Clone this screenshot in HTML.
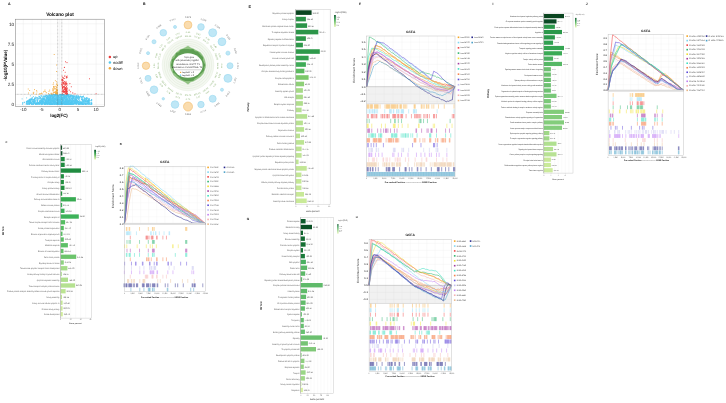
<!DOCTYPE html>
<html><head><meta charset="utf-8"><style>
html,body{margin:0;padding:0;background:#fff;width:726px;height:403px;overflow:hidden}
svg{display:block;font-family:"Liberation Sans", sans-serif;text-rendering:geometricPrecision}
</style></head><body>
<svg width="726" height="403" viewBox="0 0 726 403">
<rect width="726" height="403" fill="#fff"/>
<g opacity="0.999">
<text x="60" y="15.6" font-size="5" text-anchor="middle" fill="#000" font-weight="bold" textLength="27.7" lengthAdjust="spacingAndGlyphs">Volcano plot</text>
<rect x="15.6" y="19.2" width="88.7" height="87.2" fill="#fff"/>
<line x1="32.4" y1="19.2" x2="32.4" y2="106.4" stroke="#f3f3f3" stroke-width="0.3"/>
<line x1="50.6" y1="19.2" x2="50.6" y2="106.4" stroke="#f3f3f3" stroke-width="0.3"/>
<line x1="68.8" y1="19.2" x2="68.8" y2="106.4" stroke="#f3f3f3" stroke-width="0.3"/>
<line x1="87" y1="19.2" x2="87" y2="106.4" stroke="#f3f3f3" stroke-width="0.3"/>
<line x1="15.6" y1="94.5" x2="104.3" y2="94.5" stroke="#f3f3f3" stroke-width="0.3"/>
<line x1="15.6" y1="74.3" x2="104.3" y2="74.3" stroke="#f3f3f3" stroke-width="0.3"/>
<line x1="15.6" y1="54.1" x2="104.3" y2="54.1" stroke="#f3f3f3" stroke-width="0.3"/>
<line x1="15.6" y1="33.9" x2="104.3" y2="33.9" stroke="#f3f3f3" stroke-width="0.3"/>
<line x1="23.3" y1="19.2" x2="23.3" y2="106.4" stroke="#e8e8e8" stroke-width="0.4"/>
<line x1="41.5" y1="19.2" x2="41.5" y2="106.4" stroke="#e8e8e8" stroke-width="0.4"/>
<line x1="59.7" y1="19.2" x2="59.7" y2="106.4" stroke="#e8e8e8" stroke-width="0.4"/>
<line x1="77.9" y1="19.2" x2="77.9" y2="106.4" stroke="#e8e8e8" stroke-width="0.4"/>
<line x1="96.1" y1="19.2" x2="96.1" y2="106.4" stroke="#e8e8e8" stroke-width="0.4"/>
<line x1="15.6" y1="104.6" x2="104.3" y2="104.6" stroke="#e8e8e8" stroke-width="0.4"/>
<line x1="15.6" y1="84.4" x2="104.3" y2="84.4" stroke="#e8e8e8" stroke-width="0.4"/>
<line x1="15.6" y1="64.2" x2="104.3" y2="64.2" stroke="#e8e8e8" stroke-width="0.4"/>
<line x1="15.6" y1="44" x2="104.3" y2="44" stroke="#e8e8e8" stroke-width="0.4"/>
<line x1="15.6" y1="23.8" x2="104.3" y2="23.8" stroke="#e8e8e8" stroke-width="0.4"/>
<path d="M73.2 97.7h0M73.1 96.1h0M29.0 101.5h0M33.4 102.2h0M66.4 100.4h0M68.8 102.9h0M74.7 103.8h0M35.0 100.8h0M60.5 104.4h0M39.5 103.5h0M81.5 103.1h0M60.4 98.7h0M78.4 96.2h0M45.1 102.4h0M52.4 103.8h0M54.1 104.4h0M47.6 102.7h0M56.7 102.6h0M76.6 99.1h0M62.5 97.8h0M27.4 101.0h0M59.3 99.9h0M67.6 95.2h0M62.1 97.7h0M85.9 103.0h0M37.3 104.1h0M76.7 97.3h0M56.2 95.1h0M50.0 95.8h0M74.9 96.3h0M55.3 103.6h0M70.3 103.8h0M89.3 104.0h0M75.8 102.0h0M58.3 99.7h0M55.1 101.6h0M62.6 100.9h0M34.5 99.9h0M66.1 97.4h0M58.0 101.5h0M65.8 101.3h0M80.2 96.4h0M50.6 101.0h0M56.6 102.8h0M67.4 94.7h0M65.9 100.9h0M69.8 104.1h0M65.0 102.2h0M75.3 99.1h0M74.3 102.3h0M44.0 101.3h0M70.0 102.8h0M67.4 100.0h0M33.9 101.5h0M52.8 97.1h0M76.7 102.5h0M72.9 97.3h0M46.8 97.1h0M69.8 95.0h0M59.0 100.5h0M75.7 101.4h0M71.8 98.4h0M33.3 99.6h0M52.8 99.5h0M66.5 98.3h0M47.9 103.7h0M54.3 98.7h0M28.9 102.6h0M52.2 104.2h0M56.3 103.5h0M67.3 101.2h0M46.3 103.3h0M26.3 103.3h0M48.4 101.8h0M65.9 104.3h0M32.2 101.7h0M48.6 100.1h0M78.1 102.0h0M66.9 102.1h0M45.8 95.7h0M64.8 102.3h0M26.3 104.2h0M50.1 99.7h0M40.7 102.4h0M39.6 103.5h0M72.3 95.5h0M63.9 103.0h0M57.6 101.7h0M57.5 94.5h0M56.3 103.9h0M54.3 102.8h0M78.6 104.3h0M74.2 103.0h0M75.7 103.3h0M81.8 103.1h0M56.3 99.2h0M73.3 104.0h0M45.3 100.8h0M91.7 103.6h0M47.6 98.3h0M62.5 104.3h0M31.6 99.1h0M67.7 104.3h0M53.3 100.0h0M66.3 101.0h0M50.6 102.0h0M38.7 103.0h0M30.4 99.8h0M53.6 102.8h0M83.9 104.0h0M45.0 102.6h0M55.0 99.9h0M30.5 103.7h0M76.4 99.5h0M53.5 94.4h0M29.3 100.1h0M23.9 102.9h0M71.3 103.9h0M66.2 99.6h0M56.0 103.7h0M29.0 104.2h0M63.8 100.0h0M81.8 104.0h0M61.7 102.6h0M57.2 95.2h0M78.7 103.9h0M58.3 95.6h0M66.7 99.5h0M50.2 98.0h0M56.5 103.9h0M44.9 103.7h0M67.7 104.1h0M32.0 104.1h0M75.2 103.3h0M56.6 102.5h0M28.1 101.2h0M78.6 99.6h0M85.9 104.1h0M68.3 97.1h0M51.0 103.2h0M51.0 99.7h0M54.4 96.8h0M77.2 101.9h0M59.0 99.8h0M64.4 98.0h0M62.5 103.4h0M61.6 95.9h0M59.7 101.1h0M65.4 101.6h0M59.3 104.0h0M66.6 102.0h0M35.8 103.4h0M70.4 103.7h0M61.1 104.3h0M49.6 95.6h0M68.9 101.2h0M33.7 100.6h0M74.7 99.3h0M36.6 103.7h0M60.3 101.8h0M49.3 102.7h0M64.9 102.9h0M71.7 103.7h0M45.1 99.6h0M32.2 98.1h0M80.8 102.2h0M68.2 100.4h0M59.1 102.3h0M85.0 101.9h0M29.6 103.7h0M71.8 102.0h0M59.2 102.6h0M73.1 104.3h0M37.6 101.5h0M54.3 102.6h0M58.6 100.3h0M64.1 96.4h0M75.9 101.3h0M61.5 102.0h0M72.2 96.1h0M36.4 103.5h0M67.4 102.6h0M63.1 102.6h0M35.7 104.2h0M71.7 100.2h0M66.7 104.2h0M29.3 103.9h0M55.5 101.6h0M64.0 97.8h0M74.9 98.3h0M48.1 101.6h0M67.7 95.2h0M70.6 103.0h0M50.4 103.9h0M64.7 98.8h0M68.6 104.2h0M61.5 104.3h0M68.1 96.5h0M65.0 103.2h0M68.7 102.2h0M77.0 97.7h0M32.2 101.8h0M61.1 98.3h0M81.3 104.0h0M50.9 95.8h0M46.8 98.0h0M59.9 94.7h0M65.4 104.0h0M52.8 104.2h0M28.3 102.1h0M69.3 103.4h0M50.8 103.5h0M46.1 103.3h0M76.8 103.3h0M79.4 97.8h0M51.6 103.8h0M57.3 104.3h0M76.7 96.8h0M71.8 97.6h0M49.0 99.6h0M50.1 104.3h0M35.9 101.0h0M50.9 104.3h0M67.0 102.0h0M55.9 94.6h0M84.7 100.2h0M60.2 97.1h0M47.0 100.1h0M59.3 102.8h0M70.2 100.1h0M71.5 102.7h0M43.6 98.9h0M66.1 97.9h0M86.8 98.7h0M79.3 99.0h0M39.4 101.3h0M41.4 96.1h0M58.9 101.9h0M60.3 99.0h0M83.9 100.8h0M75.2 100.6h0M49.9 96.3h0M72.4 102.8h0M39.6 103.8h0M74.8 103.4h0M40.3 100.8h0M81.9 99.5h0M45.4 96.4h0M67.0 102.9h0M87.4 103.8h0M72.3 99.9h0M70.9 103.6h0M47.5 98.5h0M43.7 101.3h0M86.8 103.2h0M67.1 95.6h0M51.5 101.1h0M36.0 103.7h0M66.0 99.6h0M63.8 97.7h0M77.9 98.1h0M84.7 97.6h0M87.3 104.1h0M67.9 102.1h0M63.2 98.7h0M31.5 102.7h0M55.1 99.7h0M64.3 98.7h0M90.4 104.3h0M71.9 102.8h0M52.4 101.1h0M57.4 102.0h0M30.5 102.3h0M76.2 100.5h0M46.5 100.9h0M81.4 102.2h0M57.1 102.9h0M55.3 101.1h0M60.5 101.9h0M32.0 103.0h0M26.5 101.4h0M69.6 101.4h0M60.7 100.6h0M66.7 101.4h0M91.7 104.2h0M78.9 101.3h0M54.1 101.9h0M53.7 99.8h0M67.1 99.4h0M81.9 102.3h0M78.5 96.9h0M63.0 94.3h0M82.7 103.9h0M52.9 94.9h0M39.9 102.1h0M49.1 99.1h0M61.7 103.7h0M71.2 96.2h0M38.7 104.3h0M87.1 101.3h0M65.4 103.2h0M85.6 104.3h0M50.4 98.0h0M64.2 97.5h0M24.3 102.5h0M55.6 104.0h0M50.0 102.2h0M30.0 103.7h0M43.0 103.2h0M58.9 101.0h0M26.7 101.3h0M52.7 100.8h0M76.4 104.2h0M72.3 102.4h0M62.8 102.7h0M42.9 102.4h0M35.1 100.0h0M86.4 97.7h0M74.9 104.2h0M86.0 100.0h0M36.9 103.1h0M78.9 97.9h0M50.6 100.2h0M72.0 101.5h0M69.9 103.8h0M42.9 103.1h0M73.2 103.1h0M65.8 101.9h0M41.8 103.2h0M54.0 95.9h0M66.0 103.9h0M58.6 104.3h0M42.9 97.7h0M62.3 99.8h0M57.0 98.2h0M65.0 103.3h0M33.2 104.2h0M32.1 104.2h0M43.3 98.9h0M37.4 100.3h0M33.8 99.8h0M59.5 97.7h0M60.4 95.7h0M64.8 103.0h0M39.2 104.1h0M67.3 104.1h0M46.0 103.7h0M46.6 101.1h0M54.5 100.0h0M35.4 103.3h0M32.3 101.6h0M52.8 97.5h0M44.8 104.0h0M53.4 102.2h0M43.0 99.9h0M86.8 104.1h0M47.5 104.0h0M79.7 100.7h0M72.4 99.6h0M42.7 102.0h0M57.5 104.1h0M56.9 96.2h0M46.5 102.8h0M81.4 97.6h0M51.6 104.0h0M60.2 100.1h0M62.7 104.0h0M88.6 102.4h0M46.8 98.0h0M54.4 94.6h0M58.4 101.4h0M26.3 103.2h0M48.6 100.8h0M50.4 99.4h0M46.8 97.5h0M62.5 95.2h0M63.0 101.4h0M62.6 100.8h0M59.3 101.1h0M64.5 103.9h0M49.6 98.8h0M32.7 97.7h0M62.5 101.4h0M80.5 103.8h0M32.9 101.4h0M64.6 102.2h0M58.5 97.6h0M53.1 99.8h0M57.2 96.1h0M44.1 102.6h0M34.6 102.4h0M66.5 99.1h0M72.3 104.4h0M46.0 97.0h0M52.9 96.8h0M47.7 98.4h0M58.7 98.3h0M76.6 103.8h0M82.9 99.2h0M28.9 102.2h0M59.9 103.9h0M85.0 103.5h0M67.4 102.0h0M40.7 103.1h0M55.6 99.0h0M59.1 101.5h0M44.2 98.6h0M41.6 101.8h0M30.1 103.6h0M35.6 104.3h0M47.1 98.0h0M46.1 97.7h0M63.4 100.6h0M66.0 99.5h0M65.1 98.3h0M65.3 104.3h0M88.9 103.8h0M38.2 102.8h0M55.8 103.3h0M63.8 101.5h0M58.0 103.7h0M82.9 100.0h0M46.8 102.0h0M57.2 101.3h0M70.1 96.7h0M74.5 96.9h0M76.4 102.0h0M67.9 96.2h0M54.3 103.5h0M61.3 103.1h0M74.9 103.6h0M66.4 104.1h0M49.2 103.8h0M49.2 104.4h0M54.2 104.4h0M62.5 94.9h0M46.9 96.0h0M60.6 104.2h0M74.2 101.3h0M54.8 95.6h0M60.2 103.6h0M60.9 101.4h0M40.8 103.0h0M30.7 102.0h0M50.8 104.1h0M52.0 102.6h0M75.5 102.8h0M34.0 101.7h0M44.5 99.7h0M66.5 104.3h0M45.8 103.8h0M62.4 101.3h0M55.2 102.8h0M51.0 102.7h0M44.7 104.1h0M65.0 102.4h0M57.8 98.7h0M81.0 102.8h0M54.9 96.2h0M74.8 103.4h0M57.5 100.8h0M83.9 101.7h0M62.3 101.3h0M65.2 101.8h0M69.2 96.3h0M70.1 102.2h0M63.6 103.6h0M59.3 104.0h0M83.5 104.2h0M55.9 99.4h0M57.8 101.2h0M56.8 102.4h0M58.5 96.4h0M65.4 96.6h0M48.3 99.6h0M61.5 96.0h0M66.3 95.3h0M29.1 100.0h0M34.5 99.7h0M55.2 102.9h0M33.9 102.6h0M75.7 100.0h0M48.8 102.9h0M50.3 97.2h0M41.6 101.3h0M31.5 100.0h0M59.1 102.4h0M36.5 97.4h0M49.2 100.7h0M59.7 103.3h0M76.1 103.4h0M66.2 103.5h0M46.0 103.2h0M61.1 104.0h0M73.1 96.1h0M75.8 103.2h0M59.1 103.6h0M57.3 104.3h0M64.5 96.5h0M72.4 98.5h0M61.5 102.0h0M59.0 103.0h0M63.2 103.9h0M59.9 94.9h0M72.3 97.1h0M63.7 102.5h0M52.1 96.6h0M44.9 103.8h0M76.7 100.4h0M70.8 103.3h0M60.1 98.9h0M55.5 103.4h0M33.7 101.2h0M72.6 101.2h0M66.1 98.7h0M80.5 103.7h0M54.1 98.0h0M58.1 101.1h0M65.6 100.2h0M67.7 102.6h0M50.3 101.2h0M67.0 103.9h0M51.7 104.0h0M27.5 102.7h0M56.5 104.3h0M66.7 95.8h0M71.0 102.4h0M65.8 104.3h0M54.3 101.4h0M87.0 102.2h0M71.2 98.5h0M75.4 100.8h0M86.8 101.2h0M40.4 102.7h0M49.5 99.7h0M68.6 95.7h0M71.1 98.7h0M59.1 99.5h0M30.1 100.5h0M43.8 98.8h0M55.9 95.2h0M60.5 100.1h0M46.7 98.7h0M31.6 100.0h0M60.4 97.3h0M35.5 101.8h0M70.5 95.3h0M78.7 104.2h0M86.8 100.0h0M43.3 98.3h0M50.4 96.5h0M87.7 102.1h0M43.5 99.6h0M91.3 103.4h0M69.8 104.3h0M69.2 102.8h0M41.5 99.6h0M55.1 95.9h0M54.9 102.2h0M68.6 104.0h0M50.9 95.4h0M80.3 103.3h0M49.4 104.0h0M48.9 103.0h0M61.1 101.4h0M60.6 96.1h0M53.7 95.2h0M70.6 104.4h0M51.3 94.7h0M72.9 97.5h0M54.6 95.7h0M35.7 97.0h0M73.4 102.8h0M45.5 101.5h0M66.8 95.2h0M51.6 103.2h0M80.9 104.1h0M78.0 101.1h0M68.8 100.7h0M59.4 103.8h0M69.4 104.3h0M47.6 103.3h0M68.9 101.0h0M68.7 104.2h0M47.7 96.4h0M54.4 104.3h0M85.5 100.6h0M79.7 102.0h0M63.8 103.4h0M74.4 103.6h0M65.9 95.9h0M57.4 97.4h0M84.5 101.9h0M45.0 95.4h0M51.2 95.6h0M85.4 100.0h0M56.2 95.7h0M28.7 103.3h0M78.5 103.8h0M47.1 103.1h0M58.4 95.1h0M60.1 104.3h0M32.2 103.8h0M73.9 99.9h0M29.3 101.0h0M62.9 104.0h0M68.4 95.3h0M48.3 101.8h0M62.7 103.6h0M85.0 104.3h0M44.7 103.4h0M48.9 102.8h0M47.6 101.1h0M56.2 95.1h0M50.0 97.5h0M65.6 99.9h0M71.3 103.5h0M61.2 98.6h0M62.0 103.1h0M79.1 102.5h0M62.5 98.8h0M70.6 103.4h0M37.8 100.8h0M44.4 96.7h0M71.2 103.9h0M44.4 99.9h0M46.6 103.1h0M78.7 101.6h0M57.1 99.0h0M65.3 99.9h0M62.6 94.6h0M80.2 96.3h0M46.7 102.2h0M62.6 103.9h0M59.6 97.8h0M66.7 99.9h0M64.9 98.1h0M64.3 103.9h0M73.6 98.2h0M74.7 103.4h0M70.3 103.0h0M76.0 100.3h0M63.5 94.6h0M58.0 99.9h0M45.8 103.3h0M37.3 100.7h0M41.7 99.8h0M52.0 103.0h0M50.7 104.3h0M47.1 99.3h0M75.2 97.7h0M46.7 99.1h0M77.3 97.0h0M34.5 98.5h0M53.8 97.1h0M70.4 99.2h0M88.9 103.2h0M55.1 103.9h0M30.7 99.6h0M71.4 101.0h0M48.1 103.2h0M89.6 98.8h0M82.1 100.0h0M44.4 98.7h0M63.8 103.3h0M86.8 101.3h0M65.1 104.3h0M77.4 102.4h0M54.6 100.2h0M46.3 100.2h0M59.9 97.3h0M48.8 97.2h0M46.8 104.0h0M79.0 104.4h0M64.8 96.4h0M50.0 104.0h0M71.2 101.3h0M39.5 101.7h0M82.9 96.8h0M37.4 103.7h0M50.7 101.2h0M43.5 100.2h0M62.6 101.5h0M35.3 97.9h0M75.9 102.6h0M44.8 102.4h0M88.1 100.7h0M91.7 103.0h0M59.7 103.7h0M59.3 102.8h0M71.5 103.8h0M54.9 100.6h0M61.6 97.5h0M79.2 96.8h0M34.9 97.8h0M70.7 100.5h0M50.0 98.0h0M75.0 101.8h0M46.0 103.1h0M47.8 104.4h0M72.3 96.4h0M69.8 98.9h0M89.5 100.3h0M28.7 102.2h0M60.6 102.6h0M57.1 95.1h0M89.3 99.0h0M70.4 97.1h0M65.0 103.1h0M59.7 103.8h0M38.4 103.8h0M34.5 98.9h0M81.8 99.5h0M43.1 101.9h0M66.5 101.9h0M53.8 97.2h0M31.5 103.8h0M62.0 103.1h0M50.4 101.3h0M75.7 103.0h0M51.6 100.8h0M56.0 99.0h0M83.1 100.8h0M62.7 100.1h0M67.0 100.9h0M74.3 101.7h0M66.8 102.5h0M48.3 102.8h0M47.6 101.9h0M81.8 102.6h0M41.7 103.3h0M52.3 95.6h0M55.4 100.9h0M50.5 103.2h0M63.2 103.8h0M49.7 103.5h0M88.4 103.8h0M51.3 94.6h0M58.7 95.8h0M34.6 102.2h0M35.9 104.2h0M84.7 100.6h0M47.8 97.8h0M54.1 99.3h0M57.8 104.2h0M22.6 102.7h0M85.4 104.0h0M54.1 101.2h0M47.0 98.1h0M72.2 101.7h0M48.1 102.6h0M68.6 95.1h0M34.8 100.4h0M48.0 96.4h0M30.7 101.4h0M43.5 97.2h0M82.5 103.4h0M51.0 103.6h0M62.8 103.3h0M57.3 98.8h0M46.9 100.6h0M63.2 102.8h0M79.5 103.2h0M65.2 102.1h0M50.0 97.7h0M55.4 96.9h0M65.2 103.9h0M89.3 102.8h0M70.0 96.4h0M41.7 102.9h0M65.8 101.9h0M66.4 103.8h0M45.3 96.3h0M68.7 103.0h0M47.7 96.7h0M51.9 98.6h0M47.9 103.8h0M39.3 96.6h0M57.4 101.4h0M37.1 104.1h0M70.7 102.5h0M54.9 99.2h0M51.1 104.3h0M72.6 104.1h0M70.0 97.7h0M59.5 103.8h0M39.0 103.9h0M77.8 102.9h0M37.8 99.3h0M22.6 104.3h0M82.4 96.6h0M73.6 103.5h0M73.9 100.4h0M57.3 100.8h0M34.1 103.6h0M63.5 97.4h0M75.1 100.0h0M59.9 103.3h0M85.9 98.2h0M78.1 95.8h0M57.4 101.3h0M65.2 101.0h0M82.4 99.0h0M71.7 103.5h0M63.5 103.0h0M68.7 97.2h0M51.8 104.3h0M56.8 99.1h0M48.7 99.9h0M47.2 97.8h0M40.6 100.7h0M58.3 104.2h0M73.0 95.6h0M61.8 98.6h0M66.4 101.6h0M91.7 104.1h0M66.9 102.4h0M43.6 98.6h0M53.7 99.9h0M86.6 99.9h0M41.0 99.1h0M48.1 101.3h0M56.2 104.2h0M60.3 102.4h0M67.8 104.3h0M29.7 99.6h0M69.8 100.9h0M69.2 100.5h0M53.5 96.6h0M79.4 102.2h0M46.2 104.0h0M67.7 99.0h0M65.6 103.5h0M50.7 102.5h0M32.9 100.5h0M36.0 98.8h0M66.5 103.0h0M78.0 102.3h0M71.8 95.4h0M62.2 102.1h0M54.8 101.8h0M45.0 103.0h0M53.1 98.5h0M54.1 101.0h0M53.1 104.3h0M38.1 98.5h0M77.3 96.0h0M65.2 103.8h0M61.9 102.6h0M51.5 95.9h0M61.3 98.4h0M77.2 100.5h0M44.8 97.8h0M80.7 102.8h0M54.4 101.1h0M49.9 98.1h0M72.6 98.9h0M48.4 98.4h0M40.1 97.5h0M51.2 96.9h0M58.0 97.9h0M59.1 99.8h0M61.5 95.4h0M83.1 104.3h0M72.0 102.5h0M66.5 97.6h0M67.3 102.0h0M75.2 101.8h0M55.6 102.0h0M78.3 97.7h0M53.4 100.8h0M72.0 102.0h0M55.8 98.1h0M58.8 98.6h0M85.6 101.2h0M69.6 96.3h0M26.9 103.5h0M39.1 104.0h0M58.2 96.9h0M27.9 103.5h0M46.3 103.1h0M59.3 101.3h0M71.6 95.1h0M78.5 103.0h0M80.8 103.0h0M85.4 101.3h0M45.6 100.4h0M74.5 102.1h0M39.6 102.4h0M73.6 103.7h0M52.6 102.0h0M45.0 104.2h0M73.0 104.2h0M71.5 101.9h0M49.4 102.9h0M76.3 95.9h0M49.9 104.2h0M56.7 104.1h0M82.9 104.0h0M63.0 94.6h0M56.7 103.4h0M68.6 101.3h0M30.7 102.3h0M66.4 96.2h0M32.1 104.0h0M30.6 100.3h0M68.1 98.1h0M53.0 103.2h0M52.8 100.4h0M62.9 98.5h0M53.2 100.6h0M54.0 97.4h0M58.4 102.7h0M64.5 103.3h0M68.6 103.4h0M52.7 96.7h0M83.4 101.3h0M55.2 98.7h0M84.2 98.8h0M77.1 103.0h0M59.7 103.7h0M58.7 103.6h0M65.5 103.4h0M65.9 99.5h0M46.2 103.0h0M65.6 101.1h0M79.1 104.0h0M33.9 99.4h0M62.1 97.1h0M46.3 102.3h0M42.6 100.0h0M75.7 98.0h0M52.7 95.9h0M65.1 95.7h0M77.5 101.7h0M64.0 103.6h0M81.7 103.5h0M51.4 100.8h0M65.6 97.5h0M50.8 103.8h0M35.6 104.1h0M57.9 103.7h0M42.3 99.0h0M62.2 104.3h0M83.1 102.0h0M82.2 104.3h0M46.2 103.6h0M56.8 100.1h0M48.1 100.4h0M86.3 101.4h0M45.7 102.0h0M62.9 98.3h0M42.7 103.7h0M72.0 103.2h0M67.1 98.1h0M51.1 95.7h0M59.5 99.6h0M44.5 104.1h0M53.5 97.7h0M30.3 103.3h0M44.5 104.1h0M78.1 101.8h0M73.8 97.3h0M56.0 97.3h0M30.2 102.9h0M89.1 100.1h0M80.6 101.4h0M43.1 100.1h0M51.1 100.9h0M78.2 96.4h0M74.3 95.8h0M46.9 95.3h0M77.6 98.2h0M46.2 99.8h0M27.5 104.1h0M62.1 101.6h0M54.3 103.8h0M60.9 100.8h0M41.0 95.8h0M55.6 95.2h0M50.4 98.1h0M62.8 97.4h0M82.5 101.3h0M60.8 104.1h0M29.1 99.9h0M53.6 101.2h0M41.7 103.6h0M61.7 94.7h0M61.4 104.0h0M68.2 95.2h0M28.7 100.3h0M66.8 104.0h0M68.8 98.7h0M85.9 104.0h0M44.8 100.0h0M28.3 101.2h0M51.8 100.1h0M66.5 104.0h0M53.3 101.4h0M68.3 100.5h0M88.6 100.4h0M81.6 103.3h0M47.9 104.3h0M87.9 101.5h0M56.1 96.2h0M84.8 102.1h0M91.1 104.2h0M66.7 99.7h0M53.2 104.3h0M68.6 102.1h0M70.5 95.5h0M42.4 100.2h0M76.2 103.9h0M51.1 95.8h0M52.2 98.5h0M87.9 98.4h0M38.7 98.2h0M33.0 104.2h0M88.8 104.3h0M68.0 101.1h0M44.3 103.5h0M73.1 103.7h0M64.1 95.3h0M82.6 104.3h0M59.0 103.7h0M31.4 99.6h0M66.9 95.3h0M72.6 99.7h0M56.5 103.5h0M52.5 101.4h0M50.7 98.3h0M78.9 103.4h0M55.8 99.8h0M59.3 103.5h0M64.6 102.0h0M54.1 100.4h0M37.3 102.8h0M82.3 104.0h0M69.1 99.4h0M64.5 95.7h0M49.1 96.7h0M69.5 100.8h0M63.0 94.8h0M64.7 102.0h0M42.7 101.2h0M48.8 97.7h0M30.7 99.9h0M52.4 102.8h0M42.9 103.2h0M60.0 96.9h0M51.6 104.3h0M52.1 104.0h0M91.7 103.3h0M52.9 100.7h0M68.1 95.4h0M81.8 98.0h0M54.0 94.6h0M62.9 100.1h0M91.7 99.8h0M49.1 100.6h0M37.8 97.7h0M33.9 103.2h0M82.0 96.5h0M68.7 102.2h0M44.8 104.0h0M53.7 103.4h0M62.5 103.9h0M58.3 101.6h0M60.5 94.9h0M84.9 98.5h0M81.7 102.8h0M47.2 96.0h0M91.7 99.5h0M48.2 100.2h0M77.9 104.0h0M39.3 101.3h0M57.0 101.0h0M76.1 99.5h0M52.7 98.4h0M65.0 97.7h0M58.8 98.9h0M67.4 94.9h0M70.8 96.5h0M62.3 99.8h0M63.0 95.9h0M60.0 99.6h0M75.2 102.3h0M39.8 96.7h0M44.9 96.4h0M82.3 103.7h0M42.7 103.9h0M82.6 97.8h0M66.9 103.7h0M47.0 99.6h0M89.8 103.4h0M46.4 102.1h0M61.9 99.1h0M69.2 99.0h0M52.5 104.0h0M64.2 101.0h0M49.4 100.7h0M67.9 103.9h0M62.8 104.0h0M63.4 100.9h0M67.2 102.9h0M72.8 101.7h0M63.2 98.1h0M59.7 101.3h0M52.1 95.4h0M74.0 100.7h0M70.7 103.3h0M67.7 103.8h0M45.9 103.5h0M71.2 102.5h0M79.8 98.2h0M40.7 98.0h0M45.8 103.3h0M51.4 103.0h0M41.1 98.4h0M73.8 96.7h0M42.2 101.2h0M60.5 98.9h0M83.8 104.3h0M91.7 103.5h0M45.3 103.8h0M71.1 103.6h0M54.6 104.0h0M46.0 103.3h0M83.3 101.9h0M43.9 103.7h0M30.4 101.4h0M27.5 104.1h0M36.1 99.0h0M69.4 104.3h0M63.4 95.3h0M69.9 102.0h0M85.3 104.3h0M56.1 104.0h0M53.9 102.4h0M87.6 100.9h0M90.3 102.8h0M59.1 100.6h0M46.9 101.3h0M43.4 96.6h0M69.8 96.3h0M55.2 95.0h0M31.3 98.1h0M73.4 97.9h0M46.8 102.9h0M64.4 103.7h0M60.3 96.3h0M54.1 103.6h0M33.4 101.8h0M34.1 103.4h0M32.4 99.1h0M61.3 97.4h0M64.2 96.5h0M41.8 101.7h0M75.8 99.1h0M51.2 101.8h0M56.2 98.5h0M48.5 103.3h0M30.3 101.7h0M66.0 104.3h0M45.3 99.7h0M70.6 101.7h0M41.3 104.0h0M41.7 104.3h0M51.4 99.7h0M57.9 98.5h0M76.8 99.4h0M42.3 103.6h0M51.0 100.7h0M69.0 101.8h0M88.6 99.6h0M88.5 102.1h0M28.0 101.3h0M48.1 99.8h0M65.0 95.3h0M50.7 96.4h0M52.3 100.6h0M62.1 98.4h0M79.8 104.3h0M62.6 99.4h0M59.1 104.0h0M68.6 101.2h0M33.1 104.3h0M65.7 104.3h0M74.8 100.2h0M57.6 95.4h0M76.3 96.6h0M59.6 99.6h0M53.9 102.6h0M89.2 104.1h0M74.4 103.5h0M83.0 104.2h0M76.6 95.7h0M68.6 97.2h0M79.1 103.9h0M88.7 102.3h0M76.0 96.8h0M88.6 100.9h0M86.3 99.9h0M67.5 98.7h0M52.5 104.1h0M62.5 98.3h0M80.1 97.2h0M42.0 98.4h0M33.5 104.3h0M37.1 98.0h0M52.8 100.6h0M82.3 100.5h0M71.6 103.6h0M60.7 104.2h0M46.1 103.7h0M49.3 102.2h0M43.9 103.1h0M63.9 95.0h0M47.0 101.5h0M66.8 99.4h0M35.7 102.1h0M26.3 101.9h0M38.6 103.3h0M59.0 99.2h0M55.0 95.3h0M51.4 97.8h0M69.6 98.5h0M42.3 97.1h0M58.0 99.3h0M61.5 103.4h0M88.7 101.6h0M68.4 97.8h0M65.4 101.0h0M91.7 102.9h0M76.4 104.2h0M29.6 99.2h0M56.7 100.7h0M63.3 102.7h0M53.5 98.0h0M54.1 102.5h0M32.5 99.9h0M68.2 96.4h0M46.1 103.5h0M31.0 101.7h0M54.2 98.9h0M55.8 100.0h0M36.8 102.9h0M69.8 96.2h0M50.1 102.0h0M71.2 102.6h0M49.5 101.5h0M78.0 97.1h0M62.1 101.3h0M86.7 98.1h0M37.8 102.6h0M67.1 97.0h0M37.9 103.5h0M47.8 100.0h0M59.4 97.0h0M70.2 102.3h0M39.6 98.7h0M63.8 97.8h0M74.9 96.5h0M83.9 99.9h0M58.4 103.5h0M31.8 99.2h0M35.1 98.2h0M39.9 102.7h0M65.8 99.9h0M46.4 97.0h0M80.1 102.0h0M46.5 99.3h0M59.7 102.8h0M67.8 100.4h0M49.9 96.3h0M67.6 95.1h0M56.2 97.3h0M66.7 95.2h0M60.4 95.3h0M51.9 103.5h0M30.7 98.7h0M30.3 102.8h0M87.6 101.8h0M53.1 98.0h0M54.7 98.2h0M52.2 104.3h0M61.6 104.4h0M75.2 103.4h0M43.2 101.4h0M45.9 102.9h0M73.1 103.3h0M56.7 97.7h0M49.8 104.1h0M82.3 100.2h0M89.1 100.3h0M57.9 95.8h0M49.5 95.5h0M78.1 96.2h0M69.3 104.0h0M31.7 98.9h0M81.7 99.3h0M47.5 96.6h0M50.6 101.8h0M75.6 99.8h0M51.1 104.0h0M45.0 103.8h0M76.7 100.3h0M74.1 98.9h0M28.3 101.1h0M83.2 100.7h0M38.1 99.3h0M73.6 101.5h0M42.3 102.3h0M49.2 99.6h0M44.4 100.1h0M66.1 103.6h0M43.0 102.8h0M54.6 103.4h0M63.0 95.6h0M48.0 104.0h0M62.3 104.1h0M58.1 101.7h0M50.3 103.7h0M74.4 103.2h0M73.0 98.2h0M27.1 104.2h0M57.3 101.6h0M42.2 101.4h0M71.1 104.2h0M48.4 96.7h0M51.3 96.0h0M67.4 99.6h0M52.6 104.4h0M58.8 102.5h0M43.7 95.8h0M86.0 103.2h0M69.0 103.8h0M32.6 100.0h0M76.1 101.3h0M64.3 104.4h0M52.5 95.6h0M58.7 104.3h0M42.0 102.3h0M66.9 96.5h0M42.1 100.8h0M57.6 99.3h0M59.7 95.3h0M70.7 102.0h0M78.8 99.1h0M55.6 102.6h0M59.0 100.8h0M62.7 104.3h0M81.1 103.0h0M72.4 100.9h0M71.7 98.8h0M76.2 101.7h0M40.0 98.4h0M28.8 104.0h0M69.0 103.8h0M91.7 100.1h0M42.6 98.7h0M52.2 98.5h0M67.8 103.7h0M72.8 98.6h0M63.9 94.9h0M82.8 101.3h0M53.3 103.6h0M42.3 101.7h0M44.1 100.1h0M60.8 103.8h0M73.8 103.0h0M75.9 102.7h0M60.5 103.1h0M87.7 101.2h0M29.5 102.1h0M42.9 104.3h0M64.8 95.3h0M62.0 96.7h0M67.3 104.3h0M47.9 103.8h0M51.2 104.1h0M75.4 104.1h0M64.1 99.8h0M50.9 97.1h0M69.8 99.1h0M66.0 103.9h0M64.2 104.0h0M60.3 96.9h0M51.2 98.1h0M87.9 103.7h0M83.0 99.4h0M71.0 99.9h0M40.3 104.2h0M43.0 104.1h0M52.1 103.8h0M53.9 103.0h0M65.3 104.0h0M82.1 104.0h0M69.1 101.6h0M89.6 101.7h0M63.5 99.2h0M39.1 96.8h0M46.6 95.5h0M64.9 98.0h0M44.1 101.5h0M55.4 103.7h0M84.9 103.9h0M47.8 98.1h0M67.3 101.2h0M75.2 103.2h0M66.2 102.9h0M63.1 99.3h0M72.4 103.4h0M73.2 98.2h0M41.0 96.0h0M84.2 103.2h0M63.0 96.0h0M70.5 103.8h0M58.0 102.4h0M59.2 95.4h0M82.7 103.6h0M40.1 103.3h0M41.7 104.3h0M30.3 101.3h0M31.7 102.6h0M58.6 95.9h0M56.3 98.0h0M69.0 99.9h0M35.4 104.0h0M60.9 103.0h0M59.7 97.9h0M84.2 101.0h0M49.8 100.4h0M47.2 103.5h0M76.8 101.6h0M37.2 102.9h0M22.6 103.3h0M70.1 100.3h0M67.8 97.3h0M57.6 101.9h0M59.7 103.0h0M33.9 103.2h0M71.2 100.6h0M64.4 97.6h0M36.9 104.2h0M89.4 102.9h0M63.9 95.8h0M68.7 104.3h0M55.8 104.0h0M26.3 104.0h0M73.2 100.9h0M63.9 103.0h0M52.8 97.4h0M65.9 103.7h0M53.1 99.9h0M57.7 101.9h0M61.3 104.0h0M75.2 95.8h0M51.1 103.2h0M40.7 99.1h0M50.1 103.0h0M56.9 100.8h0M60.9 94.4h0M64.0 96.0h0M36.5 103.7h0M69.0 99.7h0M37.2 101.4h0M72.0 99.0h0M31.7 104.1h0M54.5 98.4h0M75.1 98.9h0M59.9 95.7h0M56.7 96.8h0M49.8 95.0h0M74.3 102.9h0M51.0 101.1h0M47.6 102.3h0M67.8 103.8h0M72.3 101.1h0M50.3 103.2h0M81.3 96.7h0M42.3 101.3h0M82.4 103.5h0M69.2 101.2h0M54.1 102.9h0M53.2 101.5h0M50.1 99.6h0M89.9 104.2h0M64.3 100.0h0M41.2 100.7h0M48.6 102.1h0M45.3 98.2h0M60.4 100.7h0M63.3 100.1h0M59.1 97.1h0M63.3 98.2h0M74.0 96.8h0M58.8 102.4h0M37.1 104.4h0M51.1 103.6h0M35.1 98.4h0M66.6 101.0h0M57.0 102.7h0M41.9 100.1h0M76.4 99.3h0M82.6 102.3h0M35.1 102.6h0M56.3 102.2h0M62.5 97.8h0M77.1 98.8h0M48.7 97.9h0M50.6 102.9h0M70.9 104.3h0M86.7 104.3h0M53.2 95.4h0M41.3 102.9h0M65.0 99.0h0M70.4 96.2h0M34.7 101.7h0M61.4 103.6h0M87.9 101.0h0M51.8 103.1h0M81.6 99.3h0M88.1 100.8h0M59.3 103.6h0M63.1 94.5h0M43.5 102.4h0M72.9 98.5h0M41.7 103.1h0M75.3 100.1h0M73.3 96.8h0M55.4 103.1h0M58.7 96.1h0M55.2 102.2h0M54.0 102.4h0M78.5 98.4h0M51.0 101.8h0M47.1 103.7h0M57.4 103.1h0M48.3 99.6h0M64.7 104.3h0M52.7 98.0h0M63.8 96.6h0M61.2 104.2h0M86.0 102.9h0M52.5 95.3h0M28.8 103.9h0M70.9 103.3h0M51.2 94.8h0M49.3 98.7h0M67.8 101.7h0M63.1 98.8h0M29.6 104.2h0M53.7 98.3h0M91.7 102.1h0M47.6 95.9h0M29.9 101.6h0M50.6 103.9h0M60.7 100.4h0M40.7 101.9h0M64.0 100.0h0M53.7 103.4h0M45.6 104.0h0M32.2 102.4h0M82.0 103.5h0M30.8 100.0h0M71.2 102.7h0M55.4 104.0h0M60.5 101.1h0M74.2 100.7h0M63.0 101.3h0M33.5 103.8h0M66.2 101.2h0M86.0 98.6h0M72.1 96.8h0M66.8 104.2h0M49.1 104.3h0M51.0 102.5h0M87.4 103.4h0M88.1 102.3h0M85.5 103.2h0M48.4 97.8h0M48.1 97.0h0M64.6 104.0h0M55.1 96.2h0M69.3 103.9h0M85.9 104.2h0M49.8 104.1h0M45.8 103.6h0M78.2 101.5h0M91.7 104.2h0M73.6 96.6h0M77.3 103.6h0M31.8 103.6h0M55.3 99.5h0M51.7 104.3h0M41.5 100.5h0M51.8 100.3h0M65.2 101.1h0M69.8 95.1h0M67.4 101.3h0M40.7 101.8h0M44.3 97.9h0M49.2 94.9h0M57.1 101.9h0M71.9 99.8h0M60.9 103.9h0M66.1 100.9h0M47.7 98.9h0M66.4 103.8h0M67.2 99.1h0M58.7 104.2h0M41.2 104.3h0M84.2 100.9h0M57.3 97.8h0M54.8 100.5h0M76.2 96.5h0M80.4 96.3h0M80.9 104.3h0M84.6 103.2h0M63.8 102.0h0M32.1 103.9h0M74.7 101.3h0M38.5 103.4h0M66.2 96.8h0M48.1 100.5h0M50.1 103.9h0M54.4 102.3h0M80.4 102.7h0M66.1 103.0h0M57.3 97.1h0M40.4 97.6h0M36.2 103.1h0M54.3 102.3h0M84.5 99.3h0M54.3 95.7h0M70.3 104.3h0M27.8 100.7h0M52.8 96.9h0M73.8 100.0h0M34.2 101.4h0M77.6 97.5h0M77.9 101.2h0M73.8 100.0h0M38.0 103.2h0M41.2 104.0h0M88.3 104.1h0M42.6 99.7h0M56.9 104.0h0M58.7 101.1h0M57.6 99.1h0M65.5 98.9h0M61.1 101.5h0M68.4 96.1h0M79.8 104.2h0M67.6 103.1h0M42.2 98.7h0M42.6 101.7h0M59.7 103.5h0M65.2 103.7h0M52.2 101.8h0M66.6 104.0h0M39.8 101.9h0M85.9 103.0h0M63.8 96.9h0M55.1 99.4h0M89.1 99.8h0M78.0 104.0h0M86.5 98.9h0M69.8 99.8h0M75.7 97.2h0M60.1 94.5h0M60.9 99.7h0M38.1 102.9h0M47.9 98.3h0M45.3 102.2h0M78.4 103.1h0M51.5 99.7h0M67.0 99.9h0M61.0 100.8h0M71.3 104.3h0M62.0 104.1h0M81.8 98.1h0M47.0 103.1h0M41.0 102.0h0M66.5 96.6h0M78.5 103.7h0M66.6 102.8h0M72.5 100.2h0M46.5 97.7h0M50.9 96.5h0M61.8 99.5h0M33.6 102.9h0M49.1 100.0h0M63.6 100.1h0M49.0 99.1h0M55.8 97.8h0M44.0 99.1h0M45.6 100.9h0M71.3 95.5h0M63.9 104.3h0M78.7 104.3h0M66.2 104.0h0M53.7 100.9h0M69.2 102.5h0M83.6 103.7h0M53.2 103.7h0M69.3 104.2h0M49.1 104.1h0M42.2 96.1h0M53.0 103.7h0M68.9 97.3h0M34.5 102.5h0M29.6 100.5h0M54.5 103.8h0M89.0 99.9h0M73.6 95.9h0M63.0 100.3h0M29.6 101.6h0M64.0 102.9h0M36.0 103.7h0M55.1 95.3h0M31.6 104.3h0M65.1 96.7h0M41.5 101.9h0M49.7 97.2h0M62.2 101.0h0M61.6 94.5h0M38.1 102.9h0M50.6 103.3h0M62.4 99.8h0M61.4 102.4h0M71.5 102.1h0M37.0 103.4h0M83.3 96.9h0M52.7 101.5h0M50.4 104.4h0M63.0 99.6h0M78.9 101.9h0M87.8 101.3h0M73.1 104.2h0M75.0 98.0h0M64.5 97.9h0M78.4 103.4h0M82.0 104.1h0M73.3 103.8h0M68.1 102.3h0M57.2 104.4h0M50.4 99.4h0M65.6 104.2h0M40.2 103.2h0M87.8 102.9h0M36.9 104.2h0M76.6 97.6h0M47.2 103.9h0M57.1 102.5h0M64.3 95.6h0M57.1 100.7h0M37.5 100.4h0M74.5 103.5h0M68.9 99.1h0M34.5 99.5h0M26.5 102.4h0M33.4 102.3h0M73.0 96.9h0M27.3 102.3h0M68.6 96.1h0M50.8 103.0h0M52.5 97.6h0M63.1 100.7h0M65.6 103.7h0M65.9 102.5h0M46.1 101.0h0M58.7 101.7h0M27.6 101.7h0M88.0 98.4h0M57.8 104.2h0M56.8 104.3h0M79.7 100.1h0M64.8 102.4h0M58.4 96.4h0M91.7 100.5h0M64.7 103.6h0M76.1 98.3h0M66.8 95.6h0M68.6 94.6h0M71.3 101.6h0M59.7 101.3h0M52.7 99.5h0M55.9 94.9h0M70.8 97.8h0M79.2 97.6h0M46.5 103.5h0M43.4 99.3h0M29.1 104.1h0M61.0 102.1h0M68.1 103.4h0M60.5 102.7h0M26.7 101.7h0M62.3 95.3h0M50.7 103.8h0M69.4 97.8h0M84.5 99.0h0M85.3 103.9h0M36.1 100.3h0M45.8 102.1h0M71.1 96.6h0M71.0 103.6h0M42.7 104.1h0M49.3 98.8h0M28.1 101.3h0M89.0 101.3h0M79.6 102.3h0M82.8 102.5h0M59.7 103.7h0M70.8 99.3h0M58.9 96.2h0M28.0 104.2h0M29.5 102.8h0M79.5 104.0h0M50.9 99.2h0M56.0 98.1h0M57.6 95.5h0M45.1 104.2h0M69.4 98.2h0M39.9 100.5h0M72.8 104.0h0M45.1 96.1h0M54.3 103.4h0M39.4 104.1h0M54.8 102.1h0M47.7 98.9h0M51.7 98.2h0M44.1 96.6h0M27.1 101.6h0M50.3 99.4h0M47.0 101.9h0M45.4 101.6h0M64.6 102.4h0M53.7 102.8h0M64.6 101.2h0M47.6 101.3h0M45.4 100.9h0M48.8 95.0h0M79.7 103.9h0M40.3 101.8h0M64.3 104.4h0M84.0 102.6h0M39.2 100.1h0M51.0 96.7h0M41.8 103.7h0M59.3 98.7h0M56.9 100.6h0M58.4 97.4h0M46.4 95.7h0M65.5 95.3h0M46.7 104.0h0M71.7 103.9h0M69.7 97.2h0M87.2 101.2h0M38.9 96.2h0M58.0 103.8h0M71.3 103.9h0M73.3 100.7h0M55.7 94.6h0M49.0 95.6h0M56.7 99.1h0M77.8 101.3h0M70.7 102.4h0M43.8 99.4h0M54.1 96.8h0M37.0 99.2h0M45.1 104.3h0M40.0 97.7h0M76.3 100.9h0M48.3 95.4h0M57.5 101.1h0M29.5 103.7h0M50.7 99.0h0M31.2 99.4h0M76.4 102.9h0M33.9 101.3h0M60.3 102.5h0M49.0 102.9h0M50.3 95.3h0M34.5 103.8h0M67.2 94.7h0M44.0 102.0h0M61.1 103.2h0M36.9 102.9h0M42.5 103.4h0M83.6 102.8h0M65.2 97.6h0M34.9 100.2h0M50.2 97.1h0M65.5 96.9h0M74.0 102.1h0M55.7 102.6h0M49.2 103.1h0M66.6 96.8h0" stroke="#52c8f2" stroke-width="1" stroke-linecap="round"/>
<path d="M56.6 95.9h0M60.3 99.2h0M61.2 97.6h0M34.6 101.0h0M66.5 97.9h0M56.4 99.6h0M81.4 101.9h0M26.7 97.9h0M77.6 100.4h0M90.7 100.7h0M37.6 98.0h0M61.1 102.8h0M24.8 102.1h0M44.8 102.8h0M75.0 98.1h0M60.8 101.0h0M30.3 95.8h0M52.6 100.7h0M52.9 98.8h0M85.6 98.9h0M38.5 102.4h0M83.5 96.8h0M71.3 101.3h0M85.0 99.2h0M71.1 102.7h0M56.9 96.9h0M79.1 96.9h0M51.0 101.1h0M83.3 96.0h0M88.2 99.0h0M87.0 102.9h0M85.7 101.5h0M33.3 99.7h0M67.4 101.0h0M33.3 96.5h0M61.6 99.6h0M76.2 98.0h0M87.2 100.0h0M29.9 102.5h0M68.3 100.5h0M22.1 98.9h0M63.9 96.0h0M40.4 100.3h0M87.2 97.8h0M29.7 100.1h0" stroke="#56c8ec" stroke-width="1" stroke-linecap="round"/>
<path d="M56.1 91.9h0M55.0 88.5h0M55.2 92.5h0M53.1 88.9h0M43.4 91.9h0M57.5 94.1h0M53.2 92.9h0M56.0 88.5h0M39.5 93.9h0M45.0 90.0h0M53.7 89.2h0M36.7 90.6h0M41.6 93.2h0M45.4 91.8h0M56.9 89.2h0M57.1 93.5h0M56.5 89.7h0M56.8 92.9h0M55.2 91.4h0M36.9 91.9h0M56.7 90.7h0M40.6 93.8h0M52.9 90.9h0M53.9 86.7h0M49.0 91.4h0M57.4 90.4h0M57.4 92.9h0M36.4 94.1h0M57.4 85.4h0M56.5 89.9h0M33.8 92.3h0M33.5 93.7h0M56.5 87.4h0M55.9 89.8h0M53.1 84.4h0M57.0 93.2h0M46.4 92.7h0M53.5 90.9h0M56.8 92.7h0M51.8 94.0h0M56.4 81.7h0M55.2 86.3h0M56.3 93.1h0M55.3 80.7h0M52.8 89.0h0M56.1 94.0h0M55.2 91.7h0M33.2 92.9h0M57.3 90.4h0M28.4 93.0h0M56.8 90.1h0M52.8 94.0h0M57.5 85.3h0M56.7 91.2h0M53.5 86.4h0M29.7 90.5h0M34.4 89.6h0M44.3 91.3h0M57.1 91.4h0M55.3 92.9h0M53.6 87.3h0M42.0 93.4h0M55.7 93.5h0M56.9 93.3h0M28.2 89.0h0M54.9 86.8h0M56.9 84.6h0M54.5 92.5h0M52.9 90.2h0M57.4 90.1h0M57.1 87.6h0M53.5 92.7h0M54.7 89.0h0M55.9 93.1h0M56.8 84.8h0M51.2 93.2h0M56.8 86.6h0M54.2 87.8h0M53.4 82.9h0M49.7 90.1h0M48.7 93.5h0M57.0 92.1h0M56.8 92.1h0M56.9 83.3h0M51.1 93.7h0M56.4 65.0h0M56.4 71.5h0" stroke="#f2a93b" stroke-width="1" stroke-linecap="round"/>
<path d="M54.2 54.5h0" stroke="#f2a93b" stroke-width="1.1" stroke-linecap="round"/>
<path d="M62.5 88.4h0M65.4 87.8h0M67.1 94.0h0M65.4 84.9h0M66.6 83.2h0M65.7 90.7h0M66.5 76.6h0M63.0 91.1h0M62.8 89.9h0M64.8 85.0h0M62.7 85.1h0M65.4 89.7h0M64.3 78.5h0M63.1 90.5h0M67.1 91.5h0M66.5 94.1h0M64.8 94.1h0M66.5 90.2h0M65.9 87.5h0M66.8 93.1h0M64.4 91.7h0M65.9 90.3h0M64.1 83.2h0M64.6 81.5h0M66.6 86.7h0M67.1 91.8h0M66.0 82.8h0M65.2 91.6h0M66.8 91.8h0M66.2 78.0h0M63.0 80.7h0M66.3 92.2h0M65.7 82.8h0M62.0 84.5h0M63.8 92.5h0M62.6 87.4h0M67.2 85.1h0M64.8 76.1h0M62.1 80.7h0M66.2 89.6h0M66.5 84.4h0M65.9 83.6h0M66.6 92.0h0M67.3 93.5h0M65.2 72.3h0M63.0 83.8h0M63.3 78.4h0M63.6 70.3h0M67.1 87.9h0M63.7 82.4h0M62.6 80.8h0M64.9 92.3h0M65.9 91.4h0M66.1 83.3h0M66.8 88.2h0M63.8 83.9h0M66.9 77.7h0M67.0 90.6h0M64.4 89.5h0M63.6 91.1h0M62.2 93.9h0M63.0 77.6h0M66.7 91.4h0M65.7 93.6h0M62.0 91.3h0M66.5 93.0h0M65.2 85.0h0M64.7 87.3h0M64.6 91.3h0M66.9 89.0h0M61.8 83.1h0M65.7 88.2h0M62.4 93.0h0M62.9 77.6h0M65.3 89.2h0M63.0 80.7h0M62.8 79.4h0M64.9 76.0h0M65.6 93.7h0M64.8 92.1h0M67.0 83.6h0M65.8 88.4h0M62.5 87.1h0M62.3 87.7h0M65.4 83.1h0M63.4 91.9h0M63.3 90.9h0M63.7 82.9h0M64.5 86.5h0M61.7 84.8h0M66.3 86.3h0M64.7 87.9h0M63.1 91.5h0M65.6 92.2h0M62.4 91.3h0M67.2 93.0h0M64.8 88.9h0M64.1 91.8h0M64.1 88.9h0M66.8 89.9h0M66.0 81.4h0M67.0 88.7h0M62.1 76.2h0M62.9 82.2h0M62.1 86.2h0M66.6 90.2h0M63.5 86.5h0M66.8 89.3h0M63.4 87.0h0M62.6 87.8h0M64.4 83.1h0M63.2 83.9h0M63.0 82.7h0M62.9 83.1h0M62.1 79.5h0M65.2 88.7h0M67.1 93.9h0M62.6 85.9h0M67.2 76.1h0M65.9 88.4h0M67.0 77.4h0M62.4 87.8h0M65.0 90.8h0M65.0 84.4h0M63.1 89.4h0M66.4 77.3h0M62.6 79.5h0M61.7 80.0h0M66.1 92.1h0M63.8 87.4h0" stroke="#ee3b3b" stroke-width="1" stroke-linecap="round"/>
<path d="M65.5 61.8h0M67.0 62.6h0M64.4 67.4h0M70.6 91.7h0M72.8 92.9h0M75.0 93.7h0M89.5 78.7h0M71.3 86.8h0M69.9 83.6h0M96.1 93.7h0M69.2 90.1h0" stroke="#ee3b3b" stroke-width="1.1" stroke-linecap="round"/>
<line x1="57.7" y1="19.2" x2="57.7" y2="106.4" stroke="#444" stroke-width="0.3" stroke-dasharray="0.8 0.6"/>
<line x1="61.8" y1="19.2" x2="61.8" y2="106.4" stroke="#444" stroke-width="0.3" stroke-dasharray="0.8 0.6"/>
<line x1="15.6" y1="94.3" x2="104.3" y2="94.3" stroke="#444" stroke-width="0.3" stroke-dasharray="0.8 0.6"/>
<rect x="15.6" y="19.2" width="88.7" height="87.2" fill="none" stroke="#777" stroke-width="0.5"/>
<text x="14.2" y="106.3" font-size="4.7" text-anchor="end" fill="#1a1a1a">0</text>
<text x="14.2" y="86.1" font-size="4.7" text-anchor="end" fill="#1a1a1a">2.5</text>
<text x="14.2" y="65.9" font-size="4.7" text-anchor="end" fill="#1a1a1a">5</text>
<text x="14.2" y="45.7" font-size="4.7" text-anchor="end" fill="#1a1a1a">7.5</text>
<text x="14.2" y="25.5" font-size="4.7" text-anchor="end" fill="#1a1a1a">10</text>
<text x="23.3" y="111.3" font-size="4.5" text-anchor="middle" fill="#1a1a1a">-10</text>
<text x="41.5" y="111.3" font-size="4.5" text-anchor="middle" fill="#1a1a1a">-5</text>
<text x="59.7" y="111.3" font-size="4.5" text-anchor="middle" fill="#1a1a1a">0</text>
<text x="77.9" y="111.3" font-size="4.5" text-anchor="middle" fill="#1a1a1a">5</text>
<text x="96.1" y="111.3" font-size="4.5" text-anchor="middle" fill="#1a1a1a">10</text>
<text x="59" y="117.2" font-size="4.6" text-anchor="middle" fill="#000" font-weight="bold" textLength="17.6" lengthAdjust="spacingAndGlyphs">log2(FC)</text>
<text x="6.6" y="65.2" font-size="4.7" text-anchor="middle" fill="#000" font-weight="bold" textLength="31" lengthAdjust="spacingAndGlyphs" transform="rotate(-90 6.6 65.2)">-log10(PValue)</text>
<circle cx="109.9" cy="57" r="1.25" fill="#ee3b3b"/>
<text x="113" y="58.35" font-size="4">up</text>
<circle cx="109.9" cy="62.6" r="1.25" fill="#56c8ec"/>
<text x="113" y="63.95" font-size="4">nodiff</text>
<circle cx="109.9" cy="68.3" r="1.25" fill="#f2a93b"/>
<text x="113" y="69.65" font-size="4">down</text>
<circle cx="188" cy="64.9" r="25.8" fill="#f4f8f1"/>
<circle cx="188" cy="64.9" r="25.8" fill="none" stroke="#e4ecdd" stroke-width="0.45"/>
<circle cx="188" cy="64.9" r="23.6" fill="none" stroke="#dfe9d7" stroke-width="0.45"/>
<circle cx="188" cy="64.9" r="21.4" fill="none" stroke="#dbe6d2" stroke-width="0.45"/>
<circle cx="188" cy="64.9" r="19.4" fill="none" stroke="#d9e5cf" stroke-width="0.45"/>
<path d="M188 46.01 L190.72 47.71 L193.26 48.7 L195.53 50.12 L197.9 51.28 L200.38 52.52 L202.12 54.64 L203.5 57 L204.64 59.49 L205.29 62.16 L205.74 64.9 L205.48 67.67 L204.38 70.22 L203.66 72.88 L202.05 75.11 L200.22 77.12 L197.96 78.61 L195.69 79.99 L193.33 81.29 L190.69 81.91 L188 84.37 L185.25 82.29 L182.77 81.01 L180.35 79.92 L177.95 78.74 L175.8 77.1 L173.86 75.17 L172.48 72.81 L171.19 70.36 L170.41 67.69 L170.23 64.9 L170.46 62.12 L171.63 59.58 L172.35 56.93 L174.36 54.99 L175.96 52.86 L178.08 51.25 L180.16 49.51 L182.74 48.71 L185.23 47.43 Z" fill="#90c381" stroke="#7fb470" stroke-width="0.3"/>
<path d="M188 49.08 L190.46 49.37 L193.17 49 L194.98 51.21 L197.71 51.54 L199.43 53.47 L201.13 55.36 L203.07 57.22 L202.95 60.04 L203.86 62.39 L205.38 64.9 L204.13 67.45 L204.38 70.22 L202.55 72.31 L200.55 74.01 L198.85 75.75 L197.11 77.43 L194.9 78.44 L193.15 80.74 L190.57 81.12 L188 80.91 L185.46 80.97 L183.01 80.25 L180.82 79 L179 77.28 L177.16 75.74 L175.62 73.9 L172.95 72.57 L173.21 69.7 L171.84 67.46 L170.88 64.9 L171.84 62.34 L171.67 59.59 L174.28 57.91 L175.34 55.7 L176.17 53.07 L178.86 52.32 L180.37 49.93 L182.82 48.97 L185.46 48.89 Z" fill="#56984c" opacity="0.88"/>
<ellipse cx="187.9" cy="65.5" rx="14.7" ry="12.2" fill="#fff"/>
<text x="189.2" y="57.6" font-size="2.25" text-anchor="middle" fill="#222" textLength="10" lengthAdjust="spacingAndGlyphs">Top 20 genes</text>
<text x="187.2" y="60.6" font-size="2.25" text-anchor="middle" fill="#222" textLength="23.5" lengthAdjust="spacingAndGlyphs">with (absolute) log2FC</text>
<text x="188" y="65" font-size="2.25" text-anchor="middle" fill="#222" textLength="23.5" lengthAdjust="spacingAndGlyphs">abundance of NTT T1</text>
<text x="187" y="67.6" font-size="2.25" text-anchor="middle" fill="#222" textLength="30.4" lengthAdjust="spacingAndGlyphs">abundance of CONTROL T2</text>
<line x1="175" y1="69.8" x2="201" y2="69.8" stroke="#555" stroke-width="0.25"/>
<rect x="180" y="71.8" width="1.2" height="1.2" fill="#f2a93b"/>
<text x="182.2" y="73.2" font-size="2" fill="#111" textLength="12" lengthAdjust="spacingAndGlyphs">log2FC > 0</text>
<rect x="180" y="74.6" width="1.2" height="1.2" fill="#56c8ec"/>
<text x="182.2" y="76" font-size="2" fill="#111" textLength="12" lengthAdjust="spacingAndGlyphs">log2FC &lt; 0</text>
<circle cx="188" cy="24.95" r="3.9" fill="#fadcae" stroke="#f3c276" stroke-width="0.7"/>
<text x="188" y="18.17" font-size="2.4" fill="#777" text-anchor="middle" transform="rotate(0 188 17.57)">0.578</text>
<text x="188" y="33.15" font-size="2.2" fill="#8db376" text-anchor="middle" transform="rotate(0 188 32.55)">0.40</text>
<text x="188" y="36.55" font-size="2.2" fill="#8db376" text-anchor="middle" transform="rotate(0 188 35.95)">100.00</text>
<circle cx="200.98" cy="26.95" r="3.3" fill="#bfe7f6" stroke="#a0dbf0" stroke-width="0.7"/>
<text x="203.33" y="20.53" font-size="2.4" fill="#777" text-anchor="middle" transform="rotate(18 203.33 19.93)">1.049</text>
<text x="198.26" y="34.77" font-size="2.2" fill="#8db376" text-anchor="middle" transform="rotate(18 198.26 34.17)">0.43</text>
<text x="197.21" y="38.01" font-size="2.2" fill="#8db376" text-anchor="middle" transform="rotate(18 197.21 37.41)">117.07</text>
<circle cx="212.69" cy="32.74" r="4" fill="#bfe7f6" stroke="#a0dbf0" stroke-width="0.7"/>
<text x="217.15" y="27.37" font-size="2.4" fill="#777" text-anchor="middle" transform="rotate(36 217.15 26.77)">0.764</text>
<text x="207.51" y="39.49" font-size="2.2" fill="#8db376" text-anchor="middle" transform="rotate(36 207.51 38.89)">0.46</text>
<text x="205.52" y="42.24" font-size="2.2" fill="#8db376" text-anchor="middle" transform="rotate(36 205.52 41.64)">134.14</text>
<circle cx="221.98" cy="41.77" r="3.9" fill="#bfe7f6" stroke="#a0dbf0" stroke-width="0.7"/>
<text x="228.13" y="38.03" font-size="2.4" fill="#777" text-anchor="middle" transform="rotate(54 228.13 37.43)">0.929</text>
<text x="214.86" y="46.84" font-size="2.2" fill="#8db376" text-anchor="middle" transform="rotate(54 214.86 46.24)">0.49</text>
<text x="212.11" y="48.83" font-size="2.2" fill="#8db376" text-anchor="middle" transform="rotate(54 212.11 48.23)">151.21</text>
<circle cx="227.94" cy="53.14" r="2" fill="#bfe7f6" stroke="#a0dbf0" stroke-width="0.7"/>
<text x="235.17" y="51.46" font-size="2.4" fill="#777" text-anchor="middle" transform="rotate(72 235.17 50.86)">0.602</text>
<text x="219.58" y="56.09" font-size="2.2" fill="#8db376" text-anchor="middle" transform="rotate(72 219.58 55.49)">0.52</text>
<text x="216.34" y="57.14" font-size="2.2" fill="#8db376" text-anchor="middle" transform="rotate(72 216.34 56.54)">168.28</text>
<circle cx="230" cy="65.75" r="3" fill="#bfe7f6" stroke="#a0dbf0" stroke-width="0.7"/>
<text x="237.6" y="66.35" font-size="2.4" fill="#777" text-anchor="middle" transform="rotate(90 237.6 65.75)">0.791</text>
<text x="221.2" y="66.35" font-size="2.2" fill="#8db376" text-anchor="middle" transform="rotate(90 221.2 65.75)">0.55</text>
<text x="217.8" y="66.35" font-size="2.2" fill="#8db376" text-anchor="middle" transform="rotate(90 217.8 65.75)">185.35</text>
<circle cx="227.94" cy="78.36" r="4" fill="#bfe7f6" stroke="#a0dbf0" stroke-width="0.7"/>
<text x="235.17" y="81.24" font-size="2.4" fill="#777" text-anchor="middle" transform="rotate(-72 235.17 80.64)">1.102</text>
<text x="219.58" y="76.61" font-size="2.2" fill="#8db376" text-anchor="middle" transform="rotate(-72 219.58 76.01)">0.58</text>
<text x="216.34" y="75.56" font-size="2.2" fill="#8db376" text-anchor="middle" transform="rotate(-72 216.34 74.96)">202.42</text>
<circle cx="221.98" cy="89.73" r="1.5" fill="#bfe7f6" stroke="#a0dbf0" stroke-width="0.7"/>
<text x="228.13" y="94.67" font-size="2.4" fill="#777" text-anchor="middle" transform="rotate(-54 228.13 94.07)">0.612</text>
<text x="214.86" y="85.86" font-size="2.2" fill="#8db376" text-anchor="middle" transform="rotate(-54 214.86 85.26)">0.61</text>
<text x="212.11" y="83.87" font-size="2.2" fill="#8db376" text-anchor="middle" transform="rotate(-54 212.11 83.27)">219.49</text>
<circle cx="212.69" cy="98.76" r="3.5" fill="#bfe7f6" stroke="#a0dbf0" stroke-width="0.7"/>
<text x="217.15" y="105.33" font-size="2.4" fill="#777" text-anchor="middle" transform="rotate(-36 217.15 104.73)">0.845</text>
<text x="207.51" y="93.21" font-size="2.2" fill="#8db376" text-anchor="middle" transform="rotate(-36 207.51 92.61)">0.64</text>
<text x="205.52" y="90.46" font-size="2.2" fill="#8db376" text-anchor="middle" transform="rotate(-36 205.52 89.86)">236.56</text>
<circle cx="200.98" cy="104.55" r="3.2" fill="#bfe7f6" stroke="#a0dbf0" stroke-width="0.7"/>
<text x="203.33" y="112.17" font-size="2.4" fill="#777" text-anchor="middle" transform="rotate(-18 203.33 111.57)">0.734</text>
<text x="198.26" y="97.93" font-size="2.2" fill="#8db376" text-anchor="middle" transform="rotate(-18 198.26 97.33)">0.67</text>
<text x="197.21" y="94.69" font-size="2.2" fill="#8db376" text-anchor="middle" transform="rotate(-18 197.21 94.09)">253.63</text>
<circle cx="188" cy="106.55" r="4.5" fill="#fadcae" stroke="#f3c276" stroke-width="0.7"/>
<text x="188" y="114.53" font-size="2.4" fill="#777" text-anchor="middle" transform="rotate(0 188 113.93)">0.566</text>
<text x="188" y="99.55" font-size="2.2" fill="#8db376" text-anchor="middle" transform="rotate(0 188 98.95)">0.70</text>
<text x="188" y="96.15" font-size="2.2" fill="#8db376" text-anchor="middle" transform="rotate(0 188 95.55)">270.70</text>
<circle cx="175.02" cy="104.55" r="3.8" fill="#bfe7f6" stroke="#a0dbf0" stroke-width="0.7"/>
<text x="172.67" y="112.17" font-size="2.4" fill="#777" text-anchor="middle" transform="rotate(18 172.67 111.57)">1.037</text>
<text x="177.74" y="97.93" font-size="2.2" fill="#8db376" text-anchor="middle" transform="rotate(18 177.74 97.33)">0.73</text>
<text x="178.79" y="94.69" font-size="2.2" fill="#8db376" text-anchor="middle" transform="rotate(18 178.79 94.09)">287.77</text>
<circle cx="163.31" cy="98.76" r="1.2" fill="#bfe7f6" stroke="#a0dbf0" stroke-width="0.7"/>
<text x="158.85" y="105.33" font-size="2.4" fill="#777" text-anchor="middle" transform="rotate(36 158.85 104.73)">0.649</text>
<text x="168.49" y="93.21" font-size="2.2" fill="#8db376" text-anchor="middle" transform="rotate(36 168.49 92.61)">0.76</text>
<text x="170.48" y="90.46" font-size="2.2" fill="#8db376" text-anchor="middle" transform="rotate(36 170.48 89.86)">304.84</text>
<circle cx="154.02" cy="89.73" r="3.8" fill="#bfe7f6" stroke="#a0dbf0" stroke-width="0.7"/>
<text x="147.87" y="94.67" font-size="2.4" fill="#777" text-anchor="middle" transform="rotate(54 147.87 94.07)">0.882</text>
<text x="161.14" y="85.86" font-size="2.2" fill="#8db376" text-anchor="middle" transform="rotate(54 161.14 85.26)">0.79</text>
<text x="163.89" y="83.87" font-size="2.2" fill="#8db376" text-anchor="middle" transform="rotate(54 163.89 83.27)">321.91</text>
<circle cx="148.06" cy="78.36" r="3" fill="#bfe7f6" stroke="#a0dbf0" stroke-width="0.7"/>
<text x="140.83" y="81.24" font-size="2.4" fill="#777" text-anchor="middle" transform="rotate(72 140.83 80.64)">0.712</text>
<text x="156.42" y="76.61" font-size="2.2" fill="#8db376" text-anchor="middle" transform="rotate(72 156.42 76.01)">0.82</text>
<text x="159.66" y="75.56" font-size="2.2" fill="#8db376" text-anchor="middle" transform="rotate(72 159.66 74.96)">338.98</text>
<circle cx="146" cy="65.75" r="3.7" fill="#fadcae" stroke="#f3c276" stroke-width="0.7"/>
<text x="138.4" y="66.35" font-size="2.4" fill="#777" text-anchor="middle" transform="rotate(270 138.4 65.75)">0.593</text>
<text x="154.8" y="66.35" font-size="2.2" fill="#8db376" text-anchor="middle" transform="rotate(270 154.8 65.75)">0.85</text>
<text x="158.2" y="66.35" font-size="2.2" fill="#8db376" text-anchor="middle" transform="rotate(270 158.2 65.75)">355.05</text>
<circle cx="148.06" cy="53.14" r="1.5" fill="#bfe7f6" stroke="#a0dbf0" stroke-width="0.7"/>
<text x="140.83" y="51.46" font-size="2.4" fill="#777" text-anchor="middle" transform="rotate(288 140.83 50.86)">0.655</text>
<text x="156.42" y="56.09" font-size="2.2" fill="#8db376" text-anchor="middle" transform="rotate(288 156.42 55.49)">0.88</text>
<text x="159.66" y="57.14" font-size="2.2" fill="#8db376" text-anchor="middle" transform="rotate(288 159.66 56.54)">372.12</text>
<circle cx="154.02" cy="41.77" r="2" fill="#bfe7f6" stroke="#a0dbf0" stroke-width="0.7"/>
<text x="147.87" y="38.03" font-size="2.4" fill="#777" text-anchor="middle" transform="rotate(306 147.87 37.43)">0.701</text>
<text x="161.14" y="46.84" font-size="2.2" fill="#8db376" text-anchor="middle" transform="rotate(306 161.14 46.24)">0.91</text>
<text x="163.89" y="48.83" font-size="2.2" fill="#8db376" text-anchor="middle" transform="rotate(306 163.89 48.23)">389.19</text>
<circle cx="163.31" cy="32.74" r="3.3" fill="#bfe7f6" stroke="#a0dbf0" stroke-width="0.7"/>
<text x="158.85" y="27.37" font-size="2.4" fill="#777" text-anchor="middle" transform="rotate(324 158.85 26.77)">0.998</text>
<text x="168.49" y="39.49" font-size="2.2" fill="#8db376" text-anchor="middle" transform="rotate(324 168.49 38.89)">0.94</text>
<text x="170.48" y="42.24" font-size="2.2" fill="#8db376" text-anchor="middle" transform="rotate(324 170.48 41.64)">406.26</text>
<circle cx="175.02" cy="26.95" r="1.5" fill="#bfe7f6" stroke="#a0dbf0" stroke-width="0.7"/>
<text x="172.67" y="20.53" font-size="2.4" fill="#777" text-anchor="middle" transform="rotate(342 172.67 19.93)">0.683</text>
<text x="177.74" y="34.77" font-size="2.2" fill="#8db376" text-anchor="middle" transform="rotate(342 177.74 34.17)">0.97</text>
<text x="178.79" y="38.01" font-size="2.2" fill="#8db376" text-anchor="middle" transform="rotate(342 178.79 37.41)">423.33</text>
<line x1="65.6" y1="144.4" x2="65.6" y2="318.1" stroke="#efefef" stroke-width="0.3"/>
<line x1="70.7" y1="144.4" x2="70.7" y2="318.1" stroke="#efefef" stroke-width="0.3"/>
<line x1="75.7" y1="144.4" x2="75.7" y2="318.1" stroke="#efefef" stroke-width="0.3"/>
<line x1="80.7" y1="144.4" x2="80.7" y2="318.1" stroke="#efefef" stroke-width="0.3"/>
<line x1="85.7" y1="144.4" x2="85.7" y2="318.1" stroke="#efefef" stroke-width="0.3"/>
<rect x="60.6" y="145.45" width="1.5" height="4.3" fill="#0b4a24"/>
<text x="59.4" y="148.77" font-size="2.15" text-anchor="end" fill="#555" textLength="32.9" lengthAdjust="spacingAndGlyphs">Factor immune assembly stimulus apoptotic</text>
<text x="63" y="148.52" font-size="2" fill="#444">493.69</text>
<rect x="60.6" y="151.19" width="1.8" height="4.3" fill="#0d5129"/>
<text x="59.4" y="154.52" font-size="2.15" text-anchor="end" fill="#555" textLength="20.4" lengthAdjust="spacingAndGlyphs">Membrane system cellular</text>
<text x="63.3" y="154.26" font-size="2" fill="#444">684.72</text>
<rect x="60.6" y="156.94" width="4.1" height="4.3" fill="#1f8a40"/>
<text x="59.4" y="160.26" font-size="2.15" text-anchor="end" fill="#555" textLength="17" lengthAdjust="spacingAndGlyphs">Cell metabolic immune</text>
<text x="65.6" y="160.01" font-size="2" fill="#444">723.17</text>
<rect x="60.6" y="162.68" width="4.1" height="4.3" fill="#208b40"/>
<text x="59.4" y="166.01" font-size="2.15" text-anchor="end" fill="#555" textLength="30.4" lengthAdjust="spacingAndGlyphs">Process membrane cancer activity factor</text>
<text x="65.6" y="165.75" font-size="2" fill="#444">568.14</text>
<rect x="60.6" y="168.43" width="20.4" height="4.3" fill="#208c40"/>
<text x="59.4" y="171.75" font-size="2.15" text-anchor="end" fill="#555" textLength="18" lengthAdjust="spacingAndGlyphs">Pathway stimulus factor</text>
<text x="81.9" y="171.5" font-size="2" fill="#444">962.51</text>
<rect x="60.6" y="174.17" width="3.3" height="4.3" fill="#208d40"/>
<text x="59.4" y="177.5" font-size="2.15" text-anchor="end" fill="#555" textLength="28.4" lengthAdjust="spacingAndGlyphs">To activity factor of complex binding of</text>
<text x="64.8" y="177.24" font-size="2" fill="#444">56.24</text>
<rect x="60.6" y="179.92" width="3.3" height="4.3" fill="#218e3f"/>
<text x="59.4" y="183.24" font-size="2.15" text-anchor="end" fill="#555" textLength="11.8" lengthAdjust="spacingAndGlyphs">Complex activity</text>
<text x="64.8" y="182.99" font-size="2" fill="#444">738.67</text>
<rect x="60.6" y="185.66" width="3.9" height="4.3" fill="#228f3f"/>
<text x="59.4" y="188.99" font-size="2.15" text-anchor="end" fill="#555" textLength="17.4" lengthAdjust="spacingAndGlyphs">Activity positive activity</text>
<text x="65.4" y="188.73" font-size="2" fill="#444">928.12</text>
<rect x="60.6" y="191.41" width="1.6" height="4.3" fill="#22903f"/>
<text x="59.4" y="194.73" font-size="2.15" text-anchor="end" fill="#555" textLength="22.9" lengthAdjust="spacingAndGlyphs">Growth stimulus differentiation</text>
<text x="63.1" y="194.48" font-size="2" fill="#444">547.45</text>
<rect x="60.6" y="197.16" width="15.3" height="4.3" fill="#38aa52"/>
<text x="59.4" y="200.48" font-size="2.15" text-anchor="end" fill="#555" textLength="25.4" lengthAdjust="spacingAndGlyphs">Pathway immune cellular tissue to</text>
<text x="76.8" y="200.22" font-size="2" fill="#444">30.45</text>
<rect x="60.6" y="202.9" width="1.6" height="4.3" fill="#3aad55"/>
<text x="59.4" y="206.22" font-size="2.15" text-anchor="end" fill="#555" textLength="18.4" lengthAdjust="spacingAndGlyphs">Cellular immune positive</text>
<text x="63.1" y="205.97" font-size="2" fill="#444">695.51</text>
<rect x="60.6" y="208.64" width="3.9" height="4.3" fill="#3baf57"/>
<text x="59.4" y="211.97" font-size="2.15" text-anchor="end" fill="#555" textLength="21.4" lengthAdjust="spacingAndGlyphs">Complex membrane immune</text>
<text x="65.4" y="211.71" font-size="2" fill="#444">583.69</text>
<rect x="60.6" y="214.39" width="18.2" height="4.3" fill="#3db25a"/>
<text x="59.4" y="217.71" font-size="2.15" text-anchor="end" fill="#555" textLength="15.4" lengthAdjust="spacingAndGlyphs">Receptor receptor of</text>
<text x="79.7" y="217.46" font-size="2" fill="#444">34.98</text>
<rect x="60.6" y="220.13" width="4.5" height="4.3" fill="#55bd62"/>
<text x="59.4" y="223.46" font-size="2.15" text-anchor="end" fill="#555" textLength="30.4" lengthAdjust="spacingAndGlyphs">Tissue complex transport cell to stimulus</text>
<text x="66" y="223.2" font-size="2" fill="#444">167.31</text>
<rect x="60.6" y="225.88" width="3.2" height="4.3" fill="#57be63"/>
<text x="59.4" y="229.2" font-size="2.15" text-anchor="end" fill="#555" textLength="21.4" lengthAdjust="spacingAndGlyphs">Kinase process organization</text>
<text x="64.7" y="228.95" font-size="2" fill="#444">317.70</text>
<rect x="60.6" y="231.62" width="1.9" height="4.3" fill="#58be64"/>
<text x="59.4" y="234.95" font-size="2.15" text-anchor="end" fill="#555" textLength="28.4" lengthAdjust="spacingAndGlyphs">Stimulus organization negative growth</text>
<text x="63.4" y="234.69" font-size="2" fill="#444">977.93</text>
<rect x="60.6" y="237.37" width="3.2" height="4.3" fill="#5abf65"/>
<text x="59.4" y="240.69" font-size="2.15" text-anchor="end" fill="#555" textLength="14.4" lengthAdjust="spacingAndGlyphs">Transport response</text>
<text x="64.7" y="240.44" font-size="2" fill="#444">390.46</text>
<rect x="60.6" y="243.11" width="7.3" height="4.3" fill="#5cc066"/>
<text x="59.4" y="246.44" font-size="2.15" text-anchor="end" fill="#555" textLength="14.4" lengthAdjust="spacingAndGlyphs">Metabolic response</text>
<text x="68.8" y="246.18" font-size="2" fill="#444">797.58</text>
<rect x="60.6" y="248.86" width="2.9" height="4.3" fill="#64c269"/>
<text x="59.4" y="252.18" font-size="2.15" text-anchor="end" fill="#555" textLength="21.4" lengthAdjust="spacingAndGlyphs">Stimulus of kinase regulation</text>
<text x="64.4" y="251.93" font-size="2" fill="#444">841.14</text>
<rect x="60.6" y="254.6" width="15.6" height="4.3" fill="#6cc46c"/>
<text x="59.4" y="257.93" font-size="2.15" text-anchor="end" fill="#555" textLength="15.5" lengthAdjust="spacingAndGlyphs">Factor factor process</text>
<text x="77.1" y="257.68" font-size="2" fill="#444">271.94</text>
<rect x="60.6" y="260.35" width="3.2" height="4.3" fill="#8ed280"/>
<text x="59.4" y="263.67" font-size="2.15" text-anchor="end" fill="#555" textLength="20.4" lengthAdjust="spacingAndGlyphs">Signaling stimulus of tissue</text>
<text x="64.7" y="263.42" font-size="2" fill="#444">951.04</text>
<rect x="60.6" y="266.1" width="6.8" height="4.3" fill="#a5dc88"/>
<text x="59.4" y="269.42" font-size="2.15" text-anchor="end" fill="#555" textLength="39.4" lengthAdjust="spacingAndGlyphs">Tissue kinase apoptotic transport factor development</text>
<text x="68.3" y="269.17" font-size="2" fill="#444">445.20</text>
<rect x="60.6" y="271.84" width="1.2" height="4.3" fill="#aade8b"/>
<text x="59.4" y="275.16" font-size="2.15" text-anchor="end" fill="#555" textLength="32.2" lengthAdjust="spacingAndGlyphs">Kinase pathway binding to growth stimulus</text>
<text x="62.7" y="274.91" font-size="2" fill="#444">784.15</text>
<rect x="60.6" y="277.59" width="7.4" height="4.3" fill="#b0df8d"/>
<text x="59.4" y="280.91" font-size="2.15" text-anchor="end" fill="#555" textLength="22.7" lengthAdjust="spacingAndGlyphs">Apoptotic regulation assembly</text>
<text x="68.9" y="280.66" font-size="2" fill="#444">748.90</text>
<rect x="60.6" y="283.33" width="14.5" height="4.3" fill="#b5e190"/>
<text x="59.4" y="286.65" font-size="2.15" text-anchor="end" fill="#555" textLength="30.6" lengthAdjust="spacingAndGlyphs">Tissue transport receptor protein stimulus</text>
<text x="76" y="286.4" font-size="2" fill="#444">810.01</text>
<rect x="60.6" y="289.08" width="5" height="4.3" fill="#bbe492"/>
<text x="59.4" y="292.4" font-size="2.15" text-anchor="end" fill="#555" textLength="52.4" lengthAdjust="spacingAndGlyphs">Positive process receptor assembly cellular immune growth response</text>
<text x="66.5" y="292.15" font-size="2" fill="#444">282.24</text>
<rect x="60.6" y="294.82" width="1.4" height="4.3" fill="#c1e695"/>
<text x="59.4" y="298.14" font-size="2.15" text-anchor="end" fill="#555" textLength="13.2" lengthAdjust="spacingAndGlyphs">Activity assembly</text>
<text x="62.9" y="297.89" font-size="2" fill="#444">768.14</text>
<rect x="60.6" y="300.57" width="2" height="4.3" fill="#c6e997"/>
<text x="59.4" y="303.89" font-size="2.15" text-anchor="end" fill="#555" textLength="27.4" lengthAdjust="spacingAndGlyphs">Activity immune cellular apoptotic to</text>
<text x="63.5" y="303.64" font-size="2" fill="#444">590.48</text>
<rect x="60.6" y="306.31" width="2" height="4.3" fill="#cceb9a"/>
<text x="59.4" y="309.63" font-size="2.15" text-anchor="end" fill="#555" textLength="17.7" lengthAdjust="spacingAndGlyphs">Process activity activity</text>
<text x="63.5" y="309.38" font-size="2" fill="#444">600.03</text>
<rect x="60.6" y="312.06" width="2.2" height="4.3" fill="#d2ee9c"/>
<text x="59.4" y="315.38" font-size="2.15" text-anchor="end" fill="#555" textLength="15.4" lengthAdjust="spacingAndGlyphs">Kinase development</text>
<text x="63.7" y="315.12" font-size="2" fill="#444">210.76</text>
<rect x="60.6" y="144.4" width="30.8" height="173.7" fill="none" stroke="#c4c4c4" stroke-width="0.45"/>
<line x1="60.6" y1="144.4" x2="60.6" y2="318.1" stroke="#999" stroke-width="0.4"/>
<line x1="60.5" y1="318.1" x2="60.5" y2="318.7" stroke="#999" stroke-width="0.25"/>
<text x="60.5" y="320.4" font-size="1.7" text-anchor="middle" fill="#555">0</text>
<line x1="70.7" y1="318.1" x2="70.7" y2="318.7" stroke="#999" stroke-width="0.25"/>
<text x="70.7" y="320.4" font-size="1.7" text-anchor="middle" fill="#555">20</text>
<line x1="80.7" y1="318.1" x2="80.7" y2="318.7" stroke="#999" stroke-width="0.25"/>
<text x="80.7" y="320.4" font-size="1.7" text-anchor="middle" fill="#555">40</text>
<line x1="90.6" y1="318.1" x2="90.6" y2="318.7" stroke="#999" stroke-width="0.25"/>
<text x="90.6" y="320.4" font-size="1.7" text-anchor="middle" fill="#555">60</text>
<text x="75.4" y="324.2" font-size="2.11" text-anchor="middle" fill="#222" textLength="12.8" lengthAdjust="spacingAndGlyphs">Gene percent</text>
<text x="4" y="230.8" font-size="2.8" text-anchor="middle" fill="#111" font-weight="bold" textLength="8.6" lengthAdjust="spacingAndGlyphs" transform="rotate(-90 4 230.8)">GO Term</text>
<text x="94.8" y="147.3" font-size="1.91" fill="#444" textLength="10.5" lengthAdjust="spacingAndGlyphs">-log10(FDR)</text>
<defs><linearGradient id="gC" x1="0" y1="0" x2="0" y2="1"><stop offset="0.00" stop-color="#0b4d26"/><stop offset="0.25" stop-color="#238b45"/><stop offset="0.50" stop-color="#5cb85f"/><stop offset="0.75" stop-color="#a6d98a"/><stop offset="1.00" stop-color="#e8f6b8"/></linearGradient></defs>
<rect x="94.2" y="149.8" width="1.8" height="9.8" fill="url(#gC)"/>
<text x="96.6" y="152.49" font-size="1.63" fill="#555">1.26</text>
<text x="96.6" y="154.42" font-size="1.63" fill="#555">1.0</text>
<text x="96.6" y="156.35" font-size="1.63" fill="#555">0.75</text>
<text x="96.6" y="158.29" font-size="1.63" fill="#555">0.5</text>
<line x1="301.3" y1="9.6" x2="301.3" y2="204.2" stroke="#efefef" stroke-width="0.3"/>
<line x1="307.1" y1="9.6" x2="307.1" y2="204.2" stroke="#efefef" stroke-width="0.3"/>
<line x1="312.7" y1="9.6" x2="312.7" y2="204.2" stroke="#efefef" stroke-width="0.3"/>
<line x1="318.2" y1="9.6" x2="318.2" y2="204.2" stroke="#efefef" stroke-width="0.3"/>
<line x1="323.8" y1="9.6" x2="323.8" y2="204.2" stroke="#efefef" stroke-width="0.3"/>
<line x1="329.3" y1="9.6" x2="329.3" y2="204.2" stroke="#efefef" stroke-width="0.3"/>
<rect x="295.7" y="10.3" width="15.9" height="4.6" fill="#0a4520"/>
<text x="293.9" y="13.77" font-size="2.15" text-anchor="end" fill="#555" textLength="21.5" lengthAdjust="spacingAndGlyphs">Regulation process apoptotic</text>
<text x="312.5" y="13.52" font-size="2" fill="#444">396.20</text>
<rect x="295.7" y="16.79" width="10.2" height="4.6" fill="#2a9247"/>
<text x="293.9" y="20.26" font-size="2.15" text-anchor="end" fill="#555" textLength="11.8" lengthAdjust="spacingAndGlyphs">Activity complex</text>
<text x="306.8" y="20.01" font-size="2" fill="#444">384.46</text>
<rect x="295.7" y="23.28" width="11.4" height="4.6" fill="#2b9448"/>
<text x="293.9" y="26.75" font-size="2.15" text-anchor="end" fill="#555" textLength="31.6" lengthAdjust="spacingAndGlyphs">Membrane protein negative tissue cancer</text>
<text x="308" y="26.5" font-size="2" fill="#444">662.45</text>
<rect x="295.7" y="29.77" width="22.6" height="4.6" fill="#2c9549"/>
<text x="293.9" y="33.24" font-size="2.15" text-anchor="end" fill="#555" textLength="22.2" lengthAdjust="spacingAndGlyphs">To negative regulation kinase</text>
<text x="319.2" y="32.99" font-size="2" fill="#444">395.35</text>
<rect x="295.7" y="36.26" width="10.2" height="4.6" fill="#2d9749"/>
<text x="293.9" y="39.73" font-size="2.15" text-anchor="end" fill="#555" textLength="26.1" lengthAdjust="spacingAndGlyphs">Signaling negative to differentiation</text>
<text x="306.8" y="39.48" font-size="2" fill="#444">106.07</text>
<rect x="295.7" y="42.75" width="7.2" height="4.6" fill="#2e984a"/>
<text x="293.9" y="46.22" font-size="2.15" text-anchor="end" fill="#555" textLength="30.9" lengthAdjust="spacingAndGlyphs">Regulation transport of protein of negative</text>
<text x="303.8" y="45.97" font-size="2" fill="#444">621.60</text>
<rect x="295.7" y="49.24" width="24.1" height="4.6" fill="#2f9a4b"/>
<text x="293.9" y="52.71" font-size="2.15" text-anchor="end" fill="#555" textLength="24.1" lengthAdjust="spacingAndGlyphs">Kinase system immune stimulus</text>
<text x="320.7" y="52.46" font-size="2" fill="#444">92.22</text>
<rect x="295.7" y="55.73" width="12.9" height="4.6" fill="#35a04f"/>
<text x="293.9" y="59.2" font-size="2.15" text-anchor="end" fill="#555" textLength="21.9" lengthAdjust="spacingAndGlyphs">Immune immune growth cell</text>
<text x="309.5" y="58.95" font-size="2" fill="#444">548.42</text>
<rect x="295.7" y="62.22" width="10.2" height="4.6" fill="#3fab57"/>
<text x="293.9" y="65.69" font-size="2.15" text-anchor="end" fill="#555" textLength="34.9" lengthAdjust="spacingAndGlyphs">Development positive protein assembly cancer</text>
<text x="306.8" y="65.44" font-size="2" fill="#444">334.76</text>
<rect x="295.7" y="68.71" width="8.7" height="4.6" fill="#5cba60"/>
<text x="293.9" y="72.18" font-size="2.15" text-anchor="end" fill="#555" textLength="32.3" lengthAdjust="spacingAndGlyphs">Complex kinase activity binding positive to</text>
<text x="305.3" y="71.93" font-size="2" fill="#444">830.30</text>
<rect x="295.7" y="75.2" width="12.9" height="4.6" fill="#7cc86a"/>
<text x="293.9" y="78.67" font-size="2.15" text-anchor="end" fill="#555" textLength="18.9" lengthAdjust="spacingAndGlyphs">Complex cell apoptotic to</text>
<text x="309.5" y="78.42" font-size="2" fill="#444">521.79</text>
<rect x="295.7" y="81.69" width="8.4" height="4.6" fill="#8fd078"/>
<text x="293.9" y="85.16" font-size="2.15" text-anchor="end" fill="#555" textLength="15.9" lengthAdjust="spacingAndGlyphs">Differentiation cellular</text>
<text x="305" y="84.91" font-size="2" fill="#444">42.63</text>
<rect x="295.7" y="88.18" width="7.2" height="4.6" fill="#a6da86"/>
<text x="293.9" y="91.65" font-size="2.15" text-anchor="end" fill="#555" textLength="18.9" lengthAdjust="spacingAndGlyphs">Assembly system growth</text>
<text x="303.8" y="91.4" font-size="2" fill="#444">107.09</text>
<rect x="295.7" y="94.67" width="7.2" height="4.6" fill="#abdc89"/>
<text x="293.9" y="98.14" font-size="2.15" text-anchor="end" fill="#555" textLength="9.6" lengthAdjust="spacingAndGlyphs">Cell receptor</text>
<text x="303.8" y="97.89" font-size="2" fill="#444">685.46</text>
<rect x="295.7" y="101.16" width="7.2" height="4.6" fill="#b0de8d"/>
<text x="293.9" y="104.63" font-size="2.15" text-anchor="end" fill="#555" textLength="20" lengthAdjust="spacingAndGlyphs">Receptor system response</text>
<text x="303.8" y="104.38" font-size="2" fill="#444">689.15</text>
<rect x="295.7" y="107.65" width="5.9" height="4.6" fill="#b5e090"/>
<text x="293.9" y="111.12" font-size="2.15" text-anchor="end" fill="#555" textLength="6.6" lengthAdjust="spacingAndGlyphs">Pathway</text>
<text x="302.5" y="110.87" font-size="2" fill="#444">637.19</text>
<rect x="295.7" y="114.14" width="11.4" height="4.6" fill="#b6e191"/>
<text x="293.9" y="117.61" font-size="2.15" text-anchor="end" fill="#555" textLength="39" lengthAdjust="spacingAndGlyphs">Apoptotic to differentiation factor kinase membrane</text>
<text x="308" y="117.36" font-size="2" fill="#444">955.46</text>
<rect x="295.7" y="120.63" width="7.2" height="4.6" fill="#b8e191"/>
<text x="293.9" y="124.1" font-size="2.15" text-anchor="end" fill="#555" textLength="36.8" lengthAdjust="spacingAndGlyphs">Complex tissue tissue immune regulation protein</text>
<text x="303.8" y="123.85" font-size="2" fill="#444">107.51</text>
<rect x="295.7" y="127.12" width="8.4" height="4.6" fill="#b9e292"/>
<text x="293.9" y="130.59" font-size="2.15" text-anchor="end" fill="#555" textLength="15.9" lengthAdjust="spacingAndGlyphs">Organization stimulus</text>
<text x="305" y="130.34" font-size="2" fill="#444">302.45</text>
<rect x="295.7" y="133.61" width="4.3" height="4.6" fill="#bbe392"/>
<text x="293.9" y="137.08" font-size="2.15" text-anchor="end" fill="#555" textLength="27.9" lengthAdjust="spacingAndGlyphs">Pathway cellular immune immune of</text>
<text x="300.9" y="136.83" font-size="2" fill="#444">130.43</text>
<rect x="295.7" y="140.1" width="8.4" height="4.6" fill="#bce493"/>
<text x="293.9" y="143.57" font-size="2.15" text-anchor="end" fill="#555" textLength="17" lengthAdjust="spacingAndGlyphs">Factor binding positive</text>
<text x="305" y="143.32" font-size="2" fill="#444">970.99</text>
<rect x="295.7" y="146.59" width="5.9" height="4.6" fill="#bee493"/>
<text x="293.9" y="150.06" font-size="2.15" text-anchor="end" fill="#555" textLength="24.9" lengthAdjust="spacingAndGlyphs">Positive metabolic differentiation</text>
<text x="302.5" y="149.81" font-size="2" fill="#444">657.15</text>
<rect x="295.7" y="153.08" width="5.9" height="4.6" fill="#bfe594"/>
<text x="293.9" y="156.55" font-size="2.15" text-anchor="end" fill="#555" textLength="41.3" lengthAdjust="spacingAndGlyphs">Apoptotic protein signaling of tissue signaling signaling</text>
<text x="302.5" y="156.3" font-size="2" fill="#444">545.93</text>
<rect x="295.7" y="159.57" width="2.9" height="4.6" fill="#c0e695"/>
<text x="293.9" y="163.04" font-size="2.15" text-anchor="end" fill="#555" textLength="18.9" lengthAdjust="spacingAndGlyphs">Regulation protein protein</text>
<text x="299.5" y="162.79" font-size="2" fill="#444">568.64</text>
<rect x="295.7" y="166.06" width="11" height="4.6" fill="#c2e695"/>
<text x="293.9" y="169.53" font-size="2.15" text-anchor="end" fill="#555" textLength="39.5" lengthAdjust="spacingAndGlyphs">Negative process membrane tissue apoptotic protein</text>
<text x="307.6" y="169.28" font-size="2" fill="#444">715.42</text>
<rect x="295.7" y="172.55" width="5.7" height="4.6" fill="#c3e796"/>
<text x="293.9" y="176.02" font-size="2.15" text-anchor="end" fill="#555" textLength="21.3" lengthAdjust="spacingAndGlyphs">Apoptotic tissue cell system</text>
<text x="302.3" y="175.77" font-size="2" fill="#444">121.81</text>
<rect x="295.7" y="179.04" width="5.7" height="4.6" fill="#c5e896"/>
<text x="293.9" y="182.51" font-size="2.15" text-anchor="end" fill="#555" textLength="32.7" lengthAdjust="spacingAndGlyphs">Cellular process pathway negative pathway</text>
<text x="302.3" y="182.26" font-size="2" fill="#444">830.24</text>
<rect x="295.7" y="185.53" width="5.7" height="4.6" fill="#c6e997"/>
<text x="293.9" y="189" font-size="2.15" text-anchor="end" fill="#555" textLength="16.8" lengthAdjust="spacingAndGlyphs">Process factor protein</text>
<text x="302.3" y="188.75" font-size="2" fill="#444">339.14</text>
<rect x="295.7" y="192.02" width="8.3" height="4.6" fill="#c8e997"/>
<text x="293.9" y="195.49" font-size="2.15" text-anchor="end" fill="#555" textLength="22.1" lengthAdjust="spacingAndGlyphs">Metabolic metabolic transport</text>
<text x="304.9" y="195.24" font-size="2" fill="#444">291.39</text>
<rect x="295.7" y="198.51" width="11" height="4.6" fill="#c9ea98"/>
<text x="293.9" y="201.98" font-size="2.15" text-anchor="end" fill="#555" textLength="20.9" lengthAdjust="spacingAndGlyphs">Assembly tissue membrane</text>
<text x="307.6" y="201.73" font-size="2" fill="#444">942.56</text>
<rect x="295.7" y="9.6" width="34.8" height="194.6" fill="none" stroke="#c4c4c4" stroke-width="0.45"/>
<line x1="295.7" y1="9.6" x2="295.7" y2="204.2" stroke="#999" stroke-width="0.4"/>
<line x1="296" y1="204.2" x2="296" y2="204.8" stroke="#999" stroke-width="0.25"/>
<text x="296" y="206.8" font-size="1.7" text-anchor="middle" fill="#555">0</text>
<line x1="307.1" y1="204.2" x2="307.1" y2="204.8" stroke="#999" stroke-width="0.25"/>
<text x="307.1" y="206.8" font-size="1.7" text-anchor="middle" fill="#555">10</text>
<line x1="318.2" y1="204.2" x2="318.2" y2="204.8" stroke="#999" stroke-width="0.25"/>
<text x="318.2" y="206.8" font-size="1.7" text-anchor="middle" fill="#555">20</text>
<line x1="329.3" y1="204.2" x2="329.3" y2="204.8" stroke="#999" stroke-width="0.25"/>
<text x="329.3" y="206.8" font-size="1.7" text-anchor="middle" fill="#555">30</text>
<text x="312.7" y="212" font-size="2.24" text-anchor="middle" fill="#222" textLength="13.6" lengthAdjust="spacingAndGlyphs">Gene percent</text>
<text x="249.5" y="106.9" font-size="2.8" text-anchor="middle" fill="#111" font-weight="bold" textLength="9" lengthAdjust="spacingAndGlyphs" transform="rotate(-90 249.5 106.9)">Pathway</text>
<text x="334.7" y="12.8" font-size="2.16" fill="#444" textLength="11.9" lengthAdjust="spacingAndGlyphs">-log10(FDR)</text>
<defs><linearGradient id="gE" x1="0" y1="0" x2="0" y2="1"><stop offset="0.00" stop-color="#0b4d26"/><stop offset="0.25" stop-color="#238b45"/><stop offset="0.50" stop-color="#5cb85f"/><stop offset="0.75" stop-color="#a6d98a"/><stop offset="1.00" stop-color="#e8f6b8"/></linearGradient></defs>
<rect x="334.1" y="15" width="1.7" height="12" fill="url(#gE)"/>
<text x="336.4" y="17.78" font-size="1.9" fill="#555">1.26</text>
<text x="336.4" y="20.45" font-size="1.9" fill="#555">1.0</text>
<text x="336.4" y="23.12" font-size="1.9" fill="#555">0.75</text>
<text x="336.4" y="25.78" font-size="1.9" fill="#555">0.5</text>
<line x1="304.2" y1="217.4" x2="304.2" y2="393.5" stroke="#efefef" stroke-width="0.3"/>
<line x1="307.5" y1="217.4" x2="307.5" y2="393.5" stroke="#efefef" stroke-width="0.3"/>
<line x1="310.9" y1="217.4" x2="310.9" y2="393.5" stroke="#efefef" stroke-width="0.3"/>
<line x1="314.2" y1="217.4" x2="314.2" y2="393.5" stroke="#efefef" stroke-width="0.3"/>
<line x1="317.6" y1="217.4" x2="317.6" y2="393.5" stroke="#efefef" stroke-width="0.3"/>
<line x1="320.9" y1="217.4" x2="320.9" y2="393.5" stroke="#efefef" stroke-width="0.3"/>
<line x1="324.2" y1="217.4" x2="324.2" y2="393.5" stroke="#efefef" stroke-width="0.3"/>
<line x1="327.6" y1="217.4" x2="327.6" y2="393.5" stroke="#efefef" stroke-width="0.3"/>
<line x1="330.9" y1="217.4" x2="330.9" y2="393.5" stroke="#efefef" stroke-width="0.3"/>
<rect x="300.5" y="219" width="5.1" height="4.4" fill="#0b5a2a"/>
<text x="299.5" y="222.37" font-size="2.15" text-anchor="end" fill="#555" textLength="12.6" lengthAdjust="spacingAndGlyphs">Process negative</text>
<text x="306.5" y="222.12" font-size="2" fill="#444">676.93</text>
<rect x="300.5" y="224.82" width="11.5" height="4.4" fill="#0a5025"/>
<text x="299.5" y="228.19" font-size="2.15" text-anchor="end" fill="#555" textLength="13.7" lengthAdjust="spacingAndGlyphs">Metabolic binding</text>
<text x="312.9" y="227.94" font-size="2" fill="#444">92.68</text>
<rect x="300.5" y="230.64" width="2.5" height="4.4" fill="#12642f"/>
<text x="299.5" y="234.01" font-size="2.15" text-anchor="end" fill="#555" textLength="16.3" lengthAdjust="spacingAndGlyphs">Activity kinase binding</text>
<text x="303.9" y="233.76" font-size="2" fill="#444">95.55</text>
<rect x="300.5" y="236.46" width="4.4" height="4.4" fill="#146a32"/>
<text x="299.5" y="239.83" font-size="2.15" text-anchor="end" fill="#555" textLength="14.5" lengthAdjust="spacingAndGlyphs">Stimulus assembly</text>
<text x="305.8" y="239.58" font-size="2" fill="#444">22.92</text>
<rect x="300.5" y="242.28" width="5.1" height="4.4" fill="#166f34"/>
<text x="299.5" y="245.65" font-size="2.15" text-anchor="end" fill="#555" textLength="19.3" lengthAdjust="spacingAndGlyphs">Process cancer apoptotic</text>
<text x="306.5" y="245.4" font-size="2" fill="#444">674.32</text>
<rect x="300.5" y="248.1" width="2.5" height="4.4" fill="#187437"/>
<text x="299.5" y="251.47" font-size="2.15" text-anchor="end" fill="#555" textLength="12.6" lengthAdjust="spacingAndGlyphs">Complex system</text>
<text x="303.9" y="251.22" font-size="2" fill="#444">227.90</text>
<rect x="300.5" y="253.92" width="4.4" height="4.4" fill="#1a7a3a"/>
<text x="299.5" y="257.29" font-size="2.15" text-anchor="end" fill="#555" textLength="17.8" lengthAdjust="spacingAndGlyphs">Kinase binding transport</text>
<text x="305.8" y="257.04" font-size="2" fill="#444">760.63</text>
<rect x="300.5" y="259.74" width="5.4" height="4.4" fill="#4ab060"/>
<text x="299.5" y="263.11" font-size="2.15" text-anchor="end" fill="#555" textLength="10.4" lengthAdjust="spacingAndGlyphs">Cell apoptotic</text>
<text x="306.8" y="262.86" font-size="2" fill="#444">865.43</text>
<rect x="300.5" y="265.56" width="6.6" height="4.4" fill="#5cb868"/>
<text x="299.5" y="268.93" font-size="2.15" text-anchor="end" fill="#555" textLength="9.6" lengthAdjust="spacingAndGlyphs">Protein factor</text>
<text x="308" y="268.68" font-size="2" fill="#444">328.34</text>
<rect x="300.5" y="271.38" width="4.7" height="4.4" fill="#5db969"/>
<text x="299.5" y="274.75" font-size="2.15" text-anchor="end" fill="#555" textLength="20.1" lengthAdjust="spacingAndGlyphs">Pathway tissue kinase cell</text>
<text x="306.1" y="274.5" font-size="2" fill="#444">25.40</text>
<rect x="300.5" y="277.2" width="1.7" height="4.4" fill="#5eb969"/>
<text x="299.5" y="280.57" font-size="2.15" text-anchor="end" fill="#555" textLength="34.9" lengthAdjust="spacingAndGlyphs">Signaling protein kinase development positive</text>
<text x="303.1" y="280.32" font-size="2" fill="#444">335.38</text>
<rect x="300.5" y="283.02" width="22.2" height="4.4" fill="#5fba6a"/>
<text x="299.5" y="286.39" font-size="2.15" text-anchor="end" fill="#555" textLength="26.5" lengthAdjust="spacingAndGlyphs">Complex process stimulus stimulus</text>
<text x="323.6" y="286.14" font-size="2" fill="#444">218.98</text>
<rect x="300.5" y="288.84" width="6.6" height="4.4" fill="#60bb6b"/>
<text x="299.5" y="292.21" font-size="2.15" text-anchor="end" fill="#555" textLength="11.9" lengthAdjust="spacingAndGlyphs">Assembly tissue</text>
<text x="308" y="291.96" font-size="2" fill="#444">871.24</text>
<rect x="300.5" y="294.66" width="5.6" height="4.4" fill="#61bc6c"/>
<text x="299.5" y="298.03" font-size="2.15" text-anchor="end" fill="#555" textLength="21.5" lengthAdjust="spacingAndGlyphs">To regulation binding cellular</text>
<text x="307" y="297.78" font-size="2" fill="#444">102.63</text>
<rect x="300.5" y="300.48" width="5.1" height="4.4" fill="#63bc6c"/>
<text x="299.5" y="303.85" font-size="2.15" text-anchor="end" fill="#555" textLength="22.3" lengthAdjust="spacingAndGlyphs">Of of process cellular process</text>
<text x="306.5" y="303.6" font-size="2" fill="#444">685.06</text>
<rect x="300.5" y="306.3" width="4.4" height="4.4" fill="#64bd6d"/>
<text x="299.5" y="309.67" font-size="2.15" text-anchor="end" fill="#555" textLength="25.6" lengthAdjust="spacingAndGlyphs">Differentiation transport regulation</text>
<text x="305.8" y="309.42" font-size="2" fill="#444">122.47</text>
<rect x="300.5" y="312.12" width="1.4" height="4.4" fill="#65be6e"/>
<text x="299.5" y="315.49" font-size="2.15" text-anchor="end" fill="#555" textLength="12.2" lengthAdjust="spacingAndGlyphs">System negative</text>
<text x="302.8" y="315.24" font-size="2" fill="#444">703.36</text>
<rect x="300.5" y="317.94" width="3.3" height="4.4" fill="#66bf6f"/>
<text x="299.5" y="321.31" font-size="2.15" text-anchor="end" fill="#555" textLength="8.2" lengthAdjust="spacingAndGlyphs">To signaling</text>
<text x="304.7" y="321.06" font-size="2" fill="#444">579.82</text>
<rect x="300.5" y="323.76" width="3.3" height="4.4" fill="#67bf6f"/>
<text x="299.5" y="327.13" font-size="2.15" text-anchor="end" fill="#555" textLength="17.5" lengthAdjust="spacingAndGlyphs">Assembly cancer factor</text>
<text x="304.7" y="326.88" font-size="2" fill="#444">89.56</text>
<rect x="300.5" y="329.58" width="4.4" height="4.4" fill="#68c070"/>
<text x="299.5" y="332.95" font-size="2.15" text-anchor="end" fill="#555" textLength="26.5" lengthAdjust="spacingAndGlyphs">Binding pathway assembly positive</text>
<text x="305.8" y="332.7" font-size="2" fill="#444">340.20</text>
<rect x="300.5" y="335.4" width="21.5" height="4.4" fill="#6cc070"/>
<text x="299.5" y="338.77" font-size="2.15" text-anchor="end" fill="#555" textLength="6.7" lengthAdjust="spacingAndGlyphs">Signaling</text>
<text x="322.9" y="338.52" font-size="2" fill="#444">76.29</text>
<rect x="300.5" y="341.22" width="7.4" height="4.4" fill="#76c474"/>
<text x="299.5" y="344.59" font-size="2.15" text-anchor="end" fill="#555" textLength="27.5" lengthAdjust="spacingAndGlyphs">Assembly of growth growth immune</text>
<text x="308.8" y="344.34" font-size="2" fill="#444">953.54</text>
<rect x="300.5" y="347.04" width="15.5" height="4.4" fill="#80c878"/>
<text x="299.5" y="350.41" font-size="2.15" text-anchor="end" fill="#555" textLength="18.1" lengthAdjust="spacingAndGlyphs">To apoptotic process cell</text>
<text x="316.9" y="350.16" font-size="2" fill="#444">588.92</text>
<rect x="300.5" y="352.86" width="1.1" height="4.4" fill="#87cc7c"/>
<text x="299.5" y="356.23" font-size="2.15" text-anchor="end" fill="#555" textLength="23.4" lengthAdjust="spacingAndGlyphs">Development apoptotic positive</text>
<text x="302.5" y="355.98" font-size="2" fill="#444">461.96</text>
<rect x="300.5" y="358.68" width="3.9" height="4.4" fill="#8ecf80"/>
<text x="299.5" y="362.05" font-size="2.15" text-anchor="end" fill="#555" textLength="21.6" lengthAdjust="spacingAndGlyphs">Positive cell cell of apoptotic</text>
<text x="305.3" y="361.8" font-size="2" fill="#444">557.92</text>
<rect x="300.5" y="364.5" width="3.3" height="4.4" fill="#95d384"/>
<text x="299.5" y="367.87" font-size="2.15" text-anchor="end" fill="#555" textLength="14.8" lengthAdjust="spacingAndGlyphs">Response regulation</text>
<text x="304.7" y="367.62" font-size="2" fill="#444">81.90</text>
<rect x="300.5" y="370.32" width="5.1" height="4.4" fill="#9ad686"/>
<text x="299.5" y="373.69" font-size="2.15" text-anchor="end" fill="#555" textLength="6.5" lengthAdjust="spacingAndGlyphs">Transport</text>
<text x="306.5" y="373.44" font-size="2" fill="#444">760.14</text>
<rect x="300.5" y="376.14" width="4.4" height="4.4" fill="#a0d888"/>
<text x="299.5" y="379.51" font-size="2.15" text-anchor="end" fill="#555" textLength="13.3" lengthAdjust="spacingAndGlyphs">Factor cell activity</text>
<text x="305.8" y="379.26" font-size="2" fill="#444">303.93</text>
<rect x="300.5" y="381.96" width="0.9" height="4.4" fill="#c4e894"/>
<text x="299.5" y="385.33" font-size="2.15" text-anchor="end" fill="#555" textLength="19.3" lengthAdjust="spacingAndGlyphs">Activity cancer regulation</text>
<text x="302.3" y="385.08" font-size="2" fill="#444">638.91</text>
<rect x="300.5" y="387.78" width="2.4" height="4.4" fill="#d6f09e"/>
<text x="299.5" y="391.15" font-size="2.15" text-anchor="end" fill="#555" textLength="8" lengthAdjust="spacingAndGlyphs">Regulation</text>
<text x="303.8" y="390.9" font-size="2" fill="#444">129.97</text>
<rect x="300.5" y="217.4" width="33" height="176.1" fill="none" stroke="#c4c4c4" stroke-width="0.45"/>
<line x1="300.5" y1="217.4" x2="300.5" y2="393.5" stroke="#999" stroke-width="0.4"/>
<line x1="300.9" y1="393.5" x2="300.9" y2="394.1" stroke="#999" stroke-width="0.25"/>
<text x="300.9" y="395.8" font-size="1.7" text-anchor="middle" fill="#555">0</text>
<line x1="307.5" y1="393.5" x2="307.5" y2="394.1" stroke="#999" stroke-width="0.25"/>
<text x="307.5" y="395.8" font-size="1.7" text-anchor="middle" fill="#555">25</text>
<line x1="314.2" y1="393.5" x2="314.2" y2="394.1" stroke="#999" stroke-width="0.25"/>
<text x="314.2" y="395.8" font-size="1.7" text-anchor="middle" fill="#555">50</text>
<line x1="320.9" y1="393.5" x2="320.9" y2="394.1" stroke="#999" stroke-width="0.25"/>
<text x="320.9" y="395.8" font-size="1.7" text-anchor="middle" fill="#555">75</text>
<line x1="327.6" y1="393.5" x2="327.6" y2="394.1" stroke="#999" stroke-width="0.25"/>
<text x="327.6" y="395.8" font-size="1.7" text-anchor="middle" fill="#555">100</text>
<text x="317" y="399.8" font-size="2.33" text-anchor="middle" fill="#222" textLength="14.1" lengthAdjust="spacingAndGlyphs">Gene percent</text>
<text x="262" y="305.8" font-size="2.8" text-anchor="middle" fill="#111" font-weight="bold" textLength="8.6" lengthAdjust="spacingAndGlyphs" transform="rotate(-90 262 305.8)">DO Term</text>
<text x="337.6" y="220.8" font-size="1.82" fill="#444" textLength="10" lengthAdjust="spacingAndGlyphs">-log10(FDR)</text>
<defs><linearGradient id="gG" x1="0" y1="0" x2="0" y2="1"><stop offset="0.00" stop-color="#0b4d26"/><stop offset="0.25" stop-color="#238b45"/><stop offset="0.50" stop-color="#5cb85f"/><stop offset="0.75" stop-color="#a6d98a"/><stop offset="1.00" stop-color="#e8f6b8"/></linearGradient></defs>
<rect x="337.3" y="224.1" width="1.2" height="9.7" fill="url(#gG)"/>
<text x="339.1" y="226.78" font-size="1.62" fill="#555">1.26</text>
<text x="339.1" y="228.68" font-size="1.62" fill="#555">1.0</text>
<text x="339.1" y="230.58" font-size="1.62" fill="#555">0.75</text>
<text x="339.1" y="232.48" font-size="1.62" fill="#555">0.5</text>
<line x1="547.6" y1="13.1" x2="547.6" y2="173.1" stroke="#efefef" stroke-width="0.3"/>
<line x1="551.1" y1="13.1" x2="551.1" y2="173.1" stroke="#efefef" stroke-width="0.3"/>
<line x1="554.7" y1="13.1" x2="554.7" y2="173.1" stroke="#efefef" stroke-width="0.3"/>
<line x1="558.2" y1="13.1" x2="558.2" y2="173.1" stroke="#efefef" stroke-width="0.3"/>
<line x1="561.8" y1="13.1" x2="561.8" y2="173.1" stroke="#efefef" stroke-width="0.3"/>
<line x1="565.3" y1="13.1" x2="565.3" y2="173.1" stroke="#efefef" stroke-width="0.3"/>
<line x1="568.9" y1="13.1" x2="568.9" y2="173.1" stroke="#efefef" stroke-width="0.3"/>
<rect x="543.7" y="14" width="20.3" height="4.2" fill="#0a4520"/>
<text x="542.9" y="17.15" font-size="1.8" text-anchor="end" fill="#2a2a2a" textLength="33" lengthAdjust="spacingAndGlyphs">Membrane development regulation pathway protein</text>
<text x="564.9" y="16.88" font-size="1.6" fill="#444">629.43</text>
<rect x="543.7" y="19.32" width="12.8" height="4.2" fill="#0a4a25"/>
<text x="542.9" y="22.46" font-size="1.8" text-anchor="end" fill="#2a2a2a" textLength="37.2" lengthAdjust="spacingAndGlyphs">Of response membrane positive assembly growth apoptotic</text>
<text x="557.4" y="22.19" font-size="1.6" fill="#444">937.77</text>
<rect x="543.7" y="24.63" width="11.2" height="4.2" fill="#2a984a"/>
<text x="542.9" y="27.78" font-size="1.8" text-anchor="end" fill="#2a2a2a" textLength="48.3" lengthAdjust="spacingAndGlyphs">Factor protein response differentiation tissue development assembly stimulus</text>
<text x="555.8" y="27.51" font-size="1.6" fill="#444">336.62</text>
<rect x="543.7" y="29.95" width="18.3" height="4.2" fill="#2a984a"/>
<text x="542.9" y="33.1" font-size="1.8" text-anchor="end" fill="#2a2a2a" textLength="7.8" lengthAdjust="spacingAndGlyphs">Apoptotic of</text>
<text x="562.9" y="32.83" font-size="1.6" fill="#444">865.90</text>
<rect x="543.7" y="35.27" width="11.2" height="4.2" fill="#2a984a"/>
<text x="542.9" y="38.42" font-size="1.8" text-anchor="end" fill="#2a2a2a" textLength="52.8" lengthAdjust="spacingAndGlyphs">Positive immune receptor kinase cell development activity kinase cancer assembly</text>
<text x="555.8" y="38.14" font-size="1.6" fill="#444">270.49</text>
<rect x="543.7" y="40.59" width="9.4" height="4.2" fill="#30a050"/>
<text x="542.9" y="43.73" font-size="1.8" text-anchor="end" fill="#2a2a2a" textLength="45.6" lengthAdjust="spacingAndGlyphs">Stimulus binding membrane tissue cellular signaling process signaling of</text>
<text x="554" y="43.46" font-size="1.6" fill="#444">718.39</text>
<rect x="543.7" y="45.9" width="20.3" height="4.2" fill="#35a552"/>
<text x="542.9" y="49.05" font-size="1.8" text-anchor="end" fill="#2a2a2a" textLength="23.7" lengthAdjust="spacingAndGlyphs">Transport signaling positive assembly</text>
<text x="564.9" y="48.78" font-size="1.6" fill="#444">219.68</text>
<rect x="543.7" y="51.22" width="18.3" height="4.2" fill="#3aaa55"/>
<text x="542.9" y="54.37" font-size="1.8" text-anchor="end" fill="#2a2a2a" textLength="37.6" lengthAdjust="spacingAndGlyphs">Negative regulation activity cellular cell membrane transport</text>
<text x="562.9" y="54.1" font-size="1.6" fill="#444">245.42</text>
<rect x="543.7" y="56.54" width="9.4" height="4.2" fill="#4ab060"/>
<text x="542.9" y="59.68" font-size="1.8" text-anchor="end" fill="#2a2a2a" textLength="20" lengthAdjust="spacingAndGlyphs">Complex activity cellular protein</text>
<text x="554" y="59.41" font-size="1.6" fill="#444">525.81</text>
<rect x="543.7" y="61.85" width="18.3" height="4.2" fill="#55b865"/>
<text x="542.9" y="65" font-size="1.8" text-anchor="end" fill="#2a2a2a" textLength="14.8" lengthAdjust="spacingAndGlyphs">Factor stimulus immune</text>
<text x="562.9" y="64.73" font-size="1.6" fill="#444">388.48</text>
<rect x="543.7" y="67.17" width="7.2" height="4.2" fill="#6cc070"/>
<text x="542.9" y="70.32" font-size="1.8" text-anchor="end" fill="#2a2a2a" textLength="37.9" lengthAdjust="spacingAndGlyphs">Signaling immune immune factor factor of tissue of signaling</text>
<text x="551.8" y="70.05" font-size="1.6" fill="#444">45.12</text>
<rect x="543.7" y="72.49" width="7.2" height="4.2" fill="#6cc070"/>
<text x="542.9" y="75.64" font-size="1.8" text-anchor="end" fill="#2a2a2a" textLength="18.5" lengthAdjust="spacingAndGlyphs">Development immune cancer</text>
<text x="551.8" y="75.36" font-size="1.6" fill="#444">410.94</text>
<rect x="543.7" y="77.8" width="7.2" height="4.2" fill="#6cc070"/>
<text x="542.9" y="80.95" font-size="1.8" text-anchor="end" fill="#2a2a2a" textLength="28.5" lengthAdjust="spacingAndGlyphs">System pathway cellular membrane receptor</text>
<text x="551.8" y="80.68" font-size="1.6" fill="#444">476.31</text>
<rect x="543.7" y="83.12" width="7.2" height="4.2" fill="#6cc070"/>
<text x="542.9" y="86.27" font-size="1.8" text-anchor="end" fill="#2a2a2a" textLength="41.6" lengthAdjust="spacingAndGlyphs">Membrane development activity cancer activity growth membrane</text>
<text x="551.8" y="86" font-size="1.6" fill="#444">417.52</text>
<rect x="543.7" y="88.44" width="7.2" height="4.2" fill="#6cc070"/>
<text x="542.9" y="91.59" font-size="1.8" text-anchor="end" fill="#2a2a2a" textLength="41.6" lengthAdjust="spacingAndGlyphs">Organization of system transport cell binding system organization</text>
<text x="551.8" y="91.31" font-size="1.6" fill="#444">46.53</text>
<rect x="543.7" y="93.75" width="12.8" height="4.2" fill="#78c878"/>
<text x="542.9" y="96.9" font-size="1.8" text-anchor="end" fill="#2a2a2a" textLength="47.9" lengthAdjust="spacingAndGlyphs">System organization assembly positive immune stimulus regulation receptor</text>
<text x="557.4" y="96.63" font-size="1.6" fill="#444">784.73</text>
<rect x="543.7" y="99.07" width="7.2" height="4.2" fill="#7bc979"/>
<text x="542.9" y="102.22" font-size="1.8" text-anchor="end" fill="#2a2a2a" textLength="41.6" lengthAdjust="spacingAndGlyphs">Metabolic protein development binding pathway cellular negative</text>
<text x="551.8" y="101.95" font-size="1.6" fill="#444">920.87</text>
<rect x="543.7" y="104.39" width="7.2" height="4.2" fill="#7fcb79"/>
<text x="542.9" y="107.54" font-size="1.8" text-anchor="end" fill="#2a2a2a" textLength="41.9" lengthAdjust="spacingAndGlyphs">Positive metabolic binding to complex membrane activity negative</text>
<text x="551.8" y="107.27" font-size="1.6" fill="#444">337.23</text>
<rect x="543.7" y="109.71" width="20.3" height="4.2" fill="#82cc7a"/>
<text x="542.9" y="112.85" font-size="1.8" text-anchor="end" fill="#2a2a2a" textLength="16.6" lengthAdjust="spacingAndGlyphs">Response assembly factor</text>
<text x="564.9" y="112.58" font-size="1.6" fill="#444">586.61</text>
<rect x="543.7" y="115.02" width="18.3" height="4.2" fill="#83cc7b"/>
<text x="542.9" y="118.17" font-size="1.8" text-anchor="end" fill="#2a2a2a" textLength="37.6" lengthAdjust="spacingAndGlyphs">Stimulus kinase activity apoptotic signaling cell organization</text>
<text x="562.9" y="117.9" font-size="1.6" fill="#444">716.57</text>
<rect x="543.7" y="120.34" width="20.3" height="4.2" fill="#83cd7b"/>
<text x="542.9" y="123.49" font-size="1.8" text-anchor="end" fill="#2a2a2a" textLength="33" lengthAdjust="spacingAndGlyphs">Growth membrane tissue positive complex pathway</text>
<text x="564.9" y="123.22" font-size="1.6" fill="#444">64.66</text>
<rect x="543.7" y="125.66" width="18.3" height="4.2" fill="#84cd7c"/>
<text x="542.9" y="128.81" font-size="1.8" text-anchor="end" fill="#2a2a2a" textLength="32.7" lengthAdjust="spacingAndGlyphs">Kinase process complex response metabolic kinase</text>
<text x="562.9" y="128.53" font-size="1.6" fill="#444">806.91</text>
<rect x="543.7" y="130.97" width="5.7" height="4.2" fill="#a0d888"/>
<text x="542.9" y="134.12" font-size="1.8" text-anchor="end" fill="#2a2a2a" textLength="33" lengthAdjust="spacingAndGlyphs">System protein apoptotic signaling pathway pathway</text>
<text x="550.3" y="133.85" font-size="1.6" fill="#444">845.79</text>
<rect x="543.7" y="136.29" width="5.7" height="4.2" fill="#a0d888"/>
<text x="542.9" y="139.44" font-size="1.8" text-anchor="end" fill="#2a2a2a" textLength="33" lengthAdjust="spacingAndGlyphs">To complex organization negative signaling pathway</text>
<text x="550.3" y="139.17" font-size="1.6" fill="#444">853.48</text>
<rect x="543.7" y="141.61" width="12.8" height="4.2" fill="#b0e090"/>
<text x="542.9" y="144.76" font-size="1.8" text-anchor="end" fill="#2a2a2a" textLength="44.6" lengthAdjust="spacingAndGlyphs">Cancer organization apoptotic transport stimulus differentiation positive</text>
<text x="557.4" y="144.48" font-size="1.6" fill="#444">40.62</text>
<rect x="543.7" y="146.93" width="9.4" height="4.2" fill="#b4e192"/>
<text x="542.9" y="150.07" font-size="1.8" text-anchor="end" fill="#2a2a2a" textLength="24.5" lengthAdjust="spacingAndGlyphs">Signaling development tissue response</text>
<text x="554" y="149.8" font-size="1.6" fill="#444">892.26</text>
<rect x="543.7" y="152.24" width="12.8" height="4.2" fill="#b8e294"/>
<text x="542.9" y="155.39" font-size="1.8" text-anchor="end" fill="#2a2a2a" textLength="33.4" lengthAdjust="spacingAndGlyphs">Cancer pathway complex receptor signaling signaling</text>
<text x="557.4" y="155.12" font-size="1.6" fill="#444">430.54</text>
<rect x="543.7" y="157.56" width="7.2" height="4.2" fill="#c8e898"/>
<text x="542.9" y="160.71" font-size="1.8" text-anchor="end" fill="#2a2a2a" textLength="19.3" lengthAdjust="spacingAndGlyphs">Receptor factor factor tissue to</text>
<text x="551.8" y="160.43" font-size="1.6" fill="#444">80.61</text>
<rect x="543.7" y="162.88" width="7.2" height="4.2" fill="#caea9a"/>
<text x="542.9" y="166.02" font-size="1.8" text-anchor="end" fill="#2a2a2a" textLength="38.6" lengthAdjust="spacingAndGlyphs">Of differentiation apoptotic response pathway tissue negative</text>
<text x="551.8" y="165.75" font-size="1.6" fill="#444">589.39</text>
<rect x="543.7" y="168.19" width="9" height="4.2" fill="#cceb9c"/>
<text x="542.9" y="171.34" font-size="1.8" text-anchor="end" fill="#2a2a2a" textLength="14.1" lengthAdjust="spacingAndGlyphs">Tissue tissue apoptotic</text>
<text x="553.6" y="171.07" font-size="1.6" fill="#444">352.59</text>
<rect x="543.7" y="13.1" width="29.3" height="160" fill="none" stroke="#c4c4c4" stroke-width="0.45"/>
<line x1="543.7" y1="13.1" x2="543.7" y2="173.1" stroke="#999" stroke-width="0.4"/>
<line x1="544.1" y1="173.1" x2="544.1" y2="173.7" stroke="#999" stroke-width="0.25"/>
<text x="544.1" y="175.6" font-size="1.7" text-anchor="middle" fill="#555">0</text>
<line x1="551.1" y1="173.1" x2="551.1" y2="173.7" stroke="#999" stroke-width="0.25"/>
<text x="551.1" y="175.6" font-size="1.7" text-anchor="middle" fill="#555">2</text>
<line x1="558.2" y1="173.1" x2="558.2" y2="173.7" stroke="#999" stroke-width="0.25"/>
<text x="558.2" y="175.6" font-size="1.7" text-anchor="middle" fill="#555">4</text>
<line x1="565.3" y1="173.1" x2="565.3" y2="173.7" stroke="#999" stroke-width="0.25"/>
<text x="565.3" y="175.6" font-size="1.7" text-anchor="middle" fill="#555">6</text>
<text x="558" y="179.6" font-size="1.91" text-anchor="middle" fill="#222" textLength="11.6" lengthAdjust="spacingAndGlyphs">Gene percent</text>
<text x="488.5" y="93.5" font-size="2.8" text-anchor="middle" fill="#111" font-weight="bold" textLength="9" lengthAdjust="spacingAndGlyphs" transform="rotate(-90 488.5 93.5)">Pathway</text>
<text x="575.4" y="15.3" font-size="1.64" fill="#444" textLength="9" lengthAdjust="spacingAndGlyphs">-log10(FDR)</text>
<defs><linearGradient id="gI" x1="0" y1="0" x2="0" y2="1"><stop offset="0.00" stop-color="#0b4d26"/><stop offset="0.25" stop-color="#238b45"/><stop offset="0.50" stop-color="#5cb85f"/><stop offset="0.75" stop-color="#a6d98a"/><stop offset="1.00" stop-color="#e8f6b8"/></linearGradient></defs>
<rect x="575.1" y="17.9" width="1.4" height="9.7" fill="url(#gI)"/>
<text x="577.1" y="20.58" font-size="1.62" fill="#555">1.26</text>
<text x="577.1" y="22.48" font-size="1.62" fill="#555">1.0</text>
<text x="577.1" y="24.38" font-size="1.62" fill="#555">0.75</text>
<text x="577.1" y="26.28" font-size="1.62" fill="#555">0.5</text>
<text x="164.8" y="162.8" font-size="3.3" text-anchor="middle" fill="#222" font-weight="bold" textLength="9.4" lengthAdjust="spacingAndGlyphs">GSEA</text>
<rect x="124.4" y="166.3" width="81" height="125.1" fill="#fff"/>
<line x1="132.5" y1="166.3" x2="132.5" y2="222.9" stroke="#ededed" stroke-width="0.3"/>
<line x1="140.6" y1="166.3" x2="140.6" y2="222.9" stroke="#ededed" stroke-width="0.3"/>
<line x1="148.7" y1="166.3" x2="148.7" y2="222.9" stroke="#ededed" stroke-width="0.3"/>
<line x1="156.8" y1="166.3" x2="156.8" y2="222.9" stroke="#ededed" stroke-width="0.3"/>
<line x1="164.9" y1="166.3" x2="164.9" y2="222.9" stroke="#ededed" stroke-width="0.3"/>
<line x1="173" y1="166.3" x2="173" y2="222.9" stroke="#ededed" stroke-width="0.3"/>
<line x1="181.1" y1="166.3" x2="181.1" y2="222.9" stroke="#ededed" stroke-width="0.3"/>
<line x1="189.2" y1="166.3" x2="189.2" y2="222.9" stroke="#ededed" stroke-width="0.3"/>
<line x1="197.3" y1="166.3" x2="197.3" y2="222.9" stroke="#ededed" stroke-width="0.3"/>
<line x1="124.4" y1="216.8" x2="205.4" y2="216.8" stroke="#ededed" stroke-width="0.3"/>
<line x1="124.4" y1="209.8" x2="205.4" y2="209.8" stroke="#ededed" stroke-width="0.3"/>
<line x1="124.4" y1="202.8" x2="205.4" y2="202.8" stroke="#ededed" stroke-width="0.3"/>
<line x1="124.4" y1="195.8" x2="205.4" y2="195.8" stroke="#ededed" stroke-width="0.3"/>
<line x1="124.4" y1="188.8" x2="205.4" y2="188.8" stroke="#ededed" stroke-width="0.3"/>
<line x1="124.4" y1="181.8" x2="205.4" y2="181.8" stroke="#ededed" stroke-width="0.3"/>
<line x1="124.4" y1="174.8" x2="205.4" y2="174.8" stroke="#ededed" stroke-width="0.3"/>
<line x1="124.4" y1="167.8" x2="205.4" y2="167.8" stroke="#ededed" stroke-width="0.3"/>
<path d="M124.4 223.8 L126.02 196.21 L127.23 186.33 L128.45 176.29 L129.67 176.75 L130.88 177.9 L132.13 178.56 L133.38 179.1 L134.64 179.29 L135.89 180.44 L137.14 180.58 L138.39 181.28 L139.64 182.36 L140.89 182.66 L142.15 183.37 L143.4 184.04 L144.65 184.18 L145.46 177.94 L146.7 179.11 L147.93 179.44 L149.17 181 L150.41 182.27 L151.64 183.27 L152.88 184.35 L154.11 184.95 L155.35 186.69 L156.59 187.79 L157.82 188.58 L159.06 189.72 L160.3 190.48 L161.53 191.68 L162.77 193.2 L164 194.43 L165.24 195 L166.48 195.98 L167.71 197.89 L168.95 198.4 L170.17 199.13 L171.38 200.15 L172.6 201.36 L173.81 201.71 L175.03 202.61 L176.24 203.9 L177.46 204.36 L178.67 205.56 L179.89 206.55 L181.1 207.14 L182.31 207.98 L183.53 208.77 L184.75 209.4 L185.96 210.08 L187.18 210.81 L188.39 211.64 L189.61 212.47 L190.82 213.48 L192.03 214.72 L193.25 215.67 L194.57 216.17 L195.88 217.11 L197.2 217.88 L198.52 219.24 L199.83 220.03 L201.15 220.3 L202.46 221.44 L203.78 222.4 L205.4 223.8" stroke="#f5a623" stroke-width="0.55" fill="none" stroke-linejoin="round"/>
<path d="M124.4 223.8 L125.62 209.64 L126.83 196.14 L128.45 181.18 L130.07 166.06 L131.69 166.27 L133.31 165.99 L134.52 167.63 L135.73 168.38 L136.93 169.07 L138.14 170.34 L139.35 171.02 L140.56 172.19 L141.77 173.53 L142.98 174.52 L144.18 174.75 L145.39 176.45 L146.6 177.36 L147.81 178.21 L149.02 178.87 L150.22 179.72 L151.43 181.01 L152.64 181.97 L153.85 182.7 L155.06 184.1 L156.26 184.99 L157.47 185.76 L158.68 186.72 L159.89 188.19 L161.1 189.1 L162.31 190.05 L163.51 190.53 L164.72 191.53 L165.93 192.27 L167.14 193.42 L168.35 194.82 L169.55 195.36 L170.76 196.15 L171.97 197.66 L173.18 198.92 L174.39 199.58 L175.59 200.63 L176.8 201.7 L178.01 202.78 L179.22 203.68 L180.43 204.04 L181.64 205.69 L182.84 206.19 L184.05 207.51 L185.26 208.49 L186.47 208.94 L187.68 210.35 L188.88 211.42 L190.09 212.16 L191.3 212.93 L192.51 214.05 L193.72 214.74 L194.92 216.1 L196.13 216.97 L197.34 217.78 L198.55 218.97 L199.76 219.73 L200.97 220.91 L202.17 222.16 L203.38 223.14 L204.59 223.8 L205.4 223.8" stroke="#7fd6f2" stroke-width="0.55" fill="none" stroke-linejoin="round"/>
<path d="M124.4 223.8 L125.62 206.06 L126.83 188.59 L128.25 178.63 L129.67 169.04 L131.15 170.07 L132.63 171.35 L134.12 171.7 L135.34 173.28 L136.55 173.99 L137.77 175.19 L138.98 175.95 L140.19 176.97 L141.41 177.84 L142.62 178.56 L143.84 179.67 L145.06 180.88 L146.27 181.39 L147.49 182.39 L148.7 183.28 L149.92 184.9 L151.13 185.38 L152.34 186.11 L153.56 187.6 L154.78 188.61 L155.99 189.06 L157.21 190.4 L158.42 191.33 L159.63 191.95 L160.85 193.27 L162.06 194.39 L163.28 195.34 L164.5 196.19 L165.71 196.86 L166.93 198.1 L168.14 198.72 L169.36 200.28 L170.57 201.09 L171.78 201.73 L173 202.82 L174.26 203.58 L175.52 203.99 L176.78 205.32 L178.04 206.18 L179.3 207.08 L180.56 207.48 L181.82 208.41 L183.08 209.04 L184.34 210.22 L185.6 211 L186.86 211.46 L188.12 211.92 L189.38 213.08 L190.64 213.34 L191.9 214.4 L193.16 215.33 L194.42 215.79 L195.68 216.8 L196.9 217.9 L198.11 218.46 L199.32 219.13 L200.54 220.27 L201.75 221.33 L202.97 222.39 L204.19 222.86 L205.4 223.8" stroke="#f04545" stroke-width="0.55" fill="none" stroke-linejoin="round"/>
<path d="M124.4 223.8 L126.02 203.06 L127.64 188.21 L129.26 173.36 L130.47 173.38 L131.69 173.95 L132.91 174.43 L134.12 174.5 L135.32 175.88 L136.52 176.73 L137.72 177.4 L138.92 178.42 L140.13 179.62 L141.33 180.38 L142.53 180.95 L143.73 182.35 L144.93 182.88 L146.13 184.35 L147.33 184.51 L148.53 185.65 L149.73 186.87 L150.93 187.24 L152.14 188.31 L153.34 189.84 L154.54 190.6 L155.74 191.32 L156.94 191.81 L158.14 193.45 L159.34 194.44 L160.54 195.14 L161.74 196.28 L162.94 196.89 L164.15 197.7 L165.35 198.7 L166.55 199.87 L167.75 200.88 L168.95 201.15 L170.21 202.36 L171.46 203.24 L172.72 204.15 L173.97 204.88 L175.23 205.61 L176.48 206.59 L177.74 207.58 L178.99 208.82 L180.25 209.87 L181.5 210.84 L182.76 211.11 L184.02 212.69 L185.27 213.17 L186.53 213.8 L187.78 215.2 L189.04 216.05 L190.29 216.94 L191.55 217.41 L192.8 218.54 L194.06 219.6 L195.32 219.78 L196.58 220.92 L197.84 220.81 L199.1 221.51 L200.36 222.02 L201.62 222.13 L202.88 222.67 L204.14 222.99 L205.4 223.8" stroke="#2db56c" stroke-width="0.55" fill="none" stroke-linejoin="round"/>
<path d="M124.4 223.8 L126.02 181.6 L127.23 174.46 L128.45 167.86 L129.8 168.22 L131.15 168.49 L132.5 169.24 L133.72 170.44 L134.93 170.99 L136.15 171.69 L137.36 172.62 L138.58 174.18 L139.79 174.9 L141 175.96 L142.22 176.8 L143.44 177.21 L144.65 178.6 L145.87 179.62 L147.08 180.59 L148.3 181.38 L149.51 182.12 L150.73 183.33 L151.94 184.4 L153.16 185.3 L154.37 186.2 L155.59 186.59 L156.8 188.14 L158.02 188.59 L159.23 190.06 L160.44 190.43 L161.66 191.8 L162.88 192.3 L164.09 193.52 L165.31 194.75 L166.52 195.67 L167.74 196.01 L168.95 197.16 L170.17 198.05 L171.38 199 L172.6 199.56 L173.81 200.57 L175.03 201.77 L176.24 202.16 L177.46 203.24 L178.67 203.63 L179.89 204.72 L181.1 205.37 L182.31 206.76 L183.53 207.11 L184.75 208.03 L185.96 208.67 L187.18 209.48 L188.39 210.6 L189.61 211.4 L190.82 212.1 L192.03 213.36 L193.25 214 L194.47 214.94 L195.68 215.72 L196.9 216.86 L198.11 217.88 L199.32 218.6 L200.54 219.48 L201.75 221.06 L202.97 222.2 L204.19 222.72 L205.4 223.8" stroke="#f0dc30" stroke-width="0.55" fill="none" stroke-linejoin="round"/>
<path d="M124.4 223.8 L125.62 208.35 L126.83 191.91 L128.45 183.57 L130.07 174.77 L131.37 175.23 L132.66 175.89 L133.96 177.2 L135.25 177.64 L136.55 178.57 L137.77 179.2 L138.98 180.33 L140.19 180.57 L141.41 181.87 L142.62 182.71 L143.84 183.15 L145.06 184.07 L146.27 185.34 L147.49 186.07 L148.7 186.8 L149.91 188.06 L151.13 188.97 L152.34 189.22 L153.56 190.67 L154.78 191.08 L155.99 191.91 L157.2 192.9 L158.42 193.97 L159.63 194.4 L160.85 195.33 L162.06 196.79 L163.28 196.96 L164.5 198.04 L165.71 199.2 L166.93 200.16 L168.14 201.08 L169.36 201.35 L170.57 202.18 L171.78 203.46 L173 204.47 L174.27 205.35 L175.53 205.85 L176.8 206.73 L178.06 207.73 L179.33 208.31 L180.59 208.66 L181.86 210.08 L183.12 210.58 L184.39 211.28 L185.66 212.36 L186.92 213.25 L188.19 214.01 L189.45 214.74 L190.72 214.83 L191.98 215.71 L193.25 216.8 L194.47 217.33 L195.68 217.86 L196.9 219.05 L198.11 219.81 L199.32 219.99 L200.54 220.91 L201.75 221.34 L202.97 222.52 L204.19 223.17 L205.4 223.8" stroke="#a23aa0" stroke-width="0.55" fill="none" stroke-linejoin="round"/>
<path d="M124.4 223.8 L126.02 188.62 L127.23 180.08 L128.45 172.28 L129.67 172.9 L130.88 173.81 L132.09 174.05 L133.31 174.44 L134.51 175.55 L135.72 176.71 L136.92 177.06 L138.12 177.9 L139.32 179.16 L140.53 179.29 L141.73 180.31 L142.93 181.26 L144.13 182.19 L145.34 183.15 L146.54 183.69 L147.74 184.59 L148.95 185.5 L150.15 185.96 L151.35 186.75 L152.55 187.32 L153.76 188.11 L154.96 189.34 L156.16 189.93 L157.36 191.03 L158.57 191.78 L159.77 192.48 L160.97 192.94 L162.18 194.53 L163.38 194.98 L164.58 195.89 L165.78 196.31 L166.99 196.99 L168.19 198.2 L169.39 199.33 L170.59 199.71 L171.8 200.52 L173 201.25 L174.24 202.07 L175.48 203.24 L176.72 204.08 L177.96 204.8 L179.19 206.33 L180.43 207.05 L181.67 207.58 L182.91 208.25 L184.15 209.18 L185.39 210.64 L186.63 210.97 L187.87 212.46 L189.1 213.22 L190.34 214.37 L191.58 214.9 L192.82 215.99 L194.06 216.8 L195.32 217.42 L196.58 217.97 L197.84 219.45 L199.1 219.78 L200.36 220.6 L201.62 221.66 L202.88 222.63 L204.14 222.65 L205.4 223.8" stroke="#3de0c0" stroke-width="0.55" fill="none" stroke-linejoin="round"/>
<path d="M124.4 223.8 L125.62 209.64 L126.83 195.69 L128.45 187.03 L130.07 177.26 L131.31 178.2 L132.55 178.66 L133.8 179.09 L135.04 179.7 L136.28 179.79 L137.52 180.71 L138.76 181.04 L140.01 181.48 L141.25 181.86 L142.49 183.01 L143.73 183.38 L144.97 183.38 L146.22 184.18 L147.46 184.89 L148.7 184.98 L149.92 187.37 L151.13 189.01 L152.36 189.93 L153.6 190.19 L154.83 191.11 L156.07 192.03 L157.3 192.68 L158.54 193.61 L159.77 193.99 L161 194.72 L162.24 195.8 L163.47 196.16 L164.71 197.62 L165.94 197.94 L167.18 199.06 L168.41 199.85 L169.64 200.25 L170.88 201.41 L172.11 202.19 L173.35 202.91 L174.58 203.47 L175.82 203.86 L177.05 205.08 L178.29 205.92 L179.53 206.08 L180.78 206.73 L182.02 207.28 L183.26 208.78 L184.5 209.38 L185.74 209.86 L186.99 210.09 L188.23 211.17 L189.47 211.58 L190.71 212.83 L191.95 213.32 L193.2 213.84 L194.44 214.93 L195.68 215.4 L196.9 216.43 L198.11 217.23 L199.32 218.28 L200.54 219.43 L201.75 220.37 L202.97 221.28 L204.19 222.66 L205.4 223.8" stroke="#f7804a" stroke-width="0.55" fill="none" stroke-linejoin="round"/>
<path d="M124.4 223.8 L125.62 211.76 L126.83 199.53 L128.25 194.25 L129.67 188.1 L131.08 182.97 L132.5 177.51 L133.72 177.99 L134.93 178.84 L136.15 179.79 L137.36 180.33 L138.59 181.67 L139.82 182.44 L141.05 183.28 L142.28 183.82 L143.5 184.85 L144.73 185.82 L145.96 186.91 L147.19 187.86 L148.42 188.75 L149.65 189.95 L150.88 190.61 L152.11 191.06 L153.34 192.06 L154.57 193.45 L155.79 194.16 L157.02 194.87 L158.25 196.24 L159.48 197.03 L160.71 197.75 L161.94 199.01 L163.17 199.32 L164.4 200.98 L165.63 201.18 L166.86 202.27 L168.08 203.42 L169.31 204.43 L170.54 204.86 L171.77 205.91 L173 207.24 L174.27 207.98 L175.53 209 L176.8 209.39 L178.06 210.39 L179.33 211.31 L180.59 211.82 L181.86 213.03 L183.12 213.95 L184.39 214.23 L185.66 214.99 L186.92 215.89 L188.19 216.93 L189.45 217.62 L190.72 218.33 L191.98 219.86 L193.25 220.3 L194.47 220.82 L195.68 221.12 L196.9 221.15 L198.11 221.84 L199.32 221.83 L200.54 222.6 L201.75 222.38 L202.97 223.15 L204.19 223.37 L205.4 223.8" stroke="#5a48d8" stroke-width="0.55" fill="none" stroke-linejoin="round"/>
<path d="M124.4 223.8 L125.62 213.19 L126.83 202.53 L128.18 195.75 L129.53 189.04 L130.88 181.85 L132.09 182.1 L133.31 182.86 L134.53 182.57 L135.74 183.36 L136.94 183.66 L138.14 184.93 L139.35 185.26 L140.55 186.27 L141.75 187.35 L142.95 187.91 L144.15 189.31 L145.36 190.05 L146.56 190.45 L147.76 191.49 L148.96 192.22 L150.16 192.78 L151.37 193.79 L152.57 194.49 L153.77 195.19 L154.97 195.92 L156.17 197.35 L157.37 197.56 L158.58 198.44 L159.78 199.69 L160.98 200.62 L162.18 201.34 L163.38 202.24 L164.59 202.65 L165.79 203.11 L166.99 204.35 L168.19 205.34 L169.39 206.24 L170.6 206.38 L171.8 207.55 L173 208.62 L174.24 208.63 L175.48 209.62 L176.72 209.72 L177.96 210.7 L179.19 211.49 L180.43 212.12 L181.67 212.84 L182.91 212.75 L184.15 213.73 L185.39 213.97 L186.63 214.45 L187.87 215.4 L189.1 215.89 L190.34 216.28 L191.58 216.93 L192.82 217.74 L194.06 218.2 L195.32 219.08 L196.58 219.62 L197.84 220.47 L199.1 220.58 L200.36 221.19 L201.62 221.7 L202.88 222.61 L204.14 222.98 L205.4 223.8" stroke="#c0bcf0" stroke-width="0.55" fill="none" stroke-linejoin="round"/>
<path d="M124.4 223.8 L126.02 211.5 L127.64 199 L128.99 192.72 L130.34 186.09 L131.69 179.62 L132.91 180.47 L134.12 181.11 L135.34 181.01 L136.55 181.64 L137.75 182.59 L138.95 183.05 L140.15 184.46 L141.35 184.79 L142.56 185.78 L143.76 186.91 L144.96 187.69 L146.16 188.57 L147.36 189.23 L148.56 189.53 L149.76 190.58 L150.96 191.74 L152.16 192.16 L153.36 192.55 L154.57 193.51 L155.77 194.71 L156.97 195.36 L158.17 196.25 L159.37 197.16 L160.57 197.6 L161.77 198.93 L162.97 199.35 L164.17 199.76 L165.37 200.7 L166.58 201.58 L167.78 202.23 L168.98 202.93 L170.18 204.3 L171.38 204.53 L172.59 205.09 L173.81 205.95 L175.03 206.78 L176.24 206.97 L177.45 207.53 L178.67 207.63 L179.88 208.79 L181.1 208.92 L182.31 209.41 L183.53 210.07 L184.75 210.86 L185.96 210.86 L187.18 211.93 L188.39 211.95 L189.61 212.45 L190.82 213.27 L192.03 214.03 L193.25 214.19 L194.47 214.71 L195.68 214.7 L196.9 216.1 L198.11 217.1 L199.32 218.05 L200.54 218.99 L201.75 220.77 L202.97 221.32 L204.19 222.99 L205.4 223.8" stroke="#c07ef2" stroke-width="0.55" fill="none" stroke-linejoin="round"/>
<path d="M124.4 223.8 L125.62 213.12 L126.83 203.21 L128.45 193.12 L130.07 182.84 L131.42 183.35 L132.77 184.51 L134.12 184.69 L135.34 185.04 L136.55 186.45 L137.77 187 L138.98 187.95 L140.19 188.71 L141.41 189.33 L142.62 190.42 L143.84 191.19 L145.06 191.29 L146.27 192.25 L147.49 193.18 L148.7 194.36 L149.92 195.15 L151.13 195.52 L152.34 196.32 L153.56 197.61 L154.78 197.6 L155.99 198.88 L157.21 199.76 L158.42 200.24 L159.63 200.79 L160.85 202.05 L162.06 202.7 L163.28 203.88 L164.5 204.32 L165.71 204.74 L166.93 205.49 L168.14 206.78 L169.36 207.13 L170.57 207.81 L171.78 209.18 L173 209.5 L174.22 210.4 L175.43 210.25 L176.65 210.72 L177.86 211.08 L179.08 211.98 L180.29 212.16 L181.5 212.57 L182.72 213.09 L183.94 213.96 L185.15 213.86 L186.37 214.17 L187.58 214.72 L188.8 214.92 L190.01 215.29 L191.23 215.98 L192.44 216.64 L193.66 216.93 L194.87 217.63 L196.09 218.01 L197.3 218.2 L198.65 218.73 L200 220.12 L201.35 221.03 L202.7 221.61 L204.05 222.62 L205.4 223.8" stroke="#f5b0b0" stroke-width="0.55" fill="none" stroke-linejoin="round"/>
<path d="M124.4 223.8 L125.62 221.38 L126.83 218.27 L128.05 209.77 L129.26 201.62 L130.47 194.88 L131.69 188.7 L133.04 188.51 L134.39 189.11 L135.74 189.06 L136.94 189.69 L138.14 190.23 L139.35 191.17 L140.55 191.68 L141.75 192.54 L142.95 193.5 L144.15 193.58 L145.36 194.55 L146.56 194.97 L147.76 196.01 L148.96 196.45 L150.16 197.38 L151.37 198.2 L152.57 198.55 L153.77 199.76 L154.97 199.96 L156.17 201.01 L157.37 201.43 L158.58 202.87 L159.78 203.22 L160.98 204.13 L162.18 204.43 L163.38 205.07 L164.59 205.84 L165.79 206.96 L166.99 207.95 L168.19 207.91 L169.39 209.28 L170.6 209.48 L171.8 210.4 L173 211.01 L174.26 211.49 L175.52 212.35 L176.78 212.7 L178.04 213.16 L179.3 213.36 L180.56 213.85 L181.82 214.05 L183.08 214.9 L184.34 215.53 L185.6 216.19 L186.86 216.38 L188.12 216.72 L189.38 217.11 L190.64 218.13 L191.9 218.45 L193.16 218.55 L194.42 218.89 L195.68 219.6 L196.9 219.75 L198.11 220.95 L199.32 220.98 L200.54 221.74 L201.75 222.15 L202.97 222.6 L204.19 223.35 L205.4 223.8" stroke="#eab888" stroke-width="0.55" fill="none" stroke-linejoin="round"/>
<path d="M124.4 223.8 L126.02 211.11 L127.64 188.41 L128.86 188.5 L130.07 187.36 L131.49 186.28 L132.91 185.68 L134.32 185.51 L135.74 184.36 L136.94 185.2 L138.14 186.57 L139.35 187.4 L140.55 188.57 L141.75 188.92 L142.95 190.56 L144.15 191.07 L145.36 191.78 L146.56 192.74 L147.76 193.79 L148.96 195.09 L150.16 195.61 L151.37 196.63 L152.57 197.94 L153.77 198.93 L154.97 199.92 L156.17 200.87 L157.37 201.61 L158.58 202.69 L159.78 203.18 L160.98 204.94 L162.18 205.38 L163.38 206.47 L164.59 206.94 L165.79 207.89 L166.99 209.08 L168.19 210.01 L169.39 211.26 L170.6 211.94 L171.8 213.27 L173 213.74 L174.27 214.54 L175.55 215.43 L176.82 216.04 L178.09 216.49 L179.36 217.13 L180.64 217.46 L181.91 218.23 L183.18 219.19 L184.46 219.55 L185.73 220.04 L187 220.19 L188.27 220.84 L189.55 221.7 L190.82 222.01 L192.03 222.83 L193.25 222.93 L194.47 223.11 L195.68 223.16 L196.9 223.28 L198.11 223.21 L199.32 223.05 L200.54 223.64 L201.75 223.81 L202.97 223.8 L204.19 223.82 L205.4 223.8" stroke="#26268a" stroke-width="0.55" fill="none" stroke-linejoin="round"/>
<path d="M124.4 223.8 L126.02 202.42 L127.23 192.29 L128.45 181.4 L129.8 181.96 L131.15 181.76 L132.5 181.69 L133.73 182.36 L134.95 183 L136.18 184.35 L137.41 185.02 L138.64 185.84 L139.86 186.02 L141.09 187 L142.32 187.74 L143.55 188.87 L144.77 188.97 L146 189.57 L147.23 191.12 L148.45 191.04 L149.68 192.21 L150.91 193.26 L152.14 194.07 L153.36 194.25 L154.59 194.91 L155.82 195.98 L157.05 196.34 L158.27 197.81 L159.5 197.82 L160.73 199.16 L161.95 199.88 L163.18 200.5 L164.41 201.25 L165.64 201.51 L166.86 202.58 L168.09 203.39 L169.32 203.81 L170.55 204.87 L171.77 205.72 L173 206.43 L174.24 206.93 L175.48 207.36 L176.72 208.04 L177.96 209.5 L179.19 209.91 L180.43 210.33 L181.67 211.2 L182.91 211.7 L184.15 212.23 L185.39 213.68 L186.63 213.83 L187.87 214.92 L189.1 215.27 L190.34 216.36 L191.58 217.1 L192.82 217.21 L194.06 218.2 L195.32 218.69 L196.58 219.33 L197.84 220.13 L199.1 220.89 L200.36 221.68 L201.62 221.56 L202.88 222.31 L204.14 222.97 L205.4 223.8" stroke="#4aa0c8" stroke-width="0.55" fill="none" stroke-linejoin="round"/>
<line x1="124.4" y1="223.8" x2="205.4" y2="223.8" stroke="#9a9a9a" stroke-width="0.4"/>
<rect x="124.4" y="222.9" width="81" height="1.9" fill="#dcdcdc"/>
<path d="M139.54 227.00v3.8M148.30 227.00v3.8" stroke="#f5b04a" stroke-width="0.55" opacity="0.85"/>
<path d="M126.37 227.00v3.8M126.99 227.00v3.8M129.09 227.00v3.8M129.71 227.00v3.8M152.43 227.00v3.8M153.05 227.00v3.8M154.29 227.00v3.8M185.61 227.00v3.8M186.23 227.00v3.8M186.85 227.00v3.8" stroke="#f5b04a" stroke-width="0.45"/>
<path d="M136.45 231.34v3.8M153.40 231.34v3.8M159.32 231.34v3.8M164.06 231.34v3.8" stroke="#8fdcf5" stroke-width="0.55" opacity="0.85"/>
<path d="M126.37 231.34v3.8M126.99 231.34v3.8M127.61 231.34v3.8M128.23 231.34v3.8M128.85 231.34v3.8M129.47 231.34v3.8M130.71 231.34v3.8M150.66 231.34v3.8M151.28 231.34v3.8M155.40 231.34v3.8M156.02 231.34v3.8M169.02 231.34v3.8M169.64 231.34v3.8" stroke="#8fdcf5" stroke-width="0.45"/>
<path d="M130.29 235.68v3.8M162.88 235.68v3.8M166.43 235.68v3.8" stroke="#f05050" stroke-width="0.55" opacity="0.85"/>
<path d="M145.94 235.68v3.8M146.56 235.68v3.8M147.18 235.68v3.8M147.80 235.68v3.8M149.04 235.68v3.8M151.25 235.68v3.8M151.87 235.68v3.8M152.49 235.68v3.8M153.11 235.68v3.8M156.58 235.68v3.8M157.20 235.68v3.8" stroke="#f05050" stroke-width="0.45"/>
<path d="M139.54 240.02v3.8M148.30 240.02v3.8" stroke="#2fb572" stroke-width="0.55" opacity="0.85"/>
<path d="M126.99 240.02v3.8M129.09 240.02v3.8M130.33 240.02v3.8M152.43 240.02v3.8M153.05 240.02v3.8M153.67 240.02v3.8M154.29 240.02v3.8M185.61 240.02v3.8M186.23 240.02v3.8M186.85 240.02v3.8" stroke="#2fb572" stroke-width="0.45"/>
<path d="M124.61 244.36v3.8M126.74 244.36v3.8M137.17 244.36v3.8M146.29 244.36v3.8M150.20 244.36v3.8M156.36 244.36v3.8M178.28 244.36v3.8" stroke="#f2e436" stroke-width="0.55" opacity="0.85"/>
<path d="M152.43 244.36v3.8M172.58 244.36v3.8M173.20 244.36v3.8" stroke="#f2e436" stroke-width="0.45"/>
<path d="M139.54 248.70v3.8M148.30 248.70v3.8" stroke="#a83aa8" stroke-width="0.55" opacity="0.85"/>
<path d="M126.99 248.70v3.8M130.33 248.70v3.8M152.43 248.70v3.8M153.05 248.70v3.8M153.67 248.70v3.8M154.29 248.70v3.8M185.61 248.70v3.8M186.23 248.70v3.8M186.85 248.70v3.8" stroke="#a83aa8" stroke-width="0.45"/>
<path d="M134.44 253.04v3.8M139.54 253.04v3.8M148.30 253.04v3.8M175.32 253.04v3.8" stroke="#3de0c0" stroke-width="0.55" opacity="0.85"/>
<path d="M126.37 253.04v3.8M126.99 253.04v3.8M129.09 253.04v3.8M129.71 253.04v3.8M130.33 253.04v3.8M152.43 253.04v3.8M153.05 253.04v3.8M154.29 253.04v3.8M185.61 253.04v3.8M186.23 253.04v3.8M186.85 253.04v3.8" stroke="#3de0c0" stroke-width="0.45"/>
<path d="M130.29 257.38v3.8M162.88 257.38v3.8M166.43 257.38v3.8" stroke="#f7804a" stroke-width="0.55" opacity="0.85"/>
<path d="M146.56 257.38v3.8M147.18 257.38v3.8M148.42 257.38v3.8M149.04 257.38v3.8M151.25 257.38v3.8M156.58 257.38v3.8M157.20 257.38v3.8" stroke="#f7804a" stroke-width="0.45"/>
<path d="M124.61 261.72v3.8M131.48 261.72v3.8M171.17 261.72v3.8M180.65 261.72v3.8M186.57 261.72v3.8" stroke="#6048d8" stroke-width="0.55" opacity="0.85"/>
<path d="M135.49 261.72v3.8M136.11 261.72v3.8M142.39 261.72v3.8M143.01 261.72v3.8M149.47 261.72v3.8M150.09 261.72v3.8M154.24 261.72v3.8M156.58 261.72v3.8M157.20 261.72v3.8M167.84 261.72v3.8M168.46 261.72v3.8" stroke="#6048d8" stroke-width="0.45"/>
<path d="M124.37 266.06v3.8M131.48 266.06v3.8M139.77 266.06v3.8M143.92 266.06v3.8M174.13 266.06v3.8" stroke="#c8c4f0" stroke-width="0.55" opacity="0.85"/>
<path d="M149.50 266.06v3.8M150.12 266.06v3.8M151.36 266.06v3.8M151.98 266.06v3.8M153.84 266.06v3.8M154.46 266.06v3.8M155.08 266.06v3.8M155.70 266.06v3.8M169.08 266.06v3.8M192.13 266.06v3.8M192.75 266.06v3.8M193.37 266.06v3.8" stroke="#c8c4f0" stroke-width="0.45"/>
<path d="M124.37 270.40v3.8M131.48 270.40v3.8M139.77 270.40v3.8M143.92 270.40v3.8M172.95 270.40v3.8M191.91 270.40v3.8M193.68 270.40v3.8" stroke="#c080f5" stroke-width="0.55" opacity="0.85"/>
<path d="M150.12 270.40v3.8M150.74 270.40v3.8M151.36 270.40v3.8M152.60 270.40v3.8M153.22 270.40v3.8M153.84 270.40v3.8M156.94 270.40v3.8M157.56 270.40v3.8M167.84 270.40v3.8" stroke="#c080f5" stroke-width="0.45"/>
<path d="M130.29 274.74v3.8M162.88 274.74v3.8M166.43 274.74v3.8" stroke="#f5b8b8" stroke-width="0.55" opacity="0.85"/>
<path d="M145.32 274.74v3.8M145.94 274.74v3.8M146.56 274.74v3.8M147.18 274.74v3.8M147.80 274.74v3.8M151.87 274.74v3.8M152.49 274.74v3.8M153.11 274.74v3.8M156.58 274.74v3.8M157.20 274.74v3.8" stroke="#f5b8b8" stroke-width="0.45"/>
<path d="M139.77 279.08v3.8M170.58 279.08v3.8M182.43 279.08v3.8M187.76 279.08v3.8M194.27 279.08v3.8" stroke="#eac39a" stroke-width="0.55" opacity="0.85"/>
<path d="M127.55 279.08v3.8M128.17 279.08v3.8M128.79 279.08v3.8M131.27 279.08v3.8M131.89 279.08v3.8M133.75 279.08v3.8M134.37 279.08v3.8M142.95 279.08v3.8M143.57 279.08v3.8M144.19 279.08v3.8M144.81 279.08v3.8M157.77 279.08v3.8M160.25 279.08v3.8" stroke="#eac39a" stroke-width="0.45"/>
<path d="M165.25 283.42v3.8M175.32 283.42v3.8M177.69 283.42v3.8" stroke="#2a2a8a" stroke-width="0.55" opacity="0.85"/>
<path d="M124.00 283.42v3.8M124.62 283.42v3.8M125.86 283.42v3.8M126.48 283.42v3.8M127.10 283.42v3.8M128.74 283.42v3.8M129.36 283.42v3.8M129.98 283.42v3.8M130.60 283.42v3.8M131.22 283.42v3.8M131.84 283.42v3.8M133.70 283.42v3.8M134.32 283.42v3.8M136.44 283.42v3.8M137.06 283.42v3.8M137.68 283.42v3.8M142.36 283.42v3.8M142.98 283.42v3.8M143.60 283.42v3.8M144.22 283.42v3.8M146.51 283.42v3.8M147.13 283.42v3.8M147.75 283.42v3.8M148.37 283.42v3.8M148.99 283.42v3.8M150.66 283.42v3.8M152.52 283.42v3.8M153.14 283.42v3.8M153.76 283.42v3.8M154.38 283.42v3.8M155.00 283.42v3.8M157.17 283.42v3.8M157.79 283.42v3.8M167.84 283.42v3.8M183.27 283.42v3.8M192.13 283.42v3.8M192.75 283.42v3.8M193.99 283.42v3.8M194.61 283.42v3.8M195.23 283.42v3.8M202.79 283.42v3.8" stroke="#2a2a8a" stroke-width="0.45"/>
<path d="M130.89 287.76v3.8M139.77 287.76v3.8M143.92 287.76v3.8M190.72 287.76v3.8M193.68 287.76v3.8" stroke="#4aa0c8" stroke-width="0.55" opacity="0.85"/>
<path d="M148.29 287.76v3.8M148.91 287.76v3.8M149.53 287.76v3.8M150.15 287.76v3.8M152.43 287.76v3.8M153.05 287.76v3.8M154.29 287.76v3.8M167.24 287.76v3.8M167.86 287.76v3.8" stroke="#4aa0c8" stroke-width="0.45"/>
<rect x="124.4" y="166.3" width="81" height="125.1" fill="none" stroke="#b5b5b5" stroke-width="0.4"/>
<text x="123.3" y="224.65" font-size="2.5" text-anchor="end">0.0</text>
<text x="123.3" y="217.65" font-size="2.5" text-anchor="end">0.1</text>
<text x="123.3" y="210.65" font-size="2.5" text-anchor="end">0.2</text>
<text x="123.3" y="203.65" font-size="2.5" text-anchor="end">0.3</text>
<text x="123.3" y="196.65" font-size="2.5" text-anchor="end">0.4</text>
<text x="123.3" y="189.65" font-size="2.5" text-anchor="end">0.5</text>
<text x="123.3" y="182.65" font-size="2.5" text-anchor="end">0.6</text>
<text x="123.3" y="175.65" font-size="2.5" text-anchor="end">0.7</text>
<text x="123.3" y="168.65" font-size="2.5" text-anchor="end">0.8</text>
<text x="124.4" y="293.9" font-size="1.7" text-anchor="middle" fill="#444">0</text>
<text x="132.5" y="293.9" font-size="1.7" text-anchor="middle" fill="#444">2,500</text>
<text x="140.6" y="293.9" font-size="1.7" text-anchor="middle" fill="#444">5,000</text>
<text x="148.7" y="293.9" font-size="1.7" text-anchor="middle" fill="#444">7,500</text>
<text x="156.8" y="293.9" font-size="1.7" text-anchor="middle" fill="#444">10,000</text>
<text x="164.9" y="293.9" font-size="1.7" text-anchor="middle" fill="#444">12,500</text>
<text x="173" y="293.9" font-size="1.7" text-anchor="middle" fill="#444">15,000</text>
<text x="181.1" y="293.9" font-size="1.7" text-anchor="middle" fill="#444">17,500</text>
<text x="189.2" y="293.9" font-size="1.7" text-anchor="middle" fill="#444">20,000</text>
<text x="197.3" y="293.9" font-size="1.7" text-anchor="middle" fill="#444">22,500</text>
<text x="205.4" y="293.9" font-size="1.7" text-anchor="middle" fill="#444">25,000</text>
<text x="164.6" y="297.9" font-size="2.1" text-anchor="middle" fill="#222" font-weight="bold" textLength="47" lengthAdjust="spacingAndGlyphs">Pre-ranked Position ---------------------- GENE Position</text>
<text x="113.8" y="196.3" font-size="3" text-anchor="middle" fill="#222" textLength="23.9" lengthAdjust="spacingAndGlyphs" transform="rotate(-90 113.8 196.3)">Enrichment Score</text>
<rect x="207.3" y="166.6" width="1.6" height="1.6" fill="#f5a623"/>
<text x="210.1" y="168.05" font-size="1.8" fill="#3a3a3a" textLength="8.6" lengthAdjust="spacingAndGlyphs">GO:0031620</text>
<rect x="207.3" y="171.33" width="1.6" height="1.6" fill="#7fd6f2"/>
<text x="210.1" y="172.78" font-size="1.8" fill="#3a3a3a" textLength="8.6" lengthAdjust="spacingAndGlyphs">GO:0064787</text>
<rect x="207.3" y="176.06" width="1.6" height="1.6" fill="#f04545"/>
<text x="210.1" y="177.51" font-size="1.8" fill="#3a3a3a" textLength="8.6" lengthAdjust="spacingAndGlyphs">GO:0064792</text>
<rect x="207.3" y="180.79" width="1.6" height="1.6" fill="#2db56c"/>
<text x="210.1" y="182.24" font-size="1.8" fill="#3a3a3a" textLength="8.6" lengthAdjust="spacingAndGlyphs">GO:0093230</text>
<rect x="207.3" y="185.52" width="1.6" height="1.6" fill="#f0dc30"/>
<text x="210.1" y="186.97" font-size="1.8" fill="#3a3a3a" textLength="8.6" lengthAdjust="spacingAndGlyphs">GO:0046864</text>
<rect x="207.3" y="190.25" width="1.6" height="1.6" fill="#a23aa0"/>
<text x="210.1" y="191.7" font-size="1.8" fill="#3a3a3a" textLength="8.6" lengthAdjust="spacingAndGlyphs">GO:0072796</text>
<rect x="207.3" y="194.98" width="1.6" height="1.6" fill="#3de0c0"/>
<text x="210.1" y="196.43" font-size="1.8" fill="#3a3a3a" textLength="8.6" lengthAdjust="spacingAndGlyphs">GO:0038313</text>
<rect x="207.3" y="199.71" width="1.6" height="1.6" fill="#f7804a"/>
<text x="210.1" y="201.16" font-size="1.8" fill="#3a3a3a" textLength="8.6" lengthAdjust="spacingAndGlyphs">GO:0072212</text>
<rect x="207.3" y="204.44" width="1.6" height="1.6" fill="#5a48d8"/>
<text x="210.1" y="205.89" font-size="1.8" fill="#3a3a3a" textLength="8.6" lengthAdjust="spacingAndGlyphs">GO:0077168</text>
<rect x="207.3" y="209.17" width="1.6" height="1.6" fill="#c0bcf0"/>
<text x="210.1" y="210.62" font-size="1.8" fill="#3a3a3a" textLength="8.6" lengthAdjust="spacingAndGlyphs">GO:0034062</text>
<rect x="207.3" y="213.9" width="1.6" height="1.6" fill="#c07ef2"/>
<text x="210.1" y="215.35" font-size="1.8" fill="#3a3a3a" textLength="8.6" lengthAdjust="spacingAndGlyphs">GO:0076202</text>
<rect x="207.3" y="218.63" width="1.6" height="1.6" fill="#f5b0b0"/>
<text x="210.1" y="220.08" font-size="1.8" fill="#3a3a3a" textLength="8.6" lengthAdjust="spacingAndGlyphs">GO:0079146</text>
<rect x="207.3" y="223.36" width="1.6" height="1.6" fill="#eab888"/>
<text x="210.1" y="224.81" font-size="1.8" fill="#3a3a3a" textLength="8.6" lengthAdjust="spacingAndGlyphs">GO:0040940</text>
<rect x="223.7" y="166.6" width="1.6" height="1.6" fill="#26268a"/>
<text x="226.4" y="168.05" font-size="1.8" fill="#3a3a3a" textLength="7.9" lengthAdjust="spacingAndGlyphs">GO:0010416</text>
<rect x="223.7" y="171.33" width="1.6" height="1.6" fill="#4aa0c8"/>
<text x="226.4" y="172.78" font-size="1.8" fill="#3a3a3a" textLength="7.9" lengthAdjust="spacingAndGlyphs">GO:0011850</text>
<text x="410.7" y="32.6" font-size="3.3" text-anchor="middle" fill="#222" font-weight="bold" textLength="9.4" lengthAdjust="spacingAndGlyphs">GSEA</text>
<rect x="366.6" y="36" width="88.4" height="140.9" fill="#fff"/>
<line x1="375.44" y1="36" x2="375.44" y2="103.2" stroke="#ededed" stroke-width="0.3"/>
<line x1="384.28" y1="36" x2="384.28" y2="103.2" stroke="#ededed" stroke-width="0.3"/>
<line x1="393.12" y1="36" x2="393.12" y2="103.2" stroke="#ededed" stroke-width="0.3"/>
<line x1="401.96" y1="36" x2="401.96" y2="103.2" stroke="#ededed" stroke-width="0.3"/>
<line x1="410.8" y1="36" x2="410.8" y2="103.2" stroke="#ededed" stroke-width="0.3"/>
<line x1="419.64" y1="36" x2="419.64" y2="103.2" stroke="#ededed" stroke-width="0.3"/>
<line x1="428.48" y1="36" x2="428.48" y2="103.2" stroke="#ededed" stroke-width="0.3"/>
<line x1="437.32" y1="36" x2="437.32" y2="103.2" stroke="#ededed" stroke-width="0.3"/>
<line x1="446.16" y1="36" x2="446.16" y2="103.2" stroke="#ededed" stroke-width="0.3"/>
<line x1="366.6" y1="101.56" x2="455" y2="101.56" stroke="#ededed" stroke-width="0.3"/>
<line x1="366.6" y1="94.13" x2="455" y2="94.13" stroke="#ededed" stroke-width="0.3"/>
<line x1="366.6" y1="86.7" x2="455" y2="86.7" stroke="#ededed" stroke-width="0.3"/>
<line x1="366.6" y1="79.27" x2="455" y2="79.27" stroke="#ededed" stroke-width="0.3"/>
<line x1="366.6" y1="71.84" x2="455" y2="71.84" stroke="#ededed" stroke-width="0.3"/>
<line x1="366.6" y1="64.41" x2="455" y2="64.41" stroke="#ededed" stroke-width="0.3"/>
<line x1="366.6" y1="56.98" x2="455" y2="56.98" stroke="#ededed" stroke-width="0.3"/>
<line x1="366.6" y1="49.55" x2="455" y2="49.55" stroke="#ededed" stroke-width="0.3"/>
<line x1="366.6" y1="42.12" x2="455" y2="42.12" stroke="#ededed" stroke-width="0.3"/>
<rect x="366.6" y="86.7" width="88.4" height="16.5" fill="#f1f1f1"/>
<line x1="375.44" y1="86.7" x2="375.44" y2="103.2" stroke="#e4e4e4" stroke-width="0.3"/>
<line x1="384.28" y1="86.7" x2="384.28" y2="103.2" stroke="#e4e4e4" stroke-width="0.3"/>
<line x1="393.12" y1="86.7" x2="393.12" y2="103.2" stroke="#e4e4e4" stroke-width="0.3"/>
<line x1="401.96" y1="86.7" x2="401.96" y2="103.2" stroke="#e4e4e4" stroke-width="0.3"/>
<line x1="410.8" y1="86.7" x2="410.8" y2="103.2" stroke="#e4e4e4" stroke-width="0.3"/>
<line x1="419.64" y1="86.7" x2="419.64" y2="103.2" stroke="#e4e4e4" stroke-width="0.3"/>
<line x1="428.48" y1="86.7" x2="428.48" y2="103.2" stroke="#e4e4e4" stroke-width="0.3"/>
<line x1="437.32" y1="86.7" x2="437.32" y2="103.2" stroke="#e4e4e4" stroke-width="0.3"/>
<line x1="446.16" y1="86.7" x2="446.16" y2="103.2" stroke="#e4e4e4" stroke-width="0.3"/>
<line x1="366.6" y1="101.56" x2="455" y2="101.56" stroke="#e4e4e4" stroke-width="0.3"/>
<line x1="366.6" y1="94.13" x2="455" y2="94.13" stroke="#e4e4e4" stroke-width="0.3"/>
<path d="M366.6 86.7 L368.37 64.79 L370.14 57.24 L371.9 49.73 L373.23 48.82 L374.56 48.81 L375.88 48.24 L377.21 48.42 L378.45 48.8 L379.7 49.24 L380.94 50.27 L382.18 50.64 L383.43 51.44 L384.67 52.64 L385.92 53.71 L387.16 53.78 L388.41 55.08 L389.65 55.93 L390.89 56.03 L392.14 56.67 L393.38 57.42 L394.63 58.06 L395.87 59.47 L397.11 60.33 L398.36 61.03 L399.6 61.01 L400.85 62.53 L402.09 63.23 L403.34 64.09 L404.58 64.81 L405.82 65.56 L407.07 66.03 L408.31 66.94 L409.56 67.55 L410.8 67.74 L412.03 69.12 L413.26 69.25 L414.48 70.02 L415.71 70.87 L416.94 71.57 L418.17 72.09 L419.39 72.96 L420.62 73.98 L421.85 74.59 L423.08 75.37 L424.31 75.93 L425.53 76.11 L426.76 77.31 L427.99 78.33 L429.22 78.67 L430.44 79.07 L431.67 80.1 L432.9 80.58 L434.11 81.46 L435.31 81.82 L436.52 81.62 L437.72 82.51 L438.93 82.62 L440.13 82.89 L441.34 83.39 L442.54 83.87 L443.75 84.24 L444.95 83.73 L446.16 84.47 L447.42 84.62 L448.69 84.71 L449.95 85.43 L451.21 85.34 L452.47 85.74 L453.74 86.28 L455 86.7" stroke="#f5a623" stroke-width="0.55" fill="none" stroke-linejoin="round"/>
<path d="M366.6 86.7 L368.37 73.68 L370.14 60.69 L371.55 57.22 L372.96 53.38 L374.38 49.35 L375.79 46.11 L377.21 41.81 L378.98 42.48 L380.74 42.77 L381.98 43.45 L383.21 44.48 L384.44 45.81 L385.67 46.59 L386.9 47.69 L388.13 48.54 L389.36 48.59 L390.59 49.79 L391.83 50.33 L393.06 51.37 L394.29 52.66 L395.52 52.95 L396.75 53.87 L397.98 55.16 L399.21 56.37 L400.44 57.04 L401.68 58.05 L402.91 58.75 L404.14 59.87 L405.37 60.19 L406.6 60.82 L407.83 62.39 L409.06 62.75 L410.29 63.8 L411.53 64.77 L412.76 65.27 L413.99 66.62 L415.22 67.1 L416.49 68.77 L417.76 68.92 L419.03 70.59 L420.3 71.73 L421.57 71.92 L422.84 73.04 L424.12 74.05 L425.39 74.95 L426.66 76.27 L427.93 77.48 L429.2 78.27 L430.47 78.68 L431.74 79.63 L433.01 81.28 L434.28 82.06 L435.55 83.03 L436.79 83.14 L438.03 84.47 L439.26 84.25 L440.5 85.29 L441.74 85.54 L442.98 86.44 L444.22 87 L445.45 86.8 L446.69 87.66 L447.93 88.19 L449.34 87.47 L450.76 87.27 L452.17 87.07 L453.59 87.38 L455 86.7" stroke="#7fd6f2" stroke-width="0.55" fill="none" stroke-linejoin="round"/>
<path d="M366.6 86.7 L368.37 71.76 L369.69 65.83 L371.02 60.69 L372.49 56.13 L373.97 51.07 L375.44 45.4 L376.91 45.66 L378.39 46.56 L379.86 46.74 L381.07 47.26 L382.27 48.33 L383.48 49.49 L384.68 49.66 L385.89 50.86 L387.09 51.97 L388.3 53.15 L389.5 53.59 L390.71 54.26 L391.91 55.65 L393.12 56.61 L394.33 56.92 L395.53 57.62 L396.74 58.98 L397.94 59.77 L399.15 60.51 L400.35 61.49 L401.56 62.71 L402.76 63.46 L403.97 64.4 L405.17 65.29 L406.38 66.26 L407.59 66.87 L408.79 67.9 L410 68.22 L411.2 69.57 L412.41 69.87 L413.61 70.89 L414.82 72.25 L416.02 73.23 L417.23 73.73 L418.43 74.7 L419.64 75.52 L420.87 76.39 L422.1 76.52 L423.32 76.81 L424.55 77.59 L425.78 78.25 L427.01 78.15 L428.23 79.2 L429.46 79.08 L430.69 79.84 L431.92 80.95 L433.15 81.05 L434.37 81.81 L435.6 81.74 L436.83 82.56 L438.06 83.35 L439.28 83.08 L440.51 83.71 L441.74 84.47 L442.95 84.58 L444.15 84.82 L445.36 85.46 L446.56 84.85 L447.77 85.66 L448.97 85.67 L450.18 85.9 L451.38 86.12 L452.59 86.72 L453.79 86.15 L455 86.7" stroke="#f04545" stroke-width="0.55" fill="none" stroke-linejoin="round"/>
<path d="M366.6 86.7 L367.48 60.7 L369.25 37.01 L370.51 37.34 L371.78 38.08 L373.04 38.95 L374.3 39.53 L375.57 40.77 L376.83 41.73 L378.09 42.26 L379.31 42.95 L380.54 43.7 L381.76 44.66 L382.98 45.68 L384.2 46.62 L385.42 47.48 L386.65 48.48 L387.87 49.89 L389.09 50.34 L390.31 51.5 L391.53 52.6 L392.76 53.03 L393.98 53.75 L395.2 55.16 L396.42 55.74 L397.64 56.69 L398.87 57.56 L400.09 58.31 L401.31 59.38 L402.53 60.85 L403.75 61.29 L404.98 62.45 L406.2 63.3 L407.42 63.99 L408.64 65.36 L409.86 65.87 L411.09 66.51 L412.31 68.2 L413.53 68.42 L414.75 69.47 L415.97 70.66 L417.2 71.25 L418.42 72.78 L419.64 73.63 L421.41 72.14 L423.18 71.73 L424.39 72.6 L425.61 73.1 L426.82 73.28 L428.04 73.66 L429.25 73.73 L430.47 74.91 L431.68 74.97 L432.9 75.61 L434.12 75.97 L435.33 76.09 L436.55 77.29 L437.76 77.11 L438.98 77.67 L440.19 78.55 L441.41 79.14 L442.62 79.05 L443.95 79.82 L445.28 81.14 L446.6 82.19 L447.93 82.69 L449.25 83.45 L450.58 84.47 L452.05 85.34 L453.53 86.04 L455 86.7" stroke="#2db56c" stroke-width="0.55" fill="none" stroke-linejoin="round"/>
<path d="M366.6 86.7 L367.93 75.91 L369.25 64.73 L370.58 60.01 L371.9 54.89 L373.23 50.82 L374.56 46.1 L376.32 45.87 L378.09 46.09 L379.33 46.93 L380.57 47.36 L381.8 48.67 L383.04 49.25 L384.28 50.54 L385.52 51.02 L386.76 51.73 L387.99 52.82 L389.23 53.91 L390.47 54.92 L391.71 55.57 L392.94 56.32 L394.18 57.46 L395.42 58.04 L396.66 58.83 L397.89 60.09 L399.13 60.42 L400.37 61.03 L401.61 62.12 L402.84 63.22 L404.08 63.74 L405.32 64.51 L406.56 65.37 L407.79 66.24 L409.03 67.27 L410.27 67.98 L411.51 69.01 L412.74 70.26 L413.98 71.3 L415.22 71.85 L416.49 72.31 L417.76 73.35 L419.03 73.92 L420.3 74.81 L421.57 75.5 L422.84 75.96 L424.12 76.08 L425.39 77.43 L426.66 78 L427.93 78.43 L429.2 78.57 L430.47 79.89 L431.74 80.7 L433.01 81.34 L434.28 81.73 L435.55 82.68 L436.76 82.63 L437.96 83.71 L439.17 84.14 L440.37 84.78 L441.58 85.15 L442.78 85.85 L443.99 86.32 L445.2 86.84 L446.4 87.34 L447.61 87.53 L448.81 88.19 L450.05 88 L451.29 87.85 L452.52 87.73 L453.76 86.67 L455 86.7" stroke="#f0dc30" stroke-width="0.55" fill="none" stroke-linejoin="round"/>
<path d="M366.6 86.7 L368.37 71.52 L370.14 62.15 L371.9 53.08 L373.23 52.95 L374.56 52.68 L375.88 52.42 L377.21 51.83 L378.43 52.67 L379.66 53.02 L380.89 54.49 L382.11 54.86 L383.34 55.65 L384.57 56.53 L385.79 57.38 L387.02 58.71 L388.24 59.43 L389.47 59.91 L390.7 60.65 L391.92 61.15 L393.15 62.12 L394.37 63.44 L395.6 64.32 L396.83 64.57 L398.05 66.07 L399.28 66.08 L400.51 67.63 L401.73 67.99 L402.96 68.58 L404.18 70.08 L405.41 70.88 L406.64 71.22 L407.86 71.96 L409.09 73.4 L410.32 73.81 L411.54 74.33 L412.77 75.17 L413.99 76.32 L415.22 77.48 L416.49 77.68 L417.76 78.49 L419.03 79.34 L420.3 79.93 L421.57 80.68 L422.84 81.52 L424.12 82.2 L425.39 82.93 L426.66 83.49 L427.93 84.21 L429.2 85.64 L430.47 85.7 L431.74 86.93 L433.01 87.51 L434.28 88.44 L435.55 89.1 L436.88 89.21 L438.2 89.34 L439.53 89.84 L440.86 89.86 L442.18 89.9 L443.51 90.15 L444.83 90.2 L446.16 90.42 L447.42 90.27 L448.69 89.3 L449.95 88.46 L451.21 88.08 L452.47 87.71 L453.74 86.96 L455 86.7" stroke="#a23aa0" stroke-width="0.55" fill="none" stroke-linejoin="round"/>
<path d="M366.6 86.7 L368.37 57.09 L370.14 52.81 L371.9 47.96 L373.23 48.66 L374.56 49.01 L375.88 48.94 L377.21 49.54 L378.43 50.61 L379.66 51.34 L380.89 51.64 L382.11 52.48 L383.34 53.03 L384.57 53.94 L385.79 55.11 L387.02 55.51 L388.24 56.11 L389.47 56.88 L390.7 57.62 L391.92 59.07 L393.15 59.74 L394.37 60.58 L395.6 60.77 L396.83 61.65 L398.05 62.54 L399.28 63.63 L400.51 64.2 L401.73 64.72 L402.96 66.07 L404.18 66.07 L405.41 67.01 L406.64 67.61 L407.86 68.32 L409.09 69.48 L410.32 70.44 L411.54 71.13 L412.77 71.8 L413.99 72.47 L415.22 73.53 L416.45 74.17 L417.68 74.64 L418.9 75.09 L420.13 76.4 L421.36 76.27 L422.59 77.16 L423.81 77.95 L425.04 78.56 L426.27 78.98 L427.5 79.99 L428.73 80.75 L429.95 81.62 L431.18 82.06 L432.41 82.96 L433.64 83.45 L434.86 83.77 L436.09 84.68 L437.32 84.85 L438.65 85.8 L439.97 86.03 L441.3 87.15 L442.62 87.02 L443.95 87.69 L445.28 88.2 L446.6 88.84 L447.93 89.67 L449.34 89.06 L450.76 88.79 L452.17 87.58 L453.59 86.89 L455 86.7" stroke="#3de0c0" stroke-width="0.55" fill="none" stroke-linejoin="round"/>
<path d="M366.6 86.7 L368.37 68.16 L369.84 63.68 L371.31 59.59 L372.79 55.25 L374.26 54.63 L375.73 54.37 L377.21 54.32 L378.44 54.78 L379.67 55.41 L380.9 56.41 L382.14 56.71 L383.37 57.76 L384.6 58.7 L385.83 59.18 L387.07 59.56 L388.3 60.37 L389.53 61.37 L390.76 62.01 L391.99 62.49 L393.23 63.06 L394.46 64.44 L395.69 65.09 L396.92 65.61 L398.16 66.51 L399.39 67.26 L400.62 67.87 L401.85 68.74 L403.09 69.55 L404.32 69.92 L405.55 70.64 L406.78 71.2 L408.01 71.64 L409.25 72.35 L410.48 73.48 L411.71 74.38 L412.94 74.8 L414.18 75.67 L415.41 76.26 L416.64 76.68 L417.87 77.55 L419.09 77.91 L420.3 78.62 L421.52 79.22 L422.73 79.57 L423.95 80.36 L425.17 80.91 L426.38 81.53 L427.6 81.82 L428.81 82.77 L430.03 83.45 L431.24 83.81 L432.46 84.75 L433.67 84.77 L434.89 85.57 L436.1 86.27 L437.32 86.54 L438.6 86.76 L439.87 87.1 L441.15 87.61 L442.43 87.67 L443.7 88.37 L444.98 88.27 L446.26 88.86 L447.54 88.6 L448.81 88.93 L450.05 88.86 L451.29 88.28 L452.52 87.34 L453.76 86.96 L455 86.7" stroke="#f7804a" stroke-width="0.55" fill="none" stroke-linejoin="round"/>
<path d="M366.6 86.7 L367.93 75.8 L369.25 64.83 L370.58 60.16 L371.9 56.79 L373.23 53.29 L374.56 49.03 L375.88 44.93 L377.21 41.29 L378.62 42.01 L380.04 42.26 L381.45 42.83 L382.87 42.76 L384.28 43.34 L385.51 44.78 L386.73 45.33 L387.96 46.07 L389.18 47.51 L390.41 48.48 L391.64 49.01 L392.86 49.86 L394.09 50.96 L395.32 51.77 L396.54 52.63 L397.77 53.45 L398.99 54.89 L400.22 55.59 L401.45 56.67 L402.67 57.52 L403.9 57.81 L405.13 58.98 L406.35 59.7 L407.58 61 L408.8 62.08 L410.03 63.1 L411.26 63.4 L412.48 64.23 L413.71 65.26 L414.93 66.62 L416.16 67.05 L417.39 67.85 L418.61 69.28 L419.84 70.02 L421.07 70.5 L422.29 72.11 L423.55 72.77 L424.82 73.72 L426.08 74.96 L427.34 75.71 L428.61 77.15 L429.87 78.51 L431.13 79.39 L432.46 75.35 L433.78 71.09 L435.26 72.2 L436.73 72.78 L438.2 73.96 L439.53 75.1 L440.86 76.58 L442.18 78.35 L443.51 79.56 L444.83 80.9 L446.16 81.68 L447.49 83.29 L448.81 84.47 L450.05 84.63 L451.29 85.01 L452.52 85.49 L453.76 86.11 L455 86.7" stroke="#5a48d8" stroke-width="0.55" fill="none" stroke-linejoin="round"/>
<path d="M366.6 86.7 L367.93 79.5 L369.25 72.21 L370.73 66.89 L372.2 61.67 L373.67 56.64 L375.15 56.86 L376.62 56.39 L378.09 55.57 L379.3 56.16 L380.5 57.18 L381.71 57.62 L382.91 58.33 L384.12 59.03 L385.32 59.71 L386.53 61.14 L387.74 61.22 L388.94 62.77 L390.15 63.05 L391.35 63.67 L392.56 65.02 L393.76 65.65 L394.97 66.05 L396.17 67.04 L397.38 68.09 L398.58 68.91 L399.79 69.18 L401 70.36 L402.2 71.12 L403.41 71.78 L404.61 72.3 L405.82 73.47 L407.02 74.02 L408.23 74.82 L409.43 75.62 L410.64 75.94 L411.84 76.96 L413.05 77.44 L414.26 78.07 L415.46 78.83 L416.67 80.22 L417.87 80.6 L419.09 81.68 L420.3 82.38 L421.52 82.45 L422.73 83.14 L423.95 84.07 L425.17 84.56 L426.38 84.79 L427.6 85.49 L428.81 86.54 L430.03 86.47 L431.24 87.83 L432.46 88.09 L433.67 88.51 L434.89 89.44 L436.1 90.12 L437.32 90.4 L438.6 90.3 L439.87 91.21 L441.15 91.51 L442.43 91.58 L443.7 91.24 L444.98 92.31 L446.26 92.06 L447.54 92.26 L448.81 92.64 L450.05 91.06 L451.29 90.59 L452.52 88.85 L453.76 87.95 L455 86.7" stroke="#c0bcf0" stroke-width="0.55" fill="none" stroke-linejoin="round"/>
<path d="M366.6 86.7 L368.37 71.49 L369.61 67.59 L370.84 64.01 L372.08 60.14 L373.32 56.73 L374.56 52.69 L376.03 52.16 L377.5 52.4 L378.98 52.74 L380.21 53.61 L381.44 53.86 L382.67 54.69 L383.9 55.64 L385.14 56.29 L386.37 57.65 L387.6 58.21 L388.83 58.68 L390.07 59.62 L391.3 60.73 L392.53 61.54 L393.76 61.92 L395 62.89 L396.23 64.15 L397.46 64.82 L398.69 65.72 L399.92 66.43 L401.16 67.15 L402.39 68.35 L403.62 69.17 L404.85 69.33 L406.09 70.41 L407.32 71.6 L408.55 72.01 L409.78 72.66 L411.01 73.74 L412.25 74.67 L413.48 74.89 L414.71 75.75 L415.94 76.83 L417.18 77.5 L418.41 78.31 L419.64 79.21 L420.9 80.05 L422.17 80.65 L423.43 81.42 L424.69 81.95 L425.95 82.83 L427.22 82.83 L428.48 83.91 L429.74 84.79 L431.01 85.27 L432.27 85.36 L433.53 86.2 L434.79 87.18 L436.06 87.95 L437.32 88.28 L438.56 88.43 L439.8 88.69 L441.03 89.41 L442.27 89.14 L443.51 89.37 L444.75 89.93 L445.98 89.85 L447.22 90.8 L448.46 91.09 L449.7 91.16 L451.02 90.31 L452.35 88.58 L453.67 87.5 L455 86.7" stroke="#c07ef2" stroke-width="0.55" fill="none" stroke-linejoin="round"/>
<path d="M366.6 86.7 L367.93 79.53 L369.25 71.64 L370.73 67.52 L372.2 62.65 L373.67 58.65 L375 57.99 L376.32 57.62 L377.65 57.26 L378.98 56.66 L380.21 57.65 L381.44 58.75 L382.67 59.4 L383.9 60.25 L385.14 60.79 L386.37 61.64 L387.6 62.34 L388.83 63.27 L390.07 63.6 L391.3 64.68 L392.53 65.43 L393.76 66.21 L395 66.93 L396.23 67.83 L397.46 68.49 L398.69 69.66 L399.92 69.99 L401.16 71.01 L402.39 71.62 L403.62 72.64 L404.85 73.43 L406.09 73.94 L407.32 74.48 L408.55 75.8 L409.78 75.75 L411.01 77.15 L412.25 77.82 L413.48 78.63 L414.71 78.78 L415.94 79.62 L417.18 80.3 L418.41 81.26 L419.64 82 L420.86 83.06 L422.07 83.37 L423.29 83.28 L424.5 84.15 L425.72 84.87 L426.93 85.12 L428.15 85.52 L429.36 85.8 L430.58 86.26 L431.8 86.89 L433.01 87.59 L434.23 87.74 L435.44 88.13 L436.66 88.86 L437.87 88.77 L439.09 89.71 L440.36 90.53 L441.64 90.77 L442.92 91.14 L444.2 91.8 L445.47 91.9 L446.75 92.45 L448.03 93.19 L449.3 93.43 L450.58 94.13 L452.05 91.39 L453.53 89.42 L455 86.7" stroke="#f5b0b0" stroke-width="0.55" fill="none" stroke-linejoin="round"/>
<path d="M366.6 86.7 L367.93 80.68 L369.25 76 L371.02 68.83 L372.79 62.7 L374.11 61.9 L375.44 61.88 L376.77 60.39 L378.09 60.2 L379.33 60.93 L380.57 61.14 L381.8 62.27 L383.04 62.61 L384.28 63.62 L385.52 64.22 L386.76 65.22 L387.99 65.68 L389.23 66.74 L390.47 67.74 L391.71 68.58 L392.94 69.12 L394.18 70.16 L395.42 70.26 L396.66 71.08 L397.89 71.88 L399.13 72.76 L400.37 73.45 L401.61 74.43 L402.84 74.87 L404.08 76.42 L405.32 77.1 L406.56 77.63 L407.79 78.71 L409.03 79.55 L410.27 79.77 L411.51 80.44 L412.74 81.06 L413.98 82.02 L415.22 82.62 L416.45 83.63 L417.68 84.12 L418.9 84.37 L420.13 85.24 L421.36 85.63 L422.59 85.86 L423.81 86.08 L425.04 86.27 L426.27 87.11 L427.5 87.44 L428.73 88.26 L429.95 88.05 L431.18 88.69 L432.41 89.43 L433.64 90.23 L434.86 90.03 L436.09 90.81 L437.32 90.91 L438.61 91.21 L439.89 90.42 L441.18 90.46 L442.46 90.33 L443.75 90.22 L445.03 90.13 L446.32 89.87 L447.61 89.69 L448.89 89.29 L450.18 89.5 L451.46 88.93 L453.23 88.14 L455 86.7" stroke="#eab888" stroke-width="0.55" fill="none" stroke-linejoin="round"/>
<path d="M366.6 86.7 L368.37 67.85 L369.69 62.87 L371.02 57.42 L372.35 55.67 L373.67 55.35 L375 53.96 L376.32 53.43 L377.55 53.84 L378.77 55.57 L379.99 56.43 L381.21 57.06 L382.43 58.48 L383.66 59.3 L384.88 60.23 L386.1 60.85 L387.32 61.98 L388.54 63.12 L389.77 64.29 L390.99 65.45 L392.21 65.62 L393.43 67.16 L394.65 68.36 L395.88 69.07 L397.1 70.32 L398.32 71.06 L399.54 72.2 L400.76 72.82 L401.99 73.91 L403.21 74.49 L404.43 75.49 L405.65 77.04 L406.87 77.77 L408.1 79.16 L409.32 79.38 L410.54 80.48 L411.76 81.84 L412.98 82.56 L414.21 84.01 L415.43 85.17 L416.65 86.14 L417.87 86.86 L419.12 87.44 L420.38 88.41 L421.63 89.17 L422.88 89.49 L424.13 90.66 L425.39 91.34 L426.64 92.05 L427.89 93.06 L429.14 93 L430.4 94 L431.65 95.27 L432.9 96.03 L434.11 96.39 L435.31 97.02 L436.52 97.46 L437.72 97.56 L438.93 98 L440.13 98.62 L441.34 99.83 L442.54 99.74 L443.75 100.31 L444.95 100.93 L446.16 101.84 L447.4 101.17 L448.64 101.3 L449.87 100.65 L451.11 100.09 L452.35 99.86 L453.23 90.42 L455 86.7" stroke="#26268a" stroke-width="0.55" fill="none" stroke-linejoin="round"/>
<path d="M366.6 86.7 L367.93 82.68 L369.25 78.89 L370.73 74.99 L372.2 70.6 L373.67 66.03 L374.91 64.82 L376.15 64.33 L377.38 63.56 L378.62 62.22 L379.86 61.18 L381.1 62.45 L382.34 62.57 L383.57 63.36 L384.81 63.93 L386.05 64.25 L387.27 64.95 L388.49 66.18 L389.71 67.15 L390.93 67.94 L392.14 68.1 L393.36 69.63 L394.58 70.11 L395.8 71.08 L397.02 71.54 L398.24 72.7 L399.46 73.19 L400.68 73.82 L401.9 75.41 L403.12 75.82 L404.34 76.35 L405.56 77.24 L406.78 78.02 L408 79.01 L409.21 79.96 L410.43 81 L411.65 81.58 L412.87 82.81 L414.09 83.2 L415.31 84.11 L416.53 84.54 L417.75 85.33 L418.97 86.6 L420.19 87.48 L421.41 87.86 L422.68 88.72 L423.95 89.04 L425.22 89.86 L426.49 89.75 L427.76 90.38 L429.03 91.01 L430.3 91.88 L431.57 92 L432.84 92.05 L434.12 92.55 L435.39 92.87 L436.66 93.96 L437.93 94.25 L439.2 94.95 L440.47 94.93 L441.74 95.7 L442.96 95.46 L444.17 94.51 L445.39 94.22 L446.6 93.1 L447.82 92.6 L449.03 92.68 L450.25 91.68 L451.46 91.16 L453.23 88.89 L455 86.7" stroke="#4aa0c8" stroke-width="0.55" fill="none" stroke-linejoin="round"/>
<line x1="366.6" y1="86.7" x2="455" y2="86.7" stroke="#9a9a9a" stroke-width="0.4"/>
<rect x="366.6" y="103.2" width="88.4" height="1" fill="#dcdcdc"/>
<path d="M438.45 104.35v4.3M444.28 104.35v4.3M453.99 104.35v4.3" stroke="#f5b04a" stroke-width="0.55" opacity="0.85"/>
<path d="M367.07 104.35v4.3M367.69 104.35v4.3M368.31 104.35v4.3M368.93 104.35v4.3M370.17 104.35v4.3M370.79 104.35v4.3M371.41 104.35v4.3M372.03 104.35v4.3M372.65 104.35v4.3M374.51 104.35v4.3M375.13 104.35v4.3M375.75 104.35v4.3M376.37 104.35v4.3M376.99 104.35v4.3M377.61 104.35v4.3M378.23 104.35v4.3M380.09 104.35v4.3M384.94 104.35v4.3M386.18 104.35v4.3M386.80 104.35v4.3M387.42 104.35v4.3M388.04 104.35v4.3M388.66 104.35v4.3M389.28 104.35v4.3M389.90 104.35v4.3M391.14 104.35v4.3M391.76 104.35v4.3M392.38 104.35v4.3M393.00 104.35v4.3M393.62 104.35v4.3M394.24 104.35v4.3M394.86 104.35v4.3M395.48 104.35v4.3M396.72 104.35v4.3M397.34 104.35v4.3M397.96 104.35v4.3M399.82 104.35v4.3M400.44 104.35v4.3M401.06 104.35v4.3M401.68 104.35v4.3M403.69 104.35v4.3M404.31 104.35v4.3M405.55 104.35v4.3M406.79 104.35v4.3M414.04 104.35v4.3M414.66 104.35v4.3M415.28 104.35v4.3M421.19 104.35v4.3M421.81 104.35v4.3M423.05 104.35v4.3M424.29 104.35v4.3M426.37 104.35v4.3M426.99 104.35v4.3M428.23 104.35v4.3M428.85 104.35v4.3M431.95 104.35v4.3M433.81 104.35v4.3" stroke="#f5b04a" stroke-width="0.45"/>
<path d="M384.72 109.18v4.3M408.67 109.18v4.3M437.16 109.18v4.3M453.99 109.18v4.3" stroke="#8fdcf5" stroke-width="0.55" opacity="0.85"/>
<path d="M367.07 109.18v4.3M368.93 109.18v4.3M369.55 109.18v4.3M370.79 109.18v4.3M372.03 109.18v4.3M372.65 109.18v4.3M373.89 109.18v4.3M374.51 109.18v4.3M375.13 109.18v4.3M376.37 109.18v4.3M377.61 109.18v4.3M389.47 109.18v4.3M390.09 109.18v4.3M390.71 109.18v4.3M391.33 109.18v4.3M393.19 109.18v4.3M393.81 109.18v4.3M396.56 109.18v4.3M397.18 109.18v4.3M398.42 109.18v4.3M399.04 109.18v4.3M401.12 109.18v4.3M401.74 109.18v4.3M402.36 109.18v4.3M402.98 109.18v4.3M403.60 109.18v4.3M413.40 109.18v4.3M414.02 109.18v4.3M414.64 109.18v4.3M415.26 109.18v4.3M416.50 109.18v4.3" stroke="#8fdcf5" stroke-width="0.45"/>
<path d="M406.08 114.01v4.3M436.51 114.01v4.3" stroke="#f05050" stroke-width="0.55" opacity="0.85"/>
<path d="M367.69 114.01v4.3M368.31 114.01v4.3M371.34 114.01v4.3M371.96 114.01v4.3M372.58 114.01v4.3M373.82 114.01v4.3M375.06 114.01v4.3M376.30 114.01v4.3M376.92 114.01v4.3M381.03 114.01v4.3M382.27 114.01v4.3M382.89 114.01v4.3M384.29 114.01v4.3M384.91 114.01v4.3M386.77 114.01v4.3M387.39 114.01v4.3M388.01 114.01v4.3M389.25 114.01v4.3M392.71 114.01v4.3M393.33 114.01v4.3M393.95 114.01v4.3M394.57 114.01v4.3M395.19 114.01v4.3M395.81 114.01v4.3M397.67 114.01v4.3M398.29 114.01v4.3M398.91 114.01v4.3M400.77 114.01v4.3M401.39 114.01v4.3M402.01 114.01v4.3M402.63 114.01v4.3M411.43 114.01v4.3M414.53 114.01v4.3M415.77 114.01v4.3M416.39 114.01v4.3M417.63 114.01v4.3M418.25 114.01v4.3M419.49 114.01v4.3M420.73 114.01v4.3M423.78 114.01v4.3M425.02 114.01v4.3M426.88 114.01v4.3M427.50 114.01v4.3M429.36 114.01v4.3M433.49 114.01v4.3M434.11 114.01v4.3M434.73 114.01v4.3M452.27 114.01v4.3M453.51 114.01v4.3M454.13 114.01v4.3" stroke="#f05050" stroke-width="0.45"/>
<path d="M369.18 118.84v4.3M398.31 118.84v4.3M401.55 118.84v4.3M423.56 118.84v4.3M427.45 118.84v4.3M450.11 118.84v4.3" stroke="#2fb572" stroke-width="0.55" opacity="0.85"/>
<path d="M367.07 118.84v4.3M390.68 118.84v4.3M394.65 118.84v4.3M395.27 118.84v4.3M419.25 118.84v4.3M420.49 118.84v4.3M421.11 118.84v4.3" stroke="#2fb572" stroke-width="0.45"/>
<path d="M371.77 123.67v4.3M381.48 123.67v4.3M385.36 123.67v4.3M398.31 123.67v4.3M402.20 123.67v4.3M408.02 123.67v4.3M433.27 123.67v4.3M434.57 123.67v4.3M446.87 123.67v4.3M452.05 123.67v4.3" stroke="#f2e436" stroke-width="0.55" opacity="0.85"/>
<path d="M367.07 123.67v4.3M367.69 123.67v4.3M368.31 123.67v4.3M393.35 123.67v4.3M393.97 123.67v4.3M394.59 123.67v4.3M395.21 123.67v4.3M418.55 123.67v4.3M419.17 123.67v4.3" stroke="#f2e436" stroke-width="0.45"/>
<path d="M371.77 128.50v4.3M377.60 128.50v4.3M380.83 128.50v4.3M390.54 128.50v4.3M394.43 128.50v4.3M397.02 128.50v4.3M421.62 128.50v4.3M436.51 128.50v4.3M445.57 128.50v4.3M449.46 128.50v4.3" stroke="#a83aa8" stroke-width="0.55" opacity="0.85"/>
<path d="M367.69 128.50v4.3M368.31 128.50v4.3M368.93 128.50v4.3M369.55 128.50v4.3M383.64 128.50v4.3M385.50 128.50v4.3M386.12 128.50v4.3M386.74 128.50v4.3M387.98 128.50v4.3M415.93 128.50v4.3M416.55 128.50v4.3M426.99 128.50v4.3M428.23 128.50v4.3M430.90 128.50v4.3M431.52 128.50v4.3M432.14 128.50v4.3" stroke="#a83aa8" stroke-width="0.45"/>
<path d="M417.09 133.33v4.3M436.51 133.33v4.3M445.57 133.33v4.3M450.75 133.33v4.3" stroke="#3de0c0" stroke-width="0.55" opacity="0.85"/>
<path d="M368.75 133.33v4.3M369.99 133.33v4.3M371.23 133.33v4.3M371.85 133.33v4.3M372.47 133.33v4.3M373.09 133.33v4.3M373.71 133.33v4.3M374.95 133.33v4.3M375.57 133.33v4.3M378.67 133.33v4.3M379.91 133.33v4.3M380.53 133.33v4.3M381.15 133.33v4.3M381.77 133.33v4.3M391.41 133.33v4.3M392.03 133.33v4.3M392.65 133.33v4.3M393.27 133.33v4.3M394.51 133.33v4.3M395.13 133.33v4.3M395.75 133.33v4.3M396.37 133.33v4.3M396.99 133.33v4.3M401.12 133.33v4.3M402.36 133.33v4.3M403.60 133.33v4.3M404.84 133.33v4.3M405.46 133.33v4.3M406.08 133.33v4.3M407.32 133.33v4.3M408.56 133.33v4.3M410.83 133.33v4.3M412.69 133.33v4.3M429.61 133.33v4.3M430.23 133.33v4.3M430.85 133.33v4.3" stroke="#3de0c0" stroke-width="0.45"/>
<path d="M367.07 138.16v4.3M367.69 138.16v4.3M368.31 138.16v4.3M368.93 138.16v4.3M369.55 138.16v4.3M373.23 138.16v4.3M373.85 138.16v4.3M374.47 138.16v4.3M375.09 138.16v4.3M375.71 138.16v4.3M376.33 138.16v4.3M376.95 138.16v4.3M378.19 138.16v4.3M378.81 138.16v4.3M379.43 138.16v4.3M380.05 138.16v4.3M380.67 138.16v4.3M381.29 138.16v4.3M386.10 138.16v4.3M388.17 138.16v4.3M388.79 138.16v4.3M389.41 138.16v4.3M390.03 138.16v4.3M390.65 138.16v4.3M391.27 138.16v4.3M391.89 138.16v4.3M393.13 138.16v4.3M393.75 138.16v4.3M395.61 138.16v4.3M396.23 138.16v4.3M396.85 138.16v4.3M397.47 138.16v4.3M398.71 138.16v4.3M414.07 138.16v4.3M414.69 138.16v4.3M415.31 138.16v4.3M415.93 138.16v4.3M419.87 138.16v4.3M422.97 138.16v4.3M424.83 138.16v4.3M429.58 138.16v4.3M430.20 138.16v4.3M430.82 138.16v4.3M435.41 138.16v4.3M437.27 138.16v4.3M437.89 138.16v4.3M441.26 138.16v4.3M442.50 138.16v4.3M443.12 138.16v4.3M443.74 138.16v4.3M444.98 138.16v4.3M445.60 138.16v4.3M449.32 138.16v4.3M449.94 138.16v4.3" stroke="#f7804a" stroke-width="0.45"/>
<path d="M371.12 142.99v4.3M373.71 142.99v4.3M376.30 142.99v4.3M383.42 142.99v4.3M412.56 142.99v4.3M420.97 142.99v4.3M437.16 142.99v4.3" stroke="#6048d8" stroke-width="0.55" opacity="0.85"/>
<path d="M367.69 142.99v4.3M368.31 142.99v4.3M433.49 142.99v4.3M434.11 142.99v4.3M434.73 142.99v4.3" stroke="#6048d8" stroke-width="0.45"/>
<path d="M408.67 147.82v4.3M429.39 147.82v4.3M446.87 147.82v4.3" stroke="#c8c4f0" stroke-width="0.55" opacity="0.85"/>
<path d="M368.72 147.82v4.3M369.96 147.82v4.3M371.20 147.82v4.3M371.82 147.82v4.3M372.44 147.82v4.3M376.16 147.82v4.3M376.78 147.82v4.3M378.64 147.82v4.3M393.33 147.82v4.3M393.95 147.82v4.3M394.57 147.82v4.3M395.19 147.82v4.3M401.77 147.82v4.3M403.01 147.82v4.3M403.63 147.82v4.3M423.67 147.82v4.3M436.08 147.82v4.3M437.32 147.82v4.3M437.94 147.82v4.3" stroke="#c8c4f0" stroke-width="0.45"/>
<path d="M382.13 152.65v4.3M398.31 152.65v4.3M401.55 152.65v4.3M408.02 152.65v4.3M416.44 152.65v4.3M420.97 152.65v4.3M424.86 152.65v4.3M429.39 152.65v4.3M431.33 152.65v4.3M436.51 152.65v4.3M439.10 152.65v4.3M446.87 152.65v4.3" stroke="#c080f5" stroke-width="0.55" opacity="0.85"/>
<path d="M368.75 152.65v4.3M369.37 152.65v4.3M369.99 152.65v4.3M371.23 152.65v4.3M371.85 152.65v4.3M375.57 152.65v4.3M378.67 152.65v4.3M392.71 152.65v4.3M393.95 152.65v4.3" stroke="#c080f5" stroke-width="0.45"/>
<path d="M405.43 157.48v4.3M408.67 157.48v4.3M415.15 157.48v4.3M436.51 157.48v4.3M442.98 157.48v4.3M446.87 157.48v4.3" stroke="#f5b8b8" stroke-width="0.55" opacity="0.85"/>
<path d="M368.72 157.48v4.3M372.44 157.48v4.3M373.68 157.48v4.3M374.30 157.48v4.3M376.78 157.48v4.3M382.97 157.48v4.3M383.59 157.48v4.3M386.07 157.48v4.3M387.31 157.48v4.3M389.79 157.48v4.3M395.21 157.48v4.3M397.07 157.48v4.3M397.69 157.48v4.3M398.93 157.48v4.3M400.17 157.48v4.3M421.84 157.48v4.3M426.18 157.48v4.3M426.80 157.48v4.3" stroke="#f5b8b8" stroke-width="0.45"/>
<path d="M408.02 162.31v4.3" stroke="#eac39a" stroke-width="0.55" opacity="0.85"/>
<path d="M367.07 162.31v4.3M367.69 162.31v4.3M368.31 162.31v4.3M368.93 162.31v4.3M369.55 162.31v4.3M370.17 162.31v4.3M370.79 162.31v4.3M371.41 162.31v4.3M372.03 162.31v4.3M372.65 162.31v4.3M373.27 162.31v4.3M373.89 162.31v4.3M374.51 162.31v4.3M375.13 162.31v4.3M375.75 162.31v4.3M376.37 162.31v4.3M378.23 162.31v4.3M382.86 162.31v4.3M384.10 162.31v4.3M384.72 162.31v4.3M385.96 162.31v4.3M386.58 162.31v4.3M387.20 162.31v4.3M388.82 162.31v4.3M389.44 162.31v4.3M391.30 162.31v4.3M392.54 162.31v4.3M393.16 162.31v4.3M394.40 162.31v4.3M396.26 162.31v4.3M396.88 162.31v4.3M397.50 162.31v4.3M398.74 162.31v4.3M399.36 162.31v4.3M399.98 162.31v4.3M400.60 162.31v4.3M414.66 162.31v4.3M416.52 162.31v4.3M417.76 162.31v4.3M419.00 162.31v4.3M420.24 162.31v4.3M420.86 162.31v4.3M421.48 162.31v4.3M422.10 162.31v4.3M423.34 162.31v4.3M424.58 162.31v4.3M430.26 162.31v4.3M432.12 162.31v4.3M433.98 162.31v4.3M434.60 162.31v4.3M435.22 162.31v4.3M435.84 162.31v4.3M436.46 162.31v4.3M437.70 162.31v4.3M438.32 162.31v4.3M439.56 162.31v4.3M440.18 162.31v4.3M440.80 162.31v4.3M441.42 162.31v4.3M442.04 162.31v4.3M442.66 162.31v4.3M443.28 162.31v4.3M443.90 162.31v4.3M444.52 162.31v4.3M445.14 162.31v4.3M445.76 162.31v4.3M447.00 162.31v4.3M447.62 162.31v4.3M448.24 162.31v4.3M448.86 162.31v4.3M449.48 162.31v4.3M450.10 162.31v4.3M450.72 162.31v4.3M451.34 162.31v4.3M453.20 162.31v4.3M453.82 162.31v4.3" stroke="#eac39a" stroke-width="0.45"/>
<path d="M375.65 167.14v4.3M378.24 167.14v4.3M399.61 167.14v4.3M409.32 167.14v4.3M411.91 167.14v4.3M420.97 167.14v4.3M426.15 167.14v4.3M431.33 167.14v4.3M441.69 167.14v4.3M445.57 167.14v4.3M448.81 167.14v4.3" stroke="#2a2a8a" stroke-width="0.55" opacity="0.85"/>
<path d="M367.07 167.14v4.3M367.69 167.14v4.3M368.31 167.14v4.3M370.05 167.14v4.3M370.67 167.14v4.3M372.53 167.14v4.3M373.15 167.14v4.3M386.23 167.14v4.3M386.85 167.14v4.3M388.09 167.14v4.3M388.71 167.14v4.3M389.33 167.14v4.3M389.95 167.14v4.3M392.65 167.14v4.3M393.27 167.14v4.3M393.89 167.14v4.3M394.51 167.14v4.3M404.98 167.14v4.3M405.60 167.14v4.3M406.22 167.14v4.3M417.23 167.14v4.3M417.85 167.14v4.3M437.38 167.14v4.3M438.00 167.14v4.3M438.62 167.14v4.3M439.24 167.14v4.3M453.54 167.14v4.3M454.16 167.14v4.3M454.78 167.14v4.3" stroke="#2a2a8a" stroke-width="0.45"/>
<path d="M367.07 171.97v4.3M367.69 171.97v4.3M368.31 171.97v4.3M368.93 171.97v4.3M369.55 171.97v4.3M370.17 171.97v4.3M370.79 171.97v4.3M371.41 171.97v4.3M372.03 171.97v4.3M372.65 171.97v4.3M373.27 171.97v4.3M373.89 171.97v4.3M374.51 171.97v4.3M375.13 171.97v4.3M375.75 171.97v4.3M376.37 171.97v4.3M376.99 171.97v4.3M377.61 171.97v4.3M378.23 171.97v4.3M378.85 171.97v4.3M379.47 171.97v4.3M380.09 171.97v4.3M380.71 171.97v4.3M381.33 171.97v4.3M381.95 171.97v4.3M382.57 171.97v4.3M383.19 171.97v4.3M383.81 171.97v4.3M384.43 171.97v4.3M385.05 171.97v4.3M385.67 171.97v4.3M386.29 171.97v4.3M386.91 171.97v4.3M387.53 171.97v4.3M388.15 171.97v4.3M388.77 171.97v4.3M389.39 171.97v4.3M390.01 171.97v4.3M390.63 171.97v4.3M391.25 171.97v4.3M391.87 171.97v4.3M392.49 171.97v4.3M393.11 171.97v4.3M393.73 171.97v4.3M394.35 171.97v4.3M394.97 171.97v4.3M395.59 171.97v4.3M396.21 171.97v4.3M396.83 171.97v4.3M397.45 171.97v4.3M398.07 171.97v4.3M398.69 171.97v4.3M399.31 171.97v4.3M399.93 171.97v4.3M400.55 171.97v4.3M401.17 171.97v4.3M401.79 171.97v4.3M402.41 171.97v4.3M403.03 171.97v4.3M403.65 171.97v4.3M404.27 171.97v4.3M404.89 171.97v4.3M405.51 171.97v4.3M406.13 171.97v4.3M406.75 171.97v4.3M407.37 171.97v4.3M407.99 171.97v4.3M408.61 171.97v4.3M409.23 171.97v4.3M409.85 171.97v4.3M410.47 171.97v4.3M411.09 171.97v4.3M411.71 171.97v4.3M412.33 171.97v4.3M412.95 171.97v4.3M413.57 171.97v4.3M414.19 171.97v4.3M414.81 171.97v4.3M415.43 171.97v4.3M416.05 171.97v4.3M416.67 171.97v4.3M417.29 171.97v4.3M417.91 171.97v4.3M418.53 171.97v4.3M419.15 171.97v4.3M419.77 171.97v4.3M420.39 171.97v4.3M421.01 171.97v4.3M421.63 171.97v4.3M422.25 171.97v4.3M422.87 171.97v4.3M423.49 171.97v4.3M424.11 171.97v4.3M424.73 171.97v4.3M425.35 171.97v4.3M425.97 171.97v4.3M426.59 171.97v4.3M427.21 171.97v4.3M427.83 171.97v4.3M428.45 171.97v4.3M429.07 171.97v4.3M429.69 171.97v4.3M430.31 171.97v4.3M430.93 171.97v4.3M431.55 171.97v4.3M432.17 171.97v4.3M432.79 171.97v4.3M433.41 171.97v4.3M434.03 171.97v4.3M434.65 171.97v4.3M435.27 171.97v4.3M435.89 171.97v4.3M436.51 171.97v4.3M437.13 171.97v4.3M437.75 171.97v4.3M438.37 171.97v4.3M438.99 171.97v4.3M439.61 171.97v4.3M440.23 171.97v4.3M440.85 171.97v4.3M441.47 171.97v4.3M442.09 171.97v4.3M442.71 171.97v4.3M443.33 171.97v4.3M443.95 171.97v4.3M444.57 171.97v4.3M445.19 171.97v4.3M445.81 171.97v4.3M446.43 171.97v4.3M447.05 171.97v4.3M447.67 171.97v4.3M448.29 171.97v4.3M448.91 171.97v4.3M449.53 171.97v4.3M450.15 171.97v4.3M450.77 171.97v4.3M451.39 171.97v4.3M452.01 171.97v4.3M452.63 171.97v4.3M453.25 171.97v4.3M453.87 171.97v4.3M454.49 171.97v4.3" stroke="#4aa0c8" stroke-width="0.45"/>
<rect x="366.6" y="36" width="88.4" height="140.9" fill="none" stroke="#b5b5b5" stroke-width="0.4"/>
<text x="365.5" y="102.48" font-size="2.7" text-anchor="end">−0.2</text>
<text x="365.5" y="95.05" font-size="2.7" text-anchor="end">−0.1</text>
<text x="365.5" y="87.62" font-size="2.7" text-anchor="end">0.0</text>
<text x="365.5" y="80.19" font-size="2.7" text-anchor="end">0.1</text>
<text x="365.5" y="72.76" font-size="2.7" text-anchor="end">0.2</text>
<text x="365.5" y="65.33" font-size="2.7" text-anchor="end">0.3</text>
<text x="365.5" y="57.9" font-size="2.7" text-anchor="end">0.4</text>
<text x="365.5" y="50.47" font-size="2.7" text-anchor="end">0.5</text>
<text x="365.5" y="43.04" font-size="2.7" text-anchor="end">0.6</text>
<text x="366.6" y="179.4" font-size="1.7" text-anchor="middle" fill="#444">0</text>
<text x="375.44" y="179.4" font-size="1.7" text-anchor="middle" fill="#444">2,500</text>
<text x="384.28" y="179.4" font-size="1.7" text-anchor="middle" fill="#444">5,000</text>
<text x="393.12" y="179.4" font-size="1.7" text-anchor="middle" fill="#444">7,500</text>
<text x="401.96" y="179.4" font-size="1.7" text-anchor="middle" fill="#444">10,000</text>
<text x="410.8" y="179.4" font-size="1.7" text-anchor="middle" fill="#444">12,500</text>
<text x="419.64" y="179.4" font-size="1.7" text-anchor="middle" fill="#444">15,000</text>
<text x="428.48" y="179.4" font-size="1.7" text-anchor="middle" fill="#444">17,500</text>
<text x="437.32" y="179.4" font-size="1.7" text-anchor="middle" fill="#444">20,000</text>
<text x="446.16" y="179.4" font-size="1.7" text-anchor="middle" fill="#444">22,500</text>
<text x="455" y="179.4" font-size="1.7" text-anchor="middle" fill="#444">25,000</text>
<text x="410.8" y="183.3" font-size="2.1" text-anchor="middle" fill="#222" font-weight="bold" textLength="52" lengthAdjust="spacingAndGlyphs">Pre-ranked Position ---------------------- GENE Position</text>
<text x="354.6" y="70.2" font-size="3" text-anchor="middle" fill="#222" textLength="24.9" lengthAdjust="spacingAndGlyphs" transform="rotate(-90 354.6 70.2)">Enrichment Score</text>
<rect x="457.7" y="36.5" width="1.6" height="1.6" fill="#f5a623"/>
<text x="460.6" y="37.95" font-size="1.8" fill="#3a3a3a" textLength="9.1" lengthAdjust="spacingAndGlyphs">hsa03299</text>
<rect x="457.7" y="41.77" width="1.6" height="1.6" fill="#7fd6f2"/>
<text x="460.6" y="43.22" font-size="1.8" fill="#3a3a3a" textLength="9.1" lengthAdjust="spacingAndGlyphs">hsa04975</text>
<rect x="457.7" y="47.04" width="1.6" height="1.6" fill="#f04545"/>
<text x="460.6" y="48.49" font-size="1.8" fill="#3a3a3a" textLength="9.1" lengthAdjust="spacingAndGlyphs">hsa01386</text>
<rect x="457.7" y="52.31" width="1.6" height="1.6" fill="#2db56c"/>
<text x="460.6" y="53.76" font-size="1.8" fill="#3a3a3a" textLength="9.1" lengthAdjust="spacingAndGlyphs">hsa08325</text>
<rect x="457.7" y="57.58" width="1.6" height="1.6" fill="#f0dc30"/>
<text x="460.6" y="59.03" font-size="1.8" fill="#3a3a3a" textLength="9.1" lengthAdjust="spacingAndGlyphs">hsa04018</text>
<rect x="457.7" y="62.85" width="1.6" height="1.6" fill="#a23aa0"/>
<text x="460.6" y="64.3" font-size="1.8" fill="#3a3a3a" textLength="9.1" lengthAdjust="spacingAndGlyphs">hsa02975</text>
<rect x="457.7" y="68.12" width="1.6" height="1.6" fill="#3de0c0"/>
<text x="460.6" y="69.57" font-size="1.8" fill="#3a3a3a" textLength="9.1" lengthAdjust="spacingAndGlyphs">hsa06663</text>
<rect x="457.7" y="73.39" width="1.6" height="1.6" fill="#f7804a"/>
<text x="460.6" y="74.84" font-size="1.8" fill="#3a3a3a" textLength="9.1" lengthAdjust="spacingAndGlyphs">hsa02305</text>
<rect x="457.7" y="78.66" width="1.6" height="1.6" fill="#5a48d8"/>
<text x="460.6" y="80.11" font-size="1.8" fill="#3a3a3a" textLength="9.1" lengthAdjust="spacingAndGlyphs">hsa04796</text>
<rect x="457.7" y="83.93" width="1.6" height="1.6" fill="#c0bcf0"/>
<text x="460.6" y="85.38" font-size="1.8" fill="#3a3a3a" textLength="9.1" lengthAdjust="spacingAndGlyphs">hsa05411</text>
<rect x="457.7" y="89.2" width="1.6" height="1.6" fill="#c07ef2"/>
<text x="460.6" y="90.65" font-size="1.8" fill="#3a3a3a" textLength="9.1" lengthAdjust="spacingAndGlyphs">hsa01813</text>
<rect x="457.7" y="94.47" width="1.6" height="1.6" fill="#f5b0b0"/>
<text x="460.6" y="95.92" font-size="1.8" fill="#3a3a3a" textLength="9.1" lengthAdjust="spacingAndGlyphs">hsa06233</text>
<rect x="457.7" y="99.74" width="1.6" height="1.6" fill="#eab888"/>
<text x="460.6" y="101.19" font-size="1.8" fill="#3a3a3a" textLength="9.1" lengthAdjust="spacingAndGlyphs">hsa03934</text>
<rect x="471.4" y="36.5" width="1.6" height="1.6" fill="#26268a"/>
<text x="474.3" y="37.95" font-size="1.8" fill="#3a3a3a" textLength="9.1" lengthAdjust="spacingAndGlyphs">hsa08045</text>
<rect x="471.4" y="41.77" width="1.6" height="1.6" fill="#4aa0c8"/>
<text x="474.3" y="43.22" font-size="1.8" fill="#3a3a3a" textLength="9.1" lengthAdjust="spacingAndGlyphs">hsa01793</text>
<text x="410.2" y="236.2" font-size="3.3" text-anchor="middle" fill="#222" font-weight="bold" textLength="9.4" lengthAdjust="spacingAndGlyphs">GSEA</text>
<rect x="369.1" y="239.2" width="82.5" height="132.3" fill="#fff"/>
<line x1="377.35" y1="239.2" x2="377.35" y2="302.9" stroke="#ededed" stroke-width="0.3"/>
<line x1="385.6" y1="239.2" x2="385.6" y2="302.9" stroke="#ededed" stroke-width="0.3"/>
<line x1="393.85" y1="239.2" x2="393.85" y2="302.9" stroke="#ededed" stroke-width="0.3"/>
<line x1="402.1" y1="239.2" x2="402.1" y2="302.9" stroke="#ededed" stroke-width="0.3"/>
<line x1="410.35" y1="239.2" x2="410.35" y2="302.9" stroke="#ededed" stroke-width="0.3"/>
<line x1="418.6" y1="239.2" x2="418.6" y2="302.9" stroke="#ededed" stroke-width="0.3"/>
<line x1="426.85" y1="239.2" x2="426.85" y2="302.9" stroke="#ededed" stroke-width="0.3"/>
<line x1="435.1" y1="239.2" x2="435.1" y2="302.9" stroke="#ededed" stroke-width="0.3"/>
<line x1="443.35" y1="239.2" x2="443.35" y2="302.9" stroke="#ededed" stroke-width="0.3"/>
<line x1="369.1" y1="299.4" x2="451.6" y2="299.4" stroke="#ededed" stroke-width="0.3"/>
<line x1="369.1" y1="292.4" x2="451.6" y2="292.4" stroke="#ededed" stroke-width="0.3"/>
<line x1="369.1" y1="285.4" x2="451.6" y2="285.4" stroke="#ededed" stroke-width="0.3"/>
<line x1="369.1" y1="278.4" x2="451.6" y2="278.4" stroke="#ededed" stroke-width="0.3"/>
<line x1="369.1" y1="271.4" x2="451.6" y2="271.4" stroke="#ededed" stroke-width="0.3"/>
<line x1="369.1" y1="264.4" x2="451.6" y2="264.4" stroke="#ededed" stroke-width="0.3"/>
<line x1="369.1" y1="257.4" x2="451.6" y2="257.4" stroke="#ededed" stroke-width="0.3"/>
<line x1="369.1" y1="250.4" x2="451.6" y2="250.4" stroke="#ededed" stroke-width="0.3"/>
<line x1="369.1" y1="243.4" x2="451.6" y2="243.4" stroke="#ededed" stroke-width="0.3"/>
<rect x="369.1" y="285.4" width="82.5" height="17.5" fill="#f1f1f1"/>
<line x1="377.35" y1="285.4" x2="377.35" y2="302.9" stroke="#e4e4e4" stroke-width="0.3"/>
<line x1="385.6" y1="285.4" x2="385.6" y2="302.9" stroke="#e4e4e4" stroke-width="0.3"/>
<line x1="393.85" y1="285.4" x2="393.85" y2="302.9" stroke="#e4e4e4" stroke-width="0.3"/>
<line x1="402.1" y1="285.4" x2="402.1" y2="302.9" stroke="#e4e4e4" stroke-width="0.3"/>
<line x1="410.35" y1="285.4" x2="410.35" y2="302.9" stroke="#e4e4e4" stroke-width="0.3"/>
<line x1="418.6" y1="285.4" x2="418.6" y2="302.9" stroke="#e4e4e4" stroke-width="0.3"/>
<line x1="426.85" y1="285.4" x2="426.85" y2="302.9" stroke="#e4e4e4" stroke-width="0.3"/>
<line x1="435.1" y1="285.4" x2="435.1" y2="302.9" stroke="#e4e4e4" stroke-width="0.3"/>
<line x1="443.35" y1="285.4" x2="443.35" y2="302.9" stroke="#e4e4e4" stroke-width="0.3"/>
<line x1="369.1" y1="299.4" x2="451.6" y2="299.4" stroke="#e4e4e4" stroke-width="0.3"/>
<line x1="369.1" y1="292.4" x2="451.6" y2="292.4" stroke="#e4e4e4" stroke-width="0.3"/>
<path d="M369.1 285.4 L370.75 264.34 L372.12 261.49 L373.5 258.53 L374.88 256.19 L376.25 256.11 L377.62 256.14 L379 256.36 L380.22 257.86 L381.45 258.36 L382.67 259.28 L383.89 260.27 L385.12 260.77 L386.34 262.03 L387.56 263 L388.79 263.47 L390.01 264.62 L391.23 265.8 L392.46 266.68 L393.68 267.42 L394.9 268.69 L396.13 269.11 L397.35 269.9 L398.57 271.05 L399.8 271.59 L401.02 272.42 L402.24 273.62 L403.47 274.41 L404.69 275.78 L405.91 276.72 L407.14 276.84 L408.36 278.32 L409.58 279.27 L410.81 279.59 L412.03 280.6 L413.25 282.02 L414.48 282.75 L415.69 283.31 L416.9 283.78 L418.11 284.5 L419.33 284.56 L420.54 285.23 L421.75 285.65 L422.97 286.32 L424.18 286.88 L425.39 287.44 L426.61 287.23 L427.82 287.83 L429.03 288.48 L430.25 289.34 L431.46 289.81 L432.67 290.33 L433.89 290.66 L435.1 291.37 L436.44 291.54 L437.78 291.95 L439.12 292.31 L440.46 292.27 L441.8 292.79 L443.14 293.12 L444.48 293.57 L445.83 293.8 L447.27 291.67 L448.71 289.36 L450.16 287.66 L451.6 285.4" stroke="#f5a623" stroke-width="0.55" fill="none" stroke-linejoin="round"/>
<path d="M369.1 285.4 L370.75 275.26 L372.4 264.42 L373.78 261.93 L375.15 259.03 L376.53 257.03 L377.9 253.82 L379.28 251.97 L380.65 248.96 L381.89 249.4 L383.12 249.86 L384.36 249.72 L385.6 250.23 L386.82 251.72 L388.04 252.48 L389.27 253.42 L390.49 254.94 L391.71 255.93 L392.93 256.54 L394.16 257.47 L395.38 258.73 L396.6 259.8 L397.82 260.76 L399.04 262.01 L400.27 262.53 L401.49 263.49 L402.71 264.93 L403.93 266.36 L405.16 267.08 L406.38 267.78 L407.6 269.21 L408.82 270.44 L410.04 271.41 L411.27 272 L412.49 273.11 L413.71 274.43 L414.93 275.19 L416.16 276.11 L417.38 276.97 L418.6 278.12 L419.81 279.28 L421.03 279.79 L422.24 280.51 L423.45 281.38 L424.67 282.31 L425.88 283.27 L427.09 284.16 L428.31 284.69 L429.52 285.71 L430.73 286.45 L431.95 287.69 L433.16 288.62 L434.37 289.3 L435.59 289.86 L436.8 290.69 L438.01 291.83 L439.23 292.66 L440.6 291.79 L441.98 292.29 L443.35 291.34 L444.73 291.24 L446.1 291.17 L447.48 291 L448.85 288.72 L450.23 287.12 L451.6 285.4" stroke="#7fd6f2" stroke-width="0.55" fill="none" stroke-linejoin="round"/>
<path d="M369.1 285.4 L369.93 261.31 L371.16 239.53 L372.4 240.39 L373.64 240.39 L374.88 240.9 L376.11 241.88 L377.35 242.39 L378.56 243.27 L379.78 243.49 L380.99 244.35 L382.2 245.69 L383.42 246.65 L384.63 247.3 L385.84 247.8 L387.06 248.72 L388.27 249.47 L389.48 250.25 L390.7 251.3 L391.91 252.09 L393.12 253.65 L394.34 254.52 L395.55 254.67 L396.76 255.74 L397.98 256.85 L399.19 257.88 L400.4 258.57 L401.61 259.43 L402.83 260.16 L404.04 261.07 L405.25 262.14 L406.47 263.1 L407.68 263.87 L408.89 264.79 L410.11 265.68 L411.32 266.28 L412.53 267.39 L413.75 267.69 L414.96 268.77 L416.17 269.7 L417.39 270.42 L418.6 271.62 L419.87 272.23 L421.14 272.62 L422.41 272.83 L423.68 273.24 L424.95 273.76 L426.22 274.15 L427.48 274.14 L428.75 275.26 L430.02 275.32 L431.29 275.81 L432.56 276.32 L433.83 276.38 L435.1 277.23 L436.34 278.08 L437.58 278.69 L438.81 278.7 L440.05 279.93 L441.29 280.82 L442.53 280.8 L443.76 281.78 L445 282.22 L446.24 283.44 L447.48 284 L448.85 284.21 L450.23 285.32 L451.6 285.4" stroke="#f04545" stroke-width="0.55" fill="none" stroke-linejoin="round"/>
<path d="M369.1 285.4 L370.75 257.62 L372.4 243.15 L373.64 244.09 L374.88 244.56 L376.11 245.6 L377.35 245.88 L378.59 247.39 L379.83 247.78 L381.06 248.98 L382.3 249.81 L383.54 250.08 L384.78 251.3 L386.01 251.82 L387.25 253.1 L388.49 253.57 L389.73 254.26 L390.96 255.33 L392.2 256.5 L393.44 256.98 L394.68 257.58 L395.91 258.55 L397.15 259.69 L398.39 260.56 L399.62 261.66 L400.86 261.93 L402.1 263.29 L403.34 264.08 L404.58 265.07 L405.81 265.8 L407.05 266.46 L408.29 267.22 L409.53 268.31 L410.76 268.94 L412 269.5 L413.24 270.9 L414.48 271.71 L415.82 271.56 L417.16 271.41 L418.5 271.57 L419.84 272.04 L421.18 272.62 L422.52 272.14 L423.86 272.21 L425.2 272.46 L426.48 273.03 L427.75 273.41 L429.03 273.49 L430.3 273.57 L431.58 273.66 L432.85 274.33 L434.12 274.58 L435.4 275 L436.68 275.06 L437.95 275.31 L439.23 275.78 L440.6 277.27 L441.98 278.52 L443.35 280.72 L444.73 282.34 L446.1 283.93 L447.48 285.4 L448.85 285.1 L450.23 285.57 L451.6 285.4" stroke="#2db56c" stroke-width="0.55" fill="none" stroke-linejoin="round"/>
<path d="M369.1 285.4 L370.75 269.38 L372.4 253.54 L373.64 250.43 L374.88 247.34 L376.11 244.71 L377.35 241.34 L378.59 241.55 L379.83 242.56 L381.06 242.79 L382.3 243.09 L383.51 243.97 L384.72 245.39 L385.93 246.52 L387.14 247.53 L388.35 248.22 L389.56 248.96 L390.77 250.12 L391.98 250.59 L393.19 251.67 L394.4 252.63 L395.61 253.39 L396.82 254.74 L398.03 255.41 L399.24 256.59 L400.45 257.58 L401.66 258.66 L402.87 259.02 L404.08 259.86 L405.29 261.53 L406.5 261.88 L407.71 263.37 L408.92 264 L410.13 265.02 L411.34 265.46 L412.55 266.79 L413.76 267.66 L414.97 268.72 L416.18 269.74 L417.39 270.68 L418.6 271.77 L419.84 272.23 L421.08 272.2 L422.31 272.46 L423.55 272.94 L424.79 273.7 L426.03 273.51 L427.26 274.69 L428.5 274.82 L429.74 275.32 L430.98 275.87 L432.21 275.84 L433.45 276.68 L434.69 277.8 L435.93 278.39 L437.16 278.49 L438.4 279.49 L439.64 280.18 L440.88 280.81 L442.11 281.42 L443.35 281.9 L444.73 282.41 L446.1 283.22 L447.48 283.57 L448.85 284.6 L450.23 284.79 L451.6 285.4" stroke="#f0dc30" stroke-width="0.55" fill="none" stroke-linejoin="round"/>
<path d="M369.1 285.4 L370.75 267.83 L372.4 262.8 L374.05 257.09 L375.29 257.04 L376.53 257.27 L377.76 257.47 L379 257.68 L380.22 258.26 L381.45 259.51 L382.67 260.58 L383.89 261.23 L385.12 262.48 L386.34 263.08 L387.56 263.94 L388.79 265.53 L390.01 265.98 L391.23 267.31 L392.46 268.16 L393.68 268.8 L394.9 269.56 L396.13 271.07 L397.35 271.67 L398.57 272.98 L399.8 273.44 L401.02 275.05 L402.24 275.61 L403.47 277.06 L404.69 277.63 L405.91 278.44 L407.14 279.26 L408.36 280.35 L409.58 281.5 L410.81 282.59 L412.03 283.36 L413.25 284.31 L414.48 285.31 L415.74 285.69 L417 286.13 L418.27 286.43 L419.54 287.17 L420.8 287.42 L422.07 288 L423.33 288.77 L424.6 288.88 L425.86 289.71 L427.12 289.79 L428.39 290.21 L429.66 290.67 L430.92 291.12 L432.19 291.77 L433.45 292.4 L434.73 292.89 L436.02 292.91 L437.3 293 L438.58 293.76 L439.87 294.2 L441.15 294.05 L442.43 294.23 L443.72 295.14 L445 295.2 L446.32 293.54 L447.64 291.61 L448.96 289.28 L450.28 287.08 L451.6 285.4" stroke="#a23aa0" stroke-width="0.55" fill="none" stroke-linejoin="round"/>
<path d="M369.1 285.4 L370.75 261.11 L372.4 243.16 L373.72 244.48 L375.04 245.04 L376.36 245.46 L377.68 245.98 L379 246.91 L380.22 247.59 L381.45 248.71 L382.67 249.54 L383.89 250.26 L385.12 251.54 L386.34 252.22 L387.56 252.94 L388.79 253.53 L390.01 254.76 L391.23 255.56 L392.46 255.78 L393.68 256.91 L394.9 257.96 L396.13 258.49 L397.35 259.39 L398.57 260.15 L399.8 261.21 L401.02 262.01 L402.24 263.29 L403.47 263.86 L404.69 264.73 L405.91 265.69 L407.14 266.44 L408.36 266.85 L409.58 268.25 L410.81 269.19 L412.03 269.85 L413.25 270.83 L414.48 271.8 L415.71 270.59 L416.95 270.43 L418.19 270.4 L419.43 269.51 L420.66 269.34 L421.9 268.61 L423.14 268.46 L424.38 268.66 L425.61 269.39 L426.85 269.3 L428.09 269.77 L429.33 270.35 L430.56 270.32 L431.8 270.21 L433.04 270.47 L434.28 270.75 L435.51 270.76 L436.75 271.5 L438.09 272.8 L439.43 274.28 L440.77 275.77 L442.11 277.39 L443.45 278.96 L444.79 280.98 L446.13 282.53 L447.48 284 L448.85 284.37 L450.23 285.25 L451.6 285.4" stroke="#3de0c0" stroke-width="0.55" fill="none" stroke-linejoin="round"/>
<path d="M369.1 285.4 L370.34 275.76 L371.58 265.91 L372.95 263.25 L374.33 260.46 L375.7 257.27 L376.94 257.73 L378.18 258.12 L379.41 257.67 L380.65 257.73 L381.87 259.14 L383.1 259.57 L384.32 260.89 L385.55 261.59 L386.77 262.45 L388 262.86 L389.22 263.74 L390.44 264.33 L391.67 265.28 L392.89 266.01 L394.12 266.73 L395.34 267.78 L396.56 268.9 L397.79 269.76 L399.01 269.99 L400.24 270.84 L401.46 271.8 L402.69 272.35 L403.91 273.29 L405.13 274.44 L406.36 275.43 L407.58 276.05 L408.81 276.45 L410.03 277.28 L411.25 278.84 L412.48 279.65 L413.7 280.09 L414.93 280.52 L416.15 281.36 L417.38 282.2 L418.6 283.66 L419.81 283.97 L421.02 283.91 L422.23 284.61 L423.44 285.13 L424.65 285.01 L425.86 286.23 L427.07 286.25 L428.28 286.34 L429.49 286.91 L430.7 287.17 L431.91 288.11 L433.12 288.29 L434.33 288.36 L435.54 289.49 L436.75 289.66 L438.09 289.01 L439.43 289.54 L440.77 288.85 L442.11 288.69 L443.45 288.93 L444.79 288.14 L446.13 288.14 L447.48 288.2 L448.85 287.58 L450.23 285.92 L451.6 285.4" stroke="#f7804a" stroke-width="0.55" fill="none" stroke-linejoin="round"/>
<path d="M369.1 285.4 L370.75 264.08 L371.99 259.87 L373.23 255.7 L374.6 255.29 L375.98 255.7 L377.35 255.79 L378.57 257.37 L379.8 258.04 L381.02 258.78 L382.24 259.86 L383.47 261.34 L384.69 262.23 L385.91 263.13 L387.14 264.14 L388.36 264.71 L389.58 265.77 L390.81 267.57 L392.03 268.07 L393.25 269.48 L394.48 269.89 L395.7 271.18 L396.92 271.89 L398.15 272.89 L399.37 273.88 L400.59 275.54 L401.82 276.64 L403.04 277.06 L404.26 278.33 L405.49 279.08 L406.71 280.38 L407.93 281.42 L409.16 282.16 L410.38 283.48 L411.6 284.39 L412.83 285.49 L414.06 285.84 L415.3 286.93 L416.54 287.18 L417.78 287.67 L419.01 288.16 L420.25 288.56 L421.49 289.59 L422.73 289.68 L423.96 290.48 L425.2 291.33 L426.44 291.76 L427.68 292.52 L428.91 292.86 L430.15 293.97 L431.39 293.82 L432.62 294.85 L433.86 295.73 L435.1 296.25 L436.42 296.6 L437.74 297.22 L439.06 297.3 L440.38 298.24 L441.7 298.35 L442.94 292.94 L444.18 286.93 L445.41 284.32 L446.65 282.6 L447.89 283 L449.12 283.63 L450.36 285.02 L451.6 285.4" stroke="#5a48d8" stroke-width="0.55" fill="none" stroke-linejoin="round"/>
<path d="M369.1 285.4 L370.34 278.76 L371.58 271.24 L372.95 267.8 L374.33 264.27 L375.7 260.54 L376.94 260.35 L378.18 260.36 L379.41 260.06 L380.65 259.79 L381.87 261.29 L383.1 261.58 L384.32 262.56 L385.55 263.14 L386.77 263.85 L388 264.73 L389.22 266.2 L390.44 266.5 L391.67 267.29 L392.89 268.43 L394.12 269.54 L395.34 269.74 L396.56 270.66 L397.79 271.36 L399.01 272.18 L400.24 273.01 L401.46 274.4 L402.69 274.46 L403.91 275.26 L405.13 276.58 L406.36 277.03 L407.58 277.72 L408.81 278.95 L410.03 279.85 L411.25 280.44 L412.48 281.1 L413.7 282.22 L414.93 282.79 L416.15 283.39 L417.38 284.69 L418.6 285.06 L419.81 286.2 L421.03 286.31 L422.24 286.6 L423.45 287.46 L424.67 288.05 L425.88 288.55 L427.09 288.97 L428.31 289.45 L429.52 289.92 L430.73 290.56 L431.95 290.76 L433.16 291.56 L434.37 292.02 L435.59 292.35 L436.8 292.47 L438.01 293.49 L439.23 294.07 L440.52 293.37 L441.82 293.33 L443.11 293.52 L444.41 292.6 L445.71 293.05 L447 292.49 L448.3 292.4 L449.95 289.12 L451.6 285.4" stroke="#c0bcf0" stroke-width="0.55" fill="none" stroke-linejoin="round"/>
<path d="M369.1 285.4 L370.34 274.63 L371.58 264.51 L372.81 261.84 L374.05 259.25 L375.29 256.88 L376.53 254.76 L377.9 255 L379.28 255 L380.65 255.28 L381.87 255.91 L383.1 257.24 L384.32 258.04 L385.55 258.88 L386.77 259 L388 260.32 L389.22 260.62 L390.44 261.66 L391.67 262.03 L392.89 263.09 L394.12 263.7 L395.34 265.12 L396.56 265.24 L397.79 266.46 L399.01 267.54 L400.24 267.64 L401.46 268.96 L402.69 269.4 L403.91 270.72 L405.13 271.16 L406.36 271.93 L407.58 272.73 L408.81 273.2 L410.03 274.45 L411.25 274.71 L412.48 276.13 L413.7 276.25 L414.93 277.61 L416.15 278.07 L417.38 278.65 L418.6 279.65 L419.87 279.66 L421.14 280.47 L422.41 279.89 L423.68 280.83 L424.95 280.46 L426.22 280.5 L427.48 280.71 L428.75 280.9 L430.02 281.16 L431.29 281.01 L432.56 281.81 L433.83 281.39 L435.1 281.64 L436.38 283.01 L437.67 283.64 L438.95 284.52 L440.23 285.62 L441.52 285.88 L442.8 286.73 L444.08 287.68 L445.37 289.14 L446.65 289.6 L447.89 288.36 L449.12 287.14 L450.36 286.27 L451.6 285.4" stroke="#c07ef2" stroke-width="0.55" fill="none" stroke-linejoin="round"/>
<path d="M369.1 285.4 L370.75 257.04 L372.4 240.21 L373.64 241.13 L374.88 241.8 L376.11 242.87 L377.35 243.17 L378.56 244.46 L379.78 245.41 L380.99 246.26 L382.2 247.18 L383.42 248.32 L384.63 249.13 L385.84 249.93 L387.06 250.88 L388.27 251.96 L389.48 252.26 L390.7 253.09 L391.91 254.41 L393.12 255 L394.34 255.77 L395.55 257.38 L396.76 257.83 L397.98 258.72 L399.19 259.98 L400.4 260.27 L401.61 261.26 L402.83 262.39 L404.04 263.3 L405.25 263.96 L406.47 265.51 L407.68 265.73 L408.89 266.93 L410.11 268.02 L411.32 268.97 L412.53 269.64 L413.75 270.91 L414.96 271.21 L416.17 272.46 L417.39 272.96 L418.6 273.82 L419.81 274.41 L421.03 275.43 L422.24 275.77 L423.45 275.9 L424.67 276.09 L425.88 276.81 L427.09 277.49 L428.31 277.56 L429.52 278.31 L430.73 278.65 L431.95 279.22 L433.16 279.26 L434.37 279.99 L435.59 280.87 L436.8 280.87 L438.01 281.53 L439.23 281.9 L440.46 282.53 L441.7 282.6 L442.94 283.15 L444.18 282.92 L445.41 283.89 L446.65 283.96 L447.89 284.77 L449.12 284.86 L450.36 284.92 L451.6 285.4" stroke="#f5b0b0" stroke-width="0.55" fill="none" stroke-linejoin="round"/>
<path d="M369.1 285.4 L370.34 277.7 L371.58 269.86 L373.02 267.31 L374.46 264.65 L375.91 262.33 L377.35 259.14 L378.73 259.37 L380.1 259.9 L381.48 259.22 L382.71 260.53 L383.95 261.06 L385.19 261.61 L386.43 262.15 L387.66 263.51 L388.9 264.15 L390.14 264.71 L391.38 265.32 L392.61 266.25 L393.85 266.79 L395.09 267.3 L396.33 268.82 L397.56 269.29 L398.8 269.71 L400.04 270.44 L401.28 271.06 L402.51 272.33 L403.75 273.15 L404.99 273.55 L406.23 274.16 L407.46 274.93 L408.7 275.9 L409.94 276.99 L411.18 277.25 L412.41 278.37 L413.65 279.31 L414.89 280.08 L416.12 280.54 L417.36 281.26 L418.6 281.86 L419.81 282.48 L421.03 282.96 L422.24 283.39 L423.45 284.31 L424.67 284.32 L425.88 284.97 L427.09 285.38 L428.31 286.13 L429.52 286.68 L430.73 286.97 L431.95 287.65 L433.16 288.52 L434.37 288.55 L435.59 289.65 L436.8 290.12 L438.01 290.19 L439.23 291.04 L440.52 291.09 L441.82 290.27 L443.11 290.32 L444.41 290.6 L445.71 290.13 L447 289.93 L448.3 289.6 L449.95 287.69 L451.6 285.4" stroke="#eab888" stroke-width="0.55" fill="none" stroke-linejoin="round"/>
<path d="M369.1 285.4 L370.75 264.21 L371.99 259.73 L373.23 254.95 L374.6 254.53 L375.98 255 L377.35 255.32 L378.56 255.98 L379.77 257.15 L380.98 258.01 L382.19 259.45 L383.4 260.48 L384.61 261.46 L385.82 262.35 L387.03 263.26 L388.24 264.58 L389.45 265.28 L390.66 265.97 L391.87 267.13 L393.08 268.76 L394.29 269.37 L395.5 270.24 L396.71 271.73 L397.92 271.94 L399.13 273.12 L400.34 274.31 L401.55 275.35 L402.76 276.26 L403.97 277.46 L405.18 278.31 L406.39 279.37 L407.6 280.51 L408.81 281.41 L410.02 282.76 L411.23 283.3 L412.44 284.62 L413.65 285.6 L414.89 286.3 L416.12 286.41 L417.36 287.28 L418.6 287.78 L419.84 288.45 L421.08 289 L422.31 289.8 L423.55 290.5 L424.79 290.69 L426.03 291.34 L427.26 292.43 L428.5 293.05 L429.74 293.49 L430.98 293.73 L432.21 294.75 L433.45 295.43 L434.69 295.96 L435.93 296.6 L437.16 297.19 L438.4 298.15 L439.64 298.78 L440.88 298.99 L442.11 299.88 L443.35 301.04 L444.59 294.84 L445.83 289.19 L447.06 286.05 L448.3 284 L449.95 284.9 L451.6 285.4" stroke="#26268a" stroke-width="0.55" fill="none" stroke-linejoin="round"/>
<path d="M369.1 285.4 L370.34 276.29 L371.58 268.14 L373.23 262.88 L374.88 257.53 L376.11 257.55 L377.35 257.53 L378.59 257.49 L379.83 257.48 L381.05 258.74 L382.27 259.32 L383.49 260.28 L384.72 261.69 L385.94 262.78 L387.16 263.87 L388.39 264.76 L389.61 265.5 L390.83 266.42 L392.06 267.17 L393.28 268.28 L394.5 269.85 L395.73 270.78 L396.95 271.85 L398.17 272.97 L399.4 274.02 L400.62 274.6 L401.84 275.27 L403.07 276.26 L404.29 278.08 L405.51 278.9 L406.74 279.83 L407.96 280.42 L409.18 282.07 L410.41 282.79 L411.63 283.44 L412.85 284.54 L414.08 286.05 L415.3 286.78 L416.54 287.3 L417.78 288.43 L419.01 288.46 L420.25 289.28 L421.49 290.19 L422.73 290.88 L423.96 291.74 L425.2 291.71 L426.44 292.97 L427.68 293.29 L428.91 293.85 L430.15 294.59 L431.39 295.08 L432.62 296.18 L433.86 296.5 L435.1 297.54 L436.34 297.47 L437.58 297.79 L438.81 298.38 L440.05 298.51 L441.29 298.9 L442.53 299.81 L443.76 299.99 L445 300.1 L446.32 297.4 L447.64 294.06 L448.96 291 L450.28 288.57 L451.6 285.4" stroke="#4aa0c8" stroke-width="0.55" fill="none" stroke-linejoin="round"/>
<line x1="369.1" y1="285.4" x2="451.6" y2="285.4" stroke="#9a9a9a" stroke-width="0.4"/>
<rect x="369.1" y="302.9" width="82.5" height="1" fill="#dcdcdc"/>
<path d="M390.17 303.70v4.0M392.03 303.70v4.0M394.26 303.70v4.0M403.19 303.70v4.0M412.49 303.70v4.0M416.20 303.70v4.0M419.30 303.70v4.0M423.02 303.70v4.0M424.88 303.70v4.0M427.98 303.70v4.0M444.10 303.70v4.0M450.29 303.70v4.0" stroke="#f5b04a" stroke-width="0.55" opacity="0.85"/>
<path d="M370.56 303.70v4.0M371.18 303.70v4.0M375.52 303.70v4.0M397.21 303.70v4.0M398.45 303.70v4.0" stroke="#f5b04a" stroke-width="0.45"/>
<path d="M390.17 308.18v4.0M392.03 308.18v4.0M394.26 308.18v4.0M403.19 308.18v4.0M412.49 308.18v4.0M416.20 308.18v4.0M419.30 308.18v4.0M423.02 308.18v4.0M424.88 308.18v4.0M427.98 308.18v4.0M444.10 308.18v4.0M450.29 308.18v4.0" stroke="#8fdcf5" stroke-width="0.55" opacity="0.85"/>
<path d="M369.94 308.18v4.0M370.56 308.18v4.0M371.18 308.18v4.0M375.52 308.18v4.0M397.21 308.18v4.0M397.83 308.18v4.0M398.45 308.18v4.0" stroke="#8fdcf5" stroke-width="0.45"/>
<path d="M390.17 312.66v4.0M392.03 312.66v4.0M394.26 312.66v4.0M403.19 312.66v4.0M412.49 312.66v4.0M416.20 312.66v4.0M419.30 312.66v4.0M423.02 312.66v4.0M424.88 312.66v4.0M427.98 312.66v4.0M444.10 312.66v4.0M450.29 312.66v4.0" stroke="#f05050" stroke-width="0.55" opacity="0.85"/>
<path d="M370.56 312.66v4.0M375.52 312.66v4.0M397.21 312.66v4.0M397.83 312.66v4.0M398.45 312.66v4.0" stroke="#f05050" stroke-width="0.45"/>
<path d="M372.45 317.14v4.0M382.12 317.14v4.0M387.07 317.14v4.0M396.99 317.14v4.0M413.11 317.14v4.0M422.40 317.14v4.0M442.86 317.14v4.0M450.29 317.14v4.0" stroke="#2fb572" stroke-width="0.55" opacity="0.85"/>
<path d="M369.94 317.14v4.0M390.39 317.14v4.0M392.87 317.14v4.0M393.49 317.14v4.0M394.73 317.14v4.0M417.66 317.14v4.0M431.92 317.14v4.0M433.16 317.14v4.0M434.40 317.14v4.0M435.02 317.14v4.0M435.64 317.14v4.0M436.26 317.14v4.0" stroke="#2fb572" stroke-width="0.45"/>
<path d="M385.83 321.62v4.0M411.25 321.62v4.0M420.54 321.62v4.0M445.96 321.62v4.0" stroke="#f2e436" stroke-width="0.55" opacity="0.85"/>
<path d="M369.94 321.62v4.0M370.56 321.62v4.0M376.14 321.62v4.0M376.76 321.62v4.0M390.39 321.62v4.0M391.01 321.62v4.0M394.11 321.62v4.0M413.33 321.62v4.0M413.95 321.62v4.0M414.57 321.62v4.0M430.68 321.62v4.0" stroke="#f2e436" stroke-width="0.45"/>
<path d="M370.56 326.10v4.0M371.18 326.10v4.0M372.42 326.10v4.0M373.04 326.10v4.0M373.66 326.10v4.0M374.28 326.10v4.0M374.90 326.10v4.0M376.14 326.10v4.0M376.76 326.10v4.0M377.38 326.10v4.0M378.62 326.10v4.0M379.24 326.10v4.0M379.86 326.10v4.0M382.96 326.10v4.0M383.58 326.10v4.0M384.82 326.10v4.0M385.44 326.10v4.0M386.06 326.10v4.0M386.68 326.10v4.0M387.30 326.10v4.0M387.92 326.10v4.0M389.15 326.10v4.0M390.39 326.10v4.0M391.01 326.10v4.0M391.63 326.10v4.0M392.25 326.10v4.0M392.87 326.10v4.0M393.49 326.10v4.0M394.11 326.10v4.0M395.35 326.10v4.0M397.21 326.10v4.0M399.07 326.10v4.0M399.69 326.10v4.0M403.41 326.10v4.0M404.03 326.10v4.0M412.71 326.10v4.0M413.95 326.10v4.0M415.19 326.10v4.0M415.81 326.10v4.0M416.43 326.10v4.0M417.05 326.10v4.0M417.67 326.10v4.0M420.14 326.10v4.0M420.76 326.10v4.0M421.38 326.10v4.0M423.86 326.10v4.0M424.48 326.10v4.0M425.10 326.10v4.0M425.72 326.10v4.0M426.34 326.10v4.0M428.20 326.10v4.0M428.82 326.10v4.0M430.06 326.10v4.0M431.30 326.10v4.0M431.92 326.10v4.0M432.54 326.10v4.0M433.16 326.10v4.0M434.40 326.10v4.0M435.02 326.10v4.0M435.64 326.10v4.0M436.26 326.10v4.0M436.88 326.10v4.0M439.36 326.10v4.0M439.98 326.10v4.0M440.60 326.10v4.0M441.84 326.10v4.0M442.46 326.10v4.0M443.08 326.10v4.0M444.32 326.10v4.0M444.94 326.10v4.0M445.56 326.10v4.0M446.18 326.10v4.0M446.80 326.10v4.0M447.42 326.10v4.0M448.66 326.10v4.0M449.90 326.10v4.0M450.52 326.10v4.0M451.14 326.10v4.0" stroke="#a83aa8" stroke-width="0.45"/>
<path d="M396.37 330.58v4.0M421.78 330.58v4.0M439.76 330.58v4.0" stroke="#3de0c0" stroke-width="0.55" opacity="0.85"/>
<path d="M369.94 330.58v4.0M370.56 330.58v4.0M373.04 330.58v4.0M373.66 330.58v4.0M374.28 330.58v4.0M374.90 330.58v4.0M375.52 330.58v4.0M378.62 330.58v4.0M379.24 330.58v4.0M382.34 330.58v4.0M383.58 330.58v4.0M384.20 330.58v4.0M384.82 330.58v4.0M389.77 330.58v4.0M390.39 330.58v4.0M391.01 330.58v4.0M391.63 330.58v4.0M415.18 330.58v4.0M419.52 330.58v4.0M426.34 330.58v4.0M427.58 330.58v4.0M428.20 330.58v4.0M428.82 330.58v4.0M429.44 330.58v4.0" stroke="#3de0c0" stroke-width="0.45"/>
<path d="M369.94 335.06v4.0M370.56 335.06v4.0M371.18 335.06v4.0M371.80 335.06v4.0M372.42 335.06v4.0M373.04 335.06v4.0M373.66 335.06v4.0M374.28 335.06v4.0M377.38 335.06v4.0M378.00 335.06v4.0M379.24 335.06v4.0M379.86 335.06v4.0M381.10 335.06v4.0M381.72 335.06v4.0M384.81 335.06v4.0M385.43 335.06v4.0M386.05 335.06v4.0M386.67 335.06v4.0M387.29 335.06v4.0M387.91 335.06v4.0M391.01 335.06v4.0M391.63 335.06v4.0M392.25 335.06v4.0M392.87 335.06v4.0M393.49 335.06v4.0M394.73 335.06v4.0M395.35 335.06v4.0M395.97 335.06v4.0M396.59 335.06v4.0M397.21 335.06v4.0M397.83 335.06v4.0M399.07 335.06v4.0M399.69 335.06v4.0M400.31 335.06v4.0M400.93 335.06v4.0M401.55 335.06v4.0M402.17 335.06v4.0M402.79 335.06v4.0M403.41 335.06v4.0M404.03 335.06v4.0M410.85 335.06v4.0M411.47 335.06v4.0M412.71 335.06v4.0M413.33 335.06v4.0M415.19 335.06v4.0M418.90 335.06v4.0M420.14 335.06v4.0M420.76 335.06v4.0M424.48 335.06v4.0M425.10 335.06v4.0M426.34 335.06v4.0M426.96 335.06v4.0M431.92 335.06v4.0M432.54 335.06v4.0M433.16 335.06v4.0M433.78 335.06v4.0M434.40 335.06v4.0M435.02 335.06v4.0M438.12 335.06v4.0M439.36 335.06v4.0M440.60 335.06v4.0M441.22 335.06v4.0M441.84 335.06v4.0M446.18 335.06v4.0M447.42 335.06v4.0M448.04 335.06v4.0M448.66 335.06v4.0M449.28 335.06v4.0M449.90 335.06v4.0M450.52 335.06v4.0M451.14 335.06v4.0" stroke="#f7804a" stroke-width="0.45"/>
<path d="M376.54 339.54v4.0M379.64 339.54v4.0M383.35 339.54v4.0M404.43 339.54v4.0M409.39 339.54v4.0M427.36 339.54v4.0M430.46 339.54v4.0M438.52 339.54v4.0" stroke="#6048d8" stroke-width="0.55" opacity="0.85"/>
<path d="M369.94 339.54v4.0M370.56 339.54v4.0M371.80 339.54v4.0M372.42 339.54v4.0M373.66 339.54v4.0M374.28 339.54v4.0M386.67 339.54v4.0M387.29 339.54v4.0M388.53 339.54v4.0M391.01 339.54v4.0M392.25 339.54v4.0M395.35 339.54v4.0M395.97 339.54v4.0M396.59 339.54v4.0M397.21 339.54v4.0M397.83 339.54v4.0M399.07 339.54v4.0M415.80 339.54v4.0M417.04 339.54v4.0M417.66 339.54v4.0M422.62 339.54v4.0M423.86 339.54v4.0M424.48 339.54v4.0M433.78 339.54v4.0M435.02 339.54v4.0M444.94 339.54v4.0M445.56 339.54v4.0M446.18 339.54v4.0M446.80 339.54v4.0M447.42 339.54v4.0M448.04 339.54v4.0M448.66 339.54v4.0M449.28 339.54v4.0M450.52 339.54v4.0M451.14 339.54v4.0" stroke="#6048d8" stroke-width="0.45"/>
<path d="M387.07 344.02v4.0M390.79 344.02v4.0M398.23 344.02v4.0M401.95 344.02v4.0M415.58 344.02v4.0M421.78 344.02v4.0M432.94 344.02v4.0M439.14 344.02v4.0M447.81 344.02v4.0" stroke="#c8c4f0" stroke-width="0.55" opacity="0.85"/>
<path d="M369.94 344.02v4.0M372.42 344.02v4.0M374.28 344.02v4.0M376.14 344.02v4.0M377.38 344.02v4.0M378.00 344.02v4.0M378.62 344.02v4.0" stroke="#c8c4f0" stroke-width="0.45"/>
<path d="M390.17 348.50v4.0M393.27 348.50v4.0M398.23 348.50v4.0M402.57 348.50v4.0M416.82 348.50v4.0M427.98 348.50v4.0M432.94 348.50v4.0M436.66 348.50v4.0M441.62 348.50v4.0M446.58 348.50v4.0" stroke="#c080f5" stroke-width="0.55" opacity="0.85"/>
<path d="M369.94 348.50v4.0M370.56 348.50v4.0M374.28 348.50v4.0M374.90 348.50v4.0M378.62 348.50v4.0M379.86 348.50v4.0M380.48 348.50v4.0M381.10 348.50v4.0M381.72 348.50v4.0M385.43 348.50v4.0M413.33 348.50v4.0M414.57 348.50v4.0M420.76 348.50v4.0M421.38 348.50v4.0M422.00 348.50v4.0M422.62 348.50v4.0M423.24 348.50v4.0" stroke="#c080f5" stroke-width="0.45"/>
<path d="M383.35 352.98v4.0M386.45 352.98v4.0M390.79 352.98v4.0M396.99 352.98v4.0M403.19 352.98v4.0M410.01 352.98v4.0M415.58 352.98v4.0M440.38 352.98v4.0M447.81 352.98v4.0" stroke="#f5b8b8" stroke-width="0.55" opacity="0.85"/>
<path d="M370.56 352.98v4.0M371.18 352.98v4.0M373.66 352.98v4.0M374.28 352.98v4.0M421.38 352.98v4.0M423.86 352.98v4.0M433.78 352.98v4.0M435.02 352.98v4.0" stroke="#f5b8b8" stroke-width="0.45"/>
<path d="M369.94 357.46v4.0M371.18 357.46v4.0M373.04 357.46v4.0M373.66 357.46v4.0M374.90 357.46v4.0M375.52 357.46v4.0M376.14 357.46v4.0M378.62 357.46v4.0M379.24 357.46v4.0M379.86 357.46v4.0M380.48 357.46v4.0M381.10 357.46v4.0M385.43 357.46v4.0M386.05 357.46v4.0M387.91 357.46v4.0M392.87 357.46v4.0M393.49 357.46v4.0M394.11 357.46v4.0M394.73 357.46v4.0M395.35 357.46v4.0M395.97 357.46v4.0M396.59 357.46v4.0M397.83 357.46v4.0M398.45 357.46v4.0M399.07 357.46v4.0M400.93 357.46v4.0M402.79 357.46v4.0M412.09 357.46v4.0M412.71 357.46v4.0M413.33 357.46v4.0M413.95 357.46v4.0M414.57 357.46v4.0M415.19 357.46v4.0M419.52 357.46v4.0M420.14 357.46v4.0M421.38 357.46v4.0M422.00 357.46v4.0M422.62 357.46v4.0M423.24 357.46v4.0M423.86 357.46v4.0M428.82 357.46v4.0M429.44 357.46v4.0M430.06 357.46v4.0M431.30 357.46v4.0M431.92 357.46v4.0M432.54 357.46v4.0M433.16 357.46v4.0M433.78 357.46v4.0M434.40 357.46v4.0M438.12 357.46v4.0M438.74 357.46v4.0M439.98 357.46v4.0M440.60 357.46v4.0M443.70 357.46v4.0M444.94 357.46v4.0M446.80 357.46v4.0M448.04 357.46v4.0M448.66 357.46v4.0M449.28 357.46v4.0M449.90 357.46v4.0" stroke="#eac39a" stroke-width="0.45"/>
<path d="M382.12 361.94v4.0M404.43 361.94v4.0M445.34 361.94v4.0" stroke="#2a2a8a" stroke-width="0.55" opacity="0.85"/>
<path d="M369.94 361.94v4.0M370.56 361.94v4.0M371.18 361.94v4.0M371.80 361.94v4.0M372.42 361.94v4.0M373.04 361.94v4.0M373.66 361.94v4.0M376.76 361.94v4.0M387.91 361.94v4.0M389.15 361.94v4.0M389.77 361.94v4.0M391.01 361.94v4.0M391.63 361.94v4.0M392.25 361.94v4.0M394.73 361.94v4.0M395.35 361.94v4.0M399.07 361.94v4.0M399.69 361.94v4.0M412.71 361.94v4.0M413.33 361.94v4.0M414.57 361.94v4.0M415.19 361.94v4.0M416.43 361.94v4.0M417.05 361.94v4.0M420.76 361.94v4.0M421.38 361.94v4.0M424.48 361.94v4.0M425.10 361.94v4.0M425.72 361.94v4.0M426.34 361.94v4.0M426.96 361.94v4.0M429.44 361.94v4.0M430.06 361.94v4.0M431.30 361.94v4.0M436.88 361.94v4.0M437.50 361.94v4.0M438.12 361.94v4.0M438.74 361.94v4.0M439.98 361.94v4.0M440.60 361.94v4.0M441.22 361.94v4.0M441.84 361.94v4.0M442.46 361.94v4.0" stroke="#2a2a8a" stroke-width="0.45"/>
<path d="M378.40 366.42v4.0M380.88 366.42v4.0" stroke="#4aa0c8" stroke-width="0.55" opacity="0.85"/>
<path d="M369.94 366.42v4.0M370.56 366.42v4.0M371.18 366.42v4.0M371.80 366.42v4.0M372.42 366.42v4.0M373.04 366.42v4.0M373.66 366.42v4.0M374.28 366.42v4.0M374.90 366.42v4.0M375.52 366.42v4.0M385.43 366.42v4.0M386.67 366.42v4.0M389.77 366.42v4.0M390.39 366.42v4.0M391.01 366.42v4.0M391.63 366.42v4.0M393.49 366.42v4.0M397.21 366.42v4.0M397.83 366.42v4.0M398.45 366.42v4.0M399.07 366.42v4.0M399.69 366.42v4.0M400.31 366.42v4.0M402.79 366.42v4.0M412.09 366.42v4.0M415.80 366.42v4.0M416.42 366.42v4.0M417.04 366.42v4.0M417.66 366.42v4.0M422.00 366.42v4.0M422.62 366.42v4.0M423.24 366.42v4.0M424.48 366.42v4.0M425.10 366.42v4.0M428.20 366.42v4.0M428.82 366.42v4.0M430.06 366.42v4.0M430.68 366.42v4.0M431.30 366.42v4.0M438.12 366.42v4.0M441.22 366.42v4.0M444.32 366.42v4.0M444.94 366.42v4.0M448.03 366.42v4.0M448.65 366.42v4.0M449.27 366.42v4.0M450.51 366.42v4.0M451.13 366.42v4.0" stroke="#4aa0c8" stroke-width="0.45"/>
<rect x="369.1" y="239.2" width="82.5" height="132.3" fill="none" stroke="#b5b5b5" stroke-width="0.4"/>
<text x="368" y="300.32" font-size="2.7" text-anchor="end">−0.2</text>
<text x="368" y="293.32" font-size="2.7" text-anchor="end">−0.1</text>
<text x="368" y="286.32" font-size="2.7" text-anchor="end">0.0</text>
<text x="368" y="279.32" font-size="2.7" text-anchor="end">0.1</text>
<text x="368" y="272.32" font-size="2.7" text-anchor="end">0.2</text>
<text x="368" y="265.32" font-size="2.7" text-anchor="end">0.3</text>
<text x="368" y="258.32" font-size="2.7" text-anchor="end">0.4</text>
<text x="368" y="251.32" font-size="2.7" text-anchor="end">0.5</text>
<text x="368" y="244.32" font-size="2.7" text-anchor="end">0.6</text>
<text x="369.1" y="373.7" font-size="1.7" text-anchor="middle" fill="#444">0</text>
<text x="377.35" y="373.7" font-size="1.7" text-anchor="middle" fill="#444">2,500</text>
<text x="385.6" y="373.7" font-size="1.7" text-anchor="middle" fill="#444">5,000</text>
<text x="393.85" y="373.7" font-size="1.7" text-anchor="middle" fill="#444">7,500</text>
<text x="402.1" y="373.7" font-size="1.7" text-anchor="middle" fill="#444">10,000</text>
<text x="410.35" y="373.7" font-size="1.7" text-anchor="middle" fill="#444">12,500</text>
<text x="418.6" y="373.7" font-size="1.7" text-anchor="middle" fill="#444">15,000</text>
<text x="426.85" y="373.7" font-size="1.7" text-anchor="middle" fill="#444">17,500</text>
<text x="435.1" y="373.7" font-size="1.7" text-anchor="middle" fill="#444">20,000</text>
<text x="443.35" y="373.7" font-size="1.7" text-anchor="middle" fill="#444">22,500</text>
<text x="451.6" y="373.7" font-size="1.7" text-anchor="middle" fill="#444">25,000</text>
<text x="410.1" y="377.1" font-size="2.1" text-anchor="middle" fill="#222" font-weight="bold" textLength="49" lengthAdjust="spacingAndGlyphs">Pre-ranked Position ---------------------- GENE Position</text>
<text x="358.7" y="270.8" font-size="3" text-anchor="middle" fill="#222" textLength="24.4" lengthAdjust="spacingAndGlyphs" transform="rotate(-90 358.7 270.8)">Enrichment Score</text>
<rect x="453.9" y="240.3" width="1.6" height="1.6" fill="#f5a623"/>
<text x="456.8" y="241.75" font-size="1.8" fill="#3a3a3a" textLength="9.3" lengthAdjust="spacingAndGlyphs">DOID:4849</text>
<rect x="453.9" y="245.22" width="1.6" height="1.6" fill="#7fd6f2"/>
<text x="456.8" y="246.67" font-size="1.8" fill="#3a3a3a" textLength="9.3" lengthAdjust="spacingAndGlyphs">DOID:1468</text>
<rect x="453.9" y="250.14" width="1.6" height="1.6" fill="#f04545"/>
<text x="456.8" y="251.59" font-size="1.8" fill="#3a3a3a" textLength="9.3" lengthAdjust="spacingAndGlyphs">DOID:379</text>
<rect x="453.9" y="255.06" width="1.6" height="1.6" fill="#2db56c"/>
<text x="456.8" y="256.51" font-size="1.8" fill="#3a3a3a" textLength="9.3" lengthAdjust="spacingAndGlyphs">DOID:9799</text>
<rect x="453.9" y="259.98" width="1.6" height="1.6" fill="#f0dc30"/>
<text x="456.8" y="261.43" font-size="1.8" fill="#3a3a3a" textLength="9.3" lengthAdjust="spacingAndGlyphs">DOID:5125</text>
<rect x="453.9" y="264.9" width="1.6" height="1.6" fill="#a23aa0"/>
<text x="456.8" y="266.35" font-size="1.8" fill="#3a3a3a" textLength="9.3" lengthAdjust="spacingAndGlyphs">DOID:7042</text>
<rect x="453.9" y="269.82" width="1.6" height="1.6" fill="#3de0c0"/>
<text x="456.8" y="271.27" font-size="1.8" fill="#3a3a3a" textLength="9.3" lengthAdjust="spacingAndGlyphs">DOID:6312</text>
<rect x="453.9" y="274.74" width="1.6" height="1.6" fill="#f7804a"/>
<text x="456.8" y="276.19" font-size="1.8" fill="#3a3a3a" textLength="9.3" lengthAdjust="spacingAndGlyphs">DOID:8784</text>
<rect x="453.9" y="279.66" width="1.6" height="1.6" fill="#5a48d8"/>
<text x="456.8" y="281.11" font-size="1.8" fill="#3a3a3a" textLength="9.3" lengthAdjust="spacingAndGlyphs">DOID:5966</text>
<rect x="453.9" y="284.58" width="1.6" height="1.6" fill="#c0bcf0"/>
<text x="456.8" y="286.03" font-size="1.8" fill="#3a3a3a" textLength="9.3" lengthAdjust="spacingAndGlyphs">DOID:2234</text>
<rect x="453.9" y="289.5" width="1.6" height="1.6" fill="#c07ef2"/>
<text x="456.8" y="290.95" font-size="1.8" fill="#3a3a3a" textLength="9.3" lengthAdjust="spacingAndGlyphs">DOID:3245</text>
<rect x="453.9" y="294.42" width="1.6" height="1.6" fill="#f5b0b0"/>
<text x="456.8" y="295.87" font-size="1.8" fill="#3a3a3a" textLength="9.3" lengthAdjust="spacingAndGlyphs">DOID:4480</text>
<rect x="453.9" y="299.34" width="1.6" height="1.6" fill="#eab888"/>
<text x="456.8" y="300.79" font-size="1.8" fill="#3a3a3a" textLength="9.3" lengthAdjust="spacingAndGlyphs">DOID:7383</text>
<rect x="469.8" y="240.3" width="1.6" height="1.6" fill="#26268a"/>
<text x="472.5" y="241.75" font-size="1.8" fill="#3a3a3a" textLength="7.6" lengthAdjust="spacingAndGlyphs">DOID:330</text>
<rect x="469.8" y="245.22" width="1.6" height="1.6" fill="#4aa0c8"/>
<text x="472.5" y="246.67" font-size="1.8" fill="#3a3a3a" textLength="7.6" lengthAdjust="spacingAndGlyphs">DOID:3721</text>
<text x="645.8" y="31.8" font-size="3.3" text-anchor="middle" fill="#222" font-weight="bold" textLength="9.4" lengthAdjust="spacingAndGlyphs">GSEA</text>
<rect x="608.1" y="34.3" width="75.7" height="121.3" fill="#fff"/>
<line x1="615.67" y1="34.3" x2="615.67" y2="89.8" stroke="#ededed" stroke-width="0.3"/>
<line x1="623.24" y1="34.3" x2="623.24" y2="89.8" stroke="#ededed" stroke-width="0.3"/>
<line x1="630.81" y1="34.3" x2="630.81" y2="89.8" stroke="#ededed" stroke-width="0.3"/>
<line x1="638.38" y1="34.3" x2="638.38" y2="89.8" stroke="#ededed" stroke-width="0.3"/>
<line x1="645.95" y1="34.3" x2="645.95" y2="89.8" stroke="#ededed" stroke-width="0.3"/>
<line x1="653.52" y1="34.3" x2="653.52" y2="89.8" stroke="#ededed" stroke-width="0.3"/>
<line x1="661.09" y1="34.3" x2="661.09" y2="89.8" stroke="#ededed" stroke-width="0.3"/>
<line x1="668.66" y1="34.3" x2="668.66" y2="89.8" stroke="#ededed" stroke-width="0.3"/>
<line x1="676.23" y1="34.3" x2="676.23" y2="89.8" stroke="#ededed" stroke-width="0.3"/>
<line x1="608.1" y1="84.6" x2="683.8" y2="84.6" stroke="#ededed" stroke-width="0.3"/>
<line x1="608.1" y1="78.8" x2="683.8" y2="78.8" stroke="#ededed" stroke-width="0.3"/>
<line x1="608.1" y1="73" x2="683.8" y2="73" stroke="#ededed" stroke-width="0.3"/>
<line x1="608.1" y1="67.2" x2="683.8" y2="67.2" stroke="#ededed" stroke-width="0.3"/>
<line x1="608.1" y1="61.4" x2="683.8" y2="61.4" stroke="#ededed" stroke-width="0.3"/>
<line x1="608.1" y1="55.6" x2="683.8" y2="55.6" stroke="#ededed" stroke-width="0.3"/>
<line x1="608.1" y1="49.8" x2="683.8" y2="49.8" stroke="#ededed" stroke-width="0.3"/>
<line x1="608.1" y1="44" x2="683.8" y2="44" stroke="#ededed" stroke-width="0.3"/>
<line x1="608.1" y1="38.2" x2="683.8" y2="38.2" stroke="#ededed" stroke-width="0.3"/>
<path d="M608.1 90.4 L609.61 72.98 L611.13 52.06 L612.64 53.04 L614.16 54.16 L615.36 54.92 L616.56 56.04 L617.76 56.38 L618.97 57.5 L620.17 58.33 L621.37 59.23 L622.57 59.69 L623.77 60.68 L624.98 61.35 L626.18 61.87 L627.38 62.5 L628.58 63.27 L629.79 64.49 L630.99 65.25 L632.19 65.87 L633.39 66.41 L634.6 66.96 L635.8 67.74 L637 68.4 L638.2 69.39 L639.4 70.11 L640.61 71.1 L641.81 71.83 L643.01 72.66 L644.21 73.18 L645.42 73.88 L646.62 74.65 L647.82 75.53 L649.02 76.26 L650.22 77.13 L651.43 77.49 L652.63 78.4 L653.83 79.04 L655.03 79.74 L656.55 80.69 L658.06 81.39 L659.32 78.76 L660.59 75.81 L661.85 73.38 L663.11 73.84 L664.37 73.77 L665.63 74.16 L666.84 75.35 L668.05 76.07 L669.27 77.69 L670.48 78.32 L671.69 79.24 L672.9 80.71 L674.11 81.77 L675.32 83.08 L676.53 84.06 L677.74 85.17 L678.96 86.21 L680.17 87.45 L681.38 88.37 L682.59 89.59 L683.8 90.4" stroke="#f5a623" stroke-width="0.55" fill="none" stroke-linejoin="round"/>
<path d="M608.1 90.4 L610.37 70.08 L612.64 58.57 L614.16 52.02 L615.67 44.85 L617.18 45.87 L618.7 46.3 L619.91 46.74 L621.12 47.53 L622.33 48.08 L623.54 49.03 L624.75 49.54 L625.97 50.8 L627.18 51.03 L628.39 52 L629.6 52.71 L630.81 53.09 L632.02 53.81 L633.23 54.78 L634.44 55.46 L635.65 56.22 L636.87 56.46 L638.08 57.38 L639.29 58.32 L640.5 58.83 L641.71 59.85 L642.92 60.4 L644.13 60.93 L645.34 61.3 L646.56 62.08 L647.77 62.99 L648.98 63.54 L650.19 64.59 L651.4 64.98 L652.61 65.46 L653.82 66.74 L655.03 66.9 L656.55 68.02 L658.06 69.52 L659.29 70.61 L660.51 71.29 L661.74 72.16 L662.96 73.74 L664.19 74.52 L665.42 75.42 L666.64 76.28 L667.87 77.64 L669.09 78.29 L670.32 79.32 L671.54 80.21 L672.77 81.29 L674 82.19 L675.22 83.37 L676.45 84.4 L677.67 85.46 L678.9 86.49 L680.12 87.44 L681.35 88.42 L682.57 89.48 L683.8 90.4" stroke="#7fd6f2" stroke-width="0.55" fill="none" stroke-linejoin="round"/>
<path d="M608.1 90.4 L610.37 55.85 L612.64 34.79 L613.87 35.38 L615.1 36.8 L616.32 37.3 L617.55 38.38 L618.78 39.61 L620.01 40.75 L621.23 41.26 L622.46 42.18 L623.69 43.6 L624.92 44.32 L626.15 45.23 L627.37 46.3 L628.6 47.62 L629.83 48.51 L631.06 49.14 L632.28 50.18 L633.51 51.12 L634.74 52.37 L635.97 52.92 L637.19 53.97 L638.42 55.14 L639.65 55.85 L640.88 57.21 L642.1 58.02 L643.33 59 L644.56 59.66 L645.79 60.66 L647.01 62.04 L648.24 62.71 L649.47 64.02 L650.7 64.58 L651.92 65.55 L653.15 66.67 L654.38 68.09 L655.61 68.87 L656.83 69.94 L658.06 70.68 L659.29 71.62 L660.51 72.88 L661.74 73.8 L662.96 74.71 L664.19 75.12 L665.42 76.24 L666.64 77 L667.87 77.88 L669.09 79.08 L670.32 79.83 L671.54 81.05 L672.77 81.87 L674 83.12 L675.22 83.86 L676.45 85.05 L677.67 85.73 L678.9 86.32 L680.12 87.24 L681.35 88.35 L682.57 89.78 L683.8 90.4" stroke="#f04545" stroke-width="0.55" fill="none" stroke-linejoin="round"/>
<path d="M608.1 90.4 L609.61 78.46 L611.13 67.18 L612.64 63.21 L614.16 59.53 L615.67 55.41 L616.99 52.83 L618.32 50.07 L619.64 46.93 L620.97 44.22 L622.23 44.58 L623.49 44.98 L624.75 45.02 L625.99 45.94 L627.22 47.16 L628.45 47.74 L629.69 49.1 L630.92 49.36 L632.16 50.76 L633.39 51.47 L634.62 52.47 L635.86 53.03 L637.09 54.22 L638.32 55.32 L639.56 55.74 L640.79 56.83 L642.02 57.95 L643.26 58.54 L644.49 59.32 L645.73 60.33 L646.96 61.2 L648.19 62.4 L649.43 63.39 L650.66 64.42 L651.89 64.73 L653.13 66.1 L654.36 66.9 L655.59 67.5 L656.83 68.89 L658.06 69.52 L659.29 70.22 L660.51 71.47 L661.74 72.73 L662.96 73.28 L664.19 74.37 L665.42 75.79 L666.64 76.49 L667.87 77.33 L669.09 78.63 L670.32 79.58 L671.54 80.21 L672.77 81.7 L674 82.62 L675.22 83.7 L676.45 84.44 L677.67 85.47 L678.9 86.58 L680.12 87.7 L681.35 88.67 L682.57 89.23 L683.8 90.4" stroke="#2db56c" stroke-width="0.55" fill="none" stroke-linejoin="round"/>
<path d="M608.1 90.4 L609.61 77.29 L611.13 64.09 L612.35 61.57 L613.58 57.99 L614.8 55.18 L616.02 52.26 L617.25 49.09 L618.47 46.62 L620.06 46.63 L621.65 47.23 L623.24 47.81 L624.46 48.1 L625.69 49.41 L626.91 49.73 L628.13 50.85 L629.35 51.25 L630.58 52.61 L631.8 53.11 L633.02 53.57 L634.25 54.68 L635.47 55.43 L636.69 56.3 L637.91 57.05 L639.14 57.99 L640.36 58.89 L641.58 59.67 L642.81 60.09 L644.03 61.25 L645.25 61.8 L646.47 62.43 L647.7 63.24 L648.92 64.1 L650.14 64.87 L651.37 65.85 L652.59 66.73 L653.81 67.83 L655.03 68.66 L656.55 69.47 L658.06 70.3 L659.58 71.26 L660.79 72.22 L662 73.51 L663.21 74.07 L664.42 75.19 L665.63 76.12 L666.84 77.29 L668.05 77.77 L669.27 78.71 L670.48 79.7 L671.69 81.1 L672.9 82.12 L674.11 82.43 L675.32 83.62 L676.53 84.35 L677.74 85.68 L678.96 86.37 L680.17 87.8 L681.38 88.78 L682.59 89.32 L683.8 90.4" stroke="#f0dc30" stroke-width="0.55" fill="none" stroke-linejoin="round"/>
<path d="M608.1 90.4 L610.37 78.68 L612.64 70.2 L614.16 68.63 L615.67 67.11 L616.99 65.5 L618.32 63.77 L619.64 61.57 L620.97 59.82 L622.23 59.73 L623.49 60.65 L624.75 60.8 L625.97 61.85 L627.18 62.54 L628.39 63.53 L629.6 64.35 L630.81 64.83 L632.02 65.66 L633.23 66.55 L634.44 67.16 L635.65 68.02 L636.87 69.15 L638.08 69.74 L639.29 70.72 L640.5 71.48 L641.71 72.69 L642.92 73.05 L644.13 74.05 L645.34 75.28 L646.56 76.2 L647.77 76.78 L648.98 77.42 L650.19 78.48 L651.4 79.28 L652.61 79.85 L653.82 81.04 L655.03 82.02 L656.55 82.04 L658.06 82.38 L659.58 80.43 L661.09 79.08 L662.35 79.23 L663.61 79.82 L664.88 80.66 L666.14 81.5 L667.4 82.39 L668.66 83.18 L669.92 83.41 L671.18 83.9 L672.44 85.02 L673.71 85.34 L674.97 85.92 L676.23 86.92 L677.49 87.28 L678.75 88.07 L680.01 88.51 L681.28 89.36 L682.54 89.83 L683.8 90.4" stroke="#a23aa0" stroke-width="0.55" fill="none" stroke-linejoin="round"/>
<path d="M608.1 90.4 L609.61 79 L611.13 67 L612.64 62.54 L614.16 57.3 L615.67 52.54 L616.99 51.01 L618.32 49.21 L619.64 46.92 L620.97 45.27 L622.23 45.47 L623.49 45.68 L624.75 46.47 L625.99 47.42 L627.22 47.98 L628.45 48.76 L629.69 49.72 L630.92 50.95 L632.16 51.5 L633.39 52.25 L634.62 52.9 L635.86 54.21 L637.09 55.03 L638.32 55.87 L639.56 56.48 L640.79 57.64 L642.02 58.16 L643.26 59.18 L644.49 59.99 L645.73 61.2 L646.96 61.53 L648.19 62.67 L649.43 63.54 L650.66 64.44 L651.89 64.93 L653.13 65.78 L654.36 66.74 L655.59 67.47 L656.83 68.76 L658.06 69.52 L659.29 70.18 L660.51 71.34 L661.74 72.31 L662.96 73.23 L664.19 74.71 L665.42 75.81 L666.64 76.73 L667.87 77.17 L669.09 78.46 L670.32 79.81 L671.54 80.35 L672.77 81.24 L674 82.63 L675.22 83.44 L676.45 84.61 L677.67 85.42 L678.9 86.56 L680.12 87.53 L681.35 88.32 L682.57 89.24 L683.8 90.4" stroke="#3de0c0" stroke-width="0.55" fill="none" stroke-linejoin="round"/>
<path d="M608.1 90.4 L609.61 72.65 L611.13 54.61 L612.64 54.69 L614.16 55.7 L615.36 56.4 L616.56 57.15 L617.76 57.98 L618.97 58.61 L620.17 59.13 L621.37 59.82 L622.57 60.53 L623.77 61.68 L624.98 62.48 L626.18 63.33 L627.38 63.8 L628.58 64.72 L629.79 65.66 L630.99 66.25 L632.19 66.65 L633.39 67.48 L634.6 68.28 L635.8 69.24 L637 69.62 L638.2 70.64 L639.4 71.49 L640.61 72.28 L641.81 72.94 L643.01 73.68 L644.21 74.48 L645.42 75.15 L646.62 75.9 L647.82 76.72 L649.02 77.58 L650.22 78.28 L651.43 78.91 L652.63 79.28 L653.83 80.71 L655.03 80.79 L656.55 81.41 L658.06 82.04 L659.32 79.62 L660.59 77.6 L661.85 75.66 L663.17 75.24 L664.5 75.47 L665.82 75.42 L667.15 75.9 L668.43 77.11 L669.71 77.81 L670.99 78.94 L672.27 80.28 L673.55 81.43 L674.83 82.78 L676.11 83.56 L677.39 84.81 L678.68 85.8 L679.96 87.25 L681.24 88.51 L682.52 89.51 L683.8 90.4" stroke="#f7804a" stroke-width="0.55" fill="none" stroke-linejoin="round"/>
<path d="M608.1 90.4 L610.37 61.62 L611.7 56.54 L613.02 51.9 L614.35 46.99 L615.67 41.96 L616.93 42.6 L618.19 42.65 L619.46 42.68 L620.68 44.02 L621.91 44.35 L623.14 45.42 L624.36 46.4 L625.59 46.94 L626.82 48.01 L628.04 48.86 L629.27 49.6 L630.5 50.81 L631.72 51.91 L632.95 52.41 L634.18 53.27 L635.4 54.53 L636.63 55.42 L637.86 55.84 L639.08 57.25 L640.31 58.05 L641.54 58.53 L642.77 59.24 L643.99 60.27 L645.22 61.23 L646.45 61.97 L647.67 63.18 L648.9 64.19 L650.13 64.61 L651.35 65.84 L652.58 66.5 L653.81 67.49 L655.03 68.36 L656.28 69.31 L657.54 70.47 L658.79 71.42 L660.04 72.26 L661.29 72.87 L662.54 74.44 L663.79 75.08 L665.04 76.24 L666.29 77.16 L667.54 77.72 L668.79 78.97 L670.04 80.08 L671.29 80.85 L672.54 81.61 L673.79 82.62 L675.05 83.6 L676.3 84.55 L677.55 85.32 L678.8 86.41 L680.05 87.8 L681.3 88.41 L682.55 89.38 L683.8 90.4" stroke="#5a48d8" stroke-width="0.55" fill="none" stroke-linejoin="round"/>
<path d="M608.1 90.4 L610.37 79.8 L612.64 71.36 L614.16 69.87 L615.67 68.07 L616.99 66.62 L618.32 64.61 L619.64 62.94 L620.97 61.6 L622.23 61.78 L623.49 62.25 L624.75 62.26 L625.97 63.58 L627.18 64.55 L628.39 64.83 L629.6 65.99 L630.81 66.8 L632.02 67.48 L633.23 68.25 L634.44 69.54 L635.65 69.77 L636.87 70.94 L638.08 71.51 L639.29 72.87 L640.5 73.2 L641.71 74.48 L642.92 74.94 L644.13 76.26 L645.34 76.49 L646.56 77.61 L647.77 78.55 L648.98 79.55 L650.19 80.17 L651.4 80.93 L652.61 81.69 L653.82 82.31 L655.03 83.19 L656.55 83.86 L658.06 83.69 L659.58 82.52 L661.09 81.05 L662.37 81.48 L663.65 82.07 L664.93 82.88 L666.21 83.33 L667.5 84.17 L668.78 84.9 L670.06 85.67 L671.34 86.02 L672.62 86.46 L673.9 87.24 L675.18 88.31 L676.46 88.89 L677.74 89.24 L678.96 89.43 L680.17 89.51 L681.38 89.76 L682.59 90.03 L683.8 90.4" stroke="#c0bcf0" stroke-width="0.55" fill="none" stroke-linejoin="round"/>
<path d="M608.1 90.4 L610.37 78.52 L612.64 69.58 L614.16 67.91 L615.67 65.89 L616.99 64.6 L618.32 62.85 L619.64 61.68 L620.97 60.42 L622.23 60.91 L623.49 61.13 L624.75 61.31 L625.97 62.05 L627.18 62.84 L628.39 64.02 L629.6 64.68 L630.81 65.47 L632.02 66.71 L633.23 67.58 L634.44 68.29 L635.65 69.07 L636.87 69.7 L638.08 70.31 L639.29 71.17 L640.5 72.32 L641.71 72.95 L642.92 74.05 L644.13 74.43 L645.34 75.91 L646.56 76.21 L647.77 76.96 L648.98 77.78 L650.19 79.2 L651.4 79.61 L652.61 80.38 L653.82 81.39 L655.03 82.24 L656.55 82.45 L658.06 82.66 L659.58 81.1 L661.09 80.24 L662.31 80.47 L663.54 81.24 L664.76 81.63 L665.98 82.65 L667.2 82.77 L668.43 83.82 L669.65 84.5 L670.87 85.13 L672.1 85.85 L673.32 86.53 L674.54 86.99 L675.76 87.18 L676.99 88.08 L678.35 88.86 L679.71 89.01 L681.07 89.49 L682.44 90.15 L683.8 90.4" stroke="#c07ef2" stroke-width="0.55" fill="none" stroke-linejoin="round"/>
<path d="M608.1 90.4 L609.61 73.14 L611.13 57 L612.64 57.33 L614.16 57.65 L615.36 58.56 L616.56 59.62 L617.76 60.55 L618.97 60.84 L620.17 61.91 L621.37 62.85 L622.57 63.33 L623.77 64.26 L624.98 64.81 L626.18 66.08 L627.38 66.69 L628.58 67.33 L629.79 68.27 L630.99 69.1 L632.19 69.42 L633.39 70.15 L634.6 71.57 L635.8 71.77 L637 72.79 L638.2 73.51 L639.4 74.06 L640.61 75.37 L641.81 75.99 L643.01 77.07 L644.21 77.41 L645.42 78.42 L646.62 79.28 L647.82 79.7 L649.02 80.5 L650.22 81.27 L651.43 82.18 L652.63 82.88 L653.83 84.11 L655.03 84.58 L656.55 84.99 L658.06 85.08 L659.58 84.73 L661.09 83.68 L662.6 83.66 L663.84 84.11 L665.08 84.64 L666.32 85.06 L667.56 85.02 L668.8 86.15 L670.04 86.28 L671.28 86.83 L672.51 87.41 L673.75 87.41 L674.99 88.09 L676.23 88.66 L677.49 89.3 L678.75 89.39 L680.01 89.25 L681.28 89.74 L682.54 89.86 L683.8 90.4" stroke="#f5b0b0" stroke-width="0.55" fill="none" stroke-linejoin="round"/>
<path d="M608.1 90.4 L610.37 76.04 L612.64 67.33 L614.16 66.34 L615.67 64.65 L616.99 64.54 L618.32 63.98 L619.64 63.84 L620.97 63.65 L622.19 64.27 L623.4 65.51 L624.62 65.83 L625.84 66.84 L627.05 67.62 L628.27 68.66 L629.49 69.14 L630.7 70.11 L631.92 70.73 L633.14 71.82 L634.35 72.11 L635.57 73.37 L636.78 73.92 L638 74.79 L639.22 75.32 L640.43 76.6 L641.65 77.3 L642.87 77.75 L644.08 78.51 L645.3 79.59 L646.52 80.21 L647.73 81.2 L648.95 81.77 L650.17 82.6 L651.38 83.49 L652.6 84.07 L653.82 84.84 L655.03 85.62 L656.25 85.63 L657.46 85.05 L658.67 85.29 L659.88 84.56 L661.09 84.25 L662.37 85.31 L663.65 85.5 L664.93 85.84 L666.21 86.69 L667.5 87.1 L668.78 87.13 L670.06 87.93 L671.34 88.1 L672.62 88.94 L673.9 89.34 L675.18 89.58 L676.46 89.82 L677.74 90.4 L678.96 90.2 L680.17 90.58 L681.38 90.36 L682.59 90.47 L683.8 90.4" stroke="#eab888" stroke-width="0.55" fill="none" stroke-linejoin="round"/>
<path d="M608.1 90.4 L610.37 77.81 L612.64 71.43 L614.16 69.47 L615.67 67.23 L616.99 65.5 L618.32 63.11 L619.64 61.38 L620.97 59.05 L622.23 59.56 L623.49 59.85 L624.75 60.33 L625.97 60.87 L627.18 61.61 L628.39 62.99 L629.6 63.5 L630.81 64.64 L632.02 65.5 L633.23 65.88 L634.44 66.6 L635.65 67.61 L636.87 68.78 L638.08 69.58 L639.29 70.21 L640.5 71.01 L641.71 71.93 L642.92 72.68 L644.13 73.42 L645.34 74.3 L646.56 75.41 L647.77 76.44 L648.98 76.73 L650.19 78.11 L651.4 78.29 L652.61 79.8 L653.82 80.44 L655.03 81.26 L656.55 81.17 L658.06 81.52 L659.58 79.96 L661.09 78.38 L662.37 78.78 L663.65 79.94 L664.93 80.43 L666.21 81.66 L667.5 82.43 L668.78 83.49 L670.06 84.18 L671.34 84.7 L672.62 85.61 L673.9 86.57 L675.18 87.59 L676.46 88.6 L677.74 89.24 L678.96 89.3 L680.17 89.59 L681.38 90.12 L682.59 90.04 L683.8 90.4" stroke="#26268a" stroke-width="0.55" fill="none" stroke-linejoin="round"/>
<path d="M608.1 90.4 L610.37 78.91 L612.64 70.37 L614.16 69.19 L615.67 67.55 L616.99 65.88 L618.32 64.36 L619.64 62.51 L620.97 60.54 L622.23 61.31 L623.49 61.62 L624.75 61.76 L625.97 62.8 L627.18 63.47 L628.39 64.6 L629.6 65.26 L630.81 65.84 L632.02 67 L633.23 67.87 L634.44 68.82 L635.65 69.72 L636.87 70.07 L638.08 71.04 L639.29 72.33 L640.5 72.99 L641.71 73.68 L642.92 74.33 L644.13 75.43 L645.34 76.43 L646.56 77.33 L647.77 78.07 L648.98 78.69 L650.19 79.57 L651.4 80.27 L652.61 80.89 L653.82 81.96 L655.03 82.97 L656.55 83.05 L658.06 83.74 L659.58 81.42 L661.09 79.87 L662.33 80.51 L663.58 81.34 L664.82 82.28 L666.06 82.87 L667.31 83.14 L668.55 84.17 L669.8 84.77 L671.04 85.79 L672.28 86.19 L673.53 86.87 L674.77 87.57 L676.01 88.65 L677.26 89.44 L678.5 89.82 L679.83 89.68 L681.15 89.98 L682.48 90.25 L683.8 90.4" stroke="#4aa0c8" stroke-width="0.55" fill="none" stroke-linejoin="round"/>
<line x1="608.1" y1="90.4" x2="683.8" y2="90.4" stroke="#9a9a9a" stroke-width="0.4"/>
<rect x="608.1" y="89.8" width="75.7" height="1.9" fill="#dcdcdc"/>
<path d="M613.16 93.10v3.8M630.24 93.10v3.8" stroke="#f5b04a" stroke-width="0.55" opacity="0.85"/>
<path d="M632.12 93.10v3.8M632.74 93.10v3.8M635.42 93.10v3.8M636.04 93.10v3.8M636.66 93.10v3.8M637.28 93.10v3.8M637.90 93.10v3.8M638.52 93.10v3.8M639.14 93.10v3.8M639.76 93.10v3.8M640.38 93.10v3.8M641.00 93.10v3.8M641.62 93.10v3.8M642.24 93.10v3.8M642.86 93.10v3.8M643.48 93.10v3.8M644.10 93.10v3.8" stroke="#f5b04a" stroke-width="0.45"/>
<path d="M613.16 97.20v3.8M630.24 97.20v3.8M631.90 97.20v3.8" stroke="#8fdcf5" stroke-width="0.55" opacity="0.85"/>
<path d="M637.07 97.20v3.8M637.69 97.20v3.8M638.31 97.20v3.8M638.93 97.20v3.8M639.55 97.20v3.8M640.17 97.20v3.8M640.79 97.20v3.8M641.41 97.20v3.8" stroke="#8fdcf5" stroke-width="0.45"/>
<path d="M613.16 101.30v3.8M630.24 101.30v3.8M632.45 101.30v3.8" stroke="#f05050" stroke-width="0.55" opacity="0.85"/>
<path d="M637.07 101.30v3.8M637.69 101.30v3.8M638.31 101.30v3.8M640.17 101.30v3.8M640.79 101.30v3.8M641.41 101.30v3.8M642.03 101.30v3.8M642.65 101.30v3.8M643.89 101.30v3.8" stroke="#f05050" stroke-width="0.45"/>
<path d="M613.16 105.40v3.8M620.33 105.40v3.8M627.49 105.40v3.8M657.24 105.40v3.8" stroke="#2fb572" stroke-width="0.55" opacity="0.85"/>
<path d="M630.46 105.40v3.8M631.08 105.40v3.8M631.70 105.40v3.8M637.07 105.40v3.8M637.69 105.40v3.8M638.31 105.40v3.8M638.93 105.40v3.8M640.17 105.40v3.8M640.79 105.40v3.8M641.41 105.40v3.8M642.03 105.40v3.8M642.65 105.40v3.8" stroke="#2fb572" stroke-width="0.45"/>
<path d="M609.31 109.50v3.8M613.16 109.50v3.8M626.39 109.50v3.8M656.69 109.50v3.8M662.75 109.50v3.8" stroke="#f2e436" stroke-width="0.55" opacity="0.85"/>
<path d="M619.44 109.50v3.8M620.06 109.50v3.8M630.46 109.50v3.8M631.70 109.50v3.8M632.94 109.50v3.8M636.04 109.50v3.8M636.66 109.50v3.8M637.90 109.50v3.8M638.52 109.50v3.8M640.38 109.50v3.8M641.62 109.50v3.8M642.24 109.50v3.8M643.48 109.50v3.8M644.10 109.50v3.8M644.72 109.50v3.8" stroke="#f2e436" stroke-width="0.45"/>
<path d="M637.40 113.60v3.8M657.24 113.60v3.8M662.20 113.60v3.8" stroke="#a83aa8" stroke-width="0.55" opacity="0.85"/>
<path d="M610.15 113.60v3.8M610.77 113.60v3.8M612.28 113.60v3.8M612.90 113.60v3.8M641.48 113.60v3.8M642.10 113.60v3.8M642.72 113.60v3.8M643.34 113.60v3.8M643.96 113.60v3.8M644.58 113.60v3.8M645.20 113.60v3.8M654.70 113.60v3.8M655.32 113.60v3.8" stroke="#a83aa8" stroke-width="0.45"/>
<path d="M637.40 117.70v3.8M657.24 117.70v3.8M662.20 117.70v3.8" stroke="#3de0c0" stroke-width="0.55" opacity="0.85"/>
<path d="M609.53 117.70v3.8M610.15 117.70v3.8M610.77 117.70v3.8M613.52 117.70v3.8M641.48 117.70v3.8M642.10 117.70v3.8M642.72 117.70v3.8M643.34 117.70v3.8M643.96 117.70v3.8M645.20 117.70v3.8M645.82 117.70v3.8M654.70 117.70v3.8M655.32 117.70v3.8" stroke="#3de0c0" stroke-width="0.45"/>
<path d="M637.40 121.80v3.8M657.24 121.80v3.8M662.20 121.80v3.8" stroke="#f7804a" stroke-width="0.55" opacity="0.85"/>
<path d="M609.53 121.80v3.8M610.15 121.80v3.8M610.77 121.80v3.8M612.28 121.80v3.8M613.52 121.80v3.8M641.48 121.80v3.8M642.10 121.80v3.8M642.72 121.80v3.8M643.34 121.80v3.8M643.96 121.80v3.8M644.58 121.80v3.8M645.20 121.80v3.8M645.82 121.80v3.8M654.70 121.80v3.8" stroke="#f7804a" stroke-width="0.45"/>
<path d="M610.96 125.90v3.8M615.37 125.90v3.8M617.02 125.90v3.8M622.53 125.90v3.8M631.34 125.90v3.8M639.61 125.90v3.8M642.36 125.90v3.8M644.02 125.90v3.8M652.83 125.90v3.8" stroke="#6048d8" stroke-width="0.55" opacity="0.85"/>
<path d="M666.06 130.00v3.8M671.01 130.00v3.8M674.32 130.00v3.8M678.73 130.00v3.8" stroke="#c8c4f0" stroke-width="0.55" opacity="0.85"/>
<path d="M609.53 130.00v3.8M614.49 130.00v3.8M615.11 130.00v3.8M617.59 130.00v3.8M618.83 130.00v3.8M619.45 130.00v3.8M625.65 130.00v3.8M628.13 130.00v3.8M629.37 130.00v3.8M631.23 130.00v3.8M634.95 130.00v3.8M636.81 130.00v3.8M638.67 130.00v3.8M639.91 130.00v3.8M642.39 130.00v3.8M643.63 130.00v3.8M645.49 130.00v3.8M646.11 130.00v3.8M646.73 130.00v3.8M648.59 130.00v3.8M651.69 130.00v3.8M653.55 130.00v3.8M654.17 130.00v3.8M655.41 130.00v3.8M657.27 130.00v3.8M659.75 130.00v3.8M660.99 130.00v3.8M662.23 130.00v3.8M662.85 130.00v3.8M663.47 130.00v3.8" stroke="#c8c4f0" stroke-width="0.45"/>
<path d="M622.53 134.10v3.8M625.83 134.10v3.8M678.73 134.10v3.8" stroke="#c080f5" stroke-width="0.55" opacity="0.85"/>
<path d="M609.53 134.10v3.8M610.15 134.10v3.8M614.48 134.10v3.8M615.10 134.10v3.8M615.72 134.10v3.8M616.34 134.10v3.8M616.96 134.10v3.8M617.58 134.10v3.8M618.20 134.10v3.8M618.82 134.10v3.8M619.44 134.10v3.8M620.06 134.10v3.8M629.43 134.10v3.8M630.67 134.10v3.8M631.29 134.10v3.8M631.91 134.10v3.8M633.15 134.10v3.8M633.77 134.10v3.8M634.39 134.10v3.8M635.97 134.10v3.8M636.59 134.10v3.8M638.45 134.10v3.8M639.07 134.10v3.8M641.00 134.10v3.8M641.62 134.10v3.8M642.24 134.10v3.8M642.86 134.10v3.8M643.48 134.10v3.8M648.16 134.10v3.8M648.78 134.10v3.8M649.40 134.10v3.8M652.50 134.10v3.8M653.12 134.10v3.8M653.74 134.10v3.8M654.36 134.10v3.8M654.98 134.10v3.8M655.60 134.10v3.8M656.22 134.10v3.8M657.46 134.10v3.8M659.11 134.10v3.8M660.35 134.10v3.8" stroke="#c080f5" stroke-width="0.45"/>
<path d="M609.31 138.20v3.8M613.16 138.20v3.8M625.28 138.20v3.8M637.40 138.20v3.8M654.48 138.20v3.8M657.24 138.20v3.8M662.20 138.20v3.8" stroke="#f5b8b8" stroke-width="0.55" opacity="0.85"/>
<path d="M642.72 138.20v3.8M643.34 138.20v3.8M644.58 138.20v3.8M645.20 138.20v3.8" stroke="#f5b8b8" stroke-width="0.45"/>
<path d="M609.31 142.30v3.8M613.16 142.30v3.8M615.37 142.30v3.8M625.83 142.30v3.8M631.34 142.30v3.8M637.40 142.30v3.8M641.26 142.30v3.8M644.02 142.30v3.8M654.48 142.30v3.8M657.24 142.30v3.8M662.20 142.30v3.8" stroke="#eac39a" stroke-width="0.55" opacity="0.85"/>
<path d="M662.20 146.40v3.8" stroke="#2a2a8a" stroke-width="0.55" opacity="0.85"/>
<path d="M609.53 146.40v3.8M610.15 146.40v3.8M610.77 146.40v3.8M611.39 146.40v3.8M614.48 146.40v3.8M615.72 146.40v3.8M616.34 146.40v3.8M616.96 146.40v3.8M618.20 146.40v3.8M619.44 146.40v3.8M620.06 146.40v3.8M621.30 146.40v3.8M621.92 146.40v3.8M622.54 146.40v3.8M625.50 146.40v3.8M626.12 146.40v3.8M628.81 146.40v3.8M630.05 146.40v3.8M631.29 146.40v3.8M632.53 146.40v3.8M634.32 146.40v3.8M635.56 146.40v3.8M636.18 146.40v3.8M636.80 146.40v3.8M639.28 146.40v3.8M640.52 146.40v3.8M641.14 146.40v3.8M641.76 146.40v3.8M643.00 146.40v3.8M643.62 146.40v3.8M647.54 146.40v3.8M648.78 146.40v3.8M653.12 146.40v3.8M654.36 146.40v3.8M654.98 146.40v3.8M655.60 146.40v3.8M656.84 146.40v3.8M657.46 146.40v3.8M659.11 146.40v3.8M660.35 146.40v3.8M678.40 146.40v3.8M679.02 146.40v3.8" stroke="#2a2a8a" stroke-width="0.45"/>
<path d="M662.20 150.50v3.8" stroke="#4aa0c8" stroke-width="0.55" opacity="0.85"/>
<path d="M609.53 150.50v3.8M610.15 150.50v3.8M611.39 150.50v3.8M614.48 150.50v3.8M615.10 150.50v3.8M615.72 150.50v3.8M616.96 150.50v3.8M618.82 150.50v3.8M620.06 150.50v3.8M620.68 150.50v3.8M621.30 150.50v3.8M622.54 150.50v3.8M625.50 150.50v3.8M626.12 150.50v3.8M628.81 150.50v3.8M630.05 150.50v3.8M631.91 150.50v3.8M632.53 150.50v3.8M634.32 150.50v3.8M634.94 150.50v3.8M635.56 150.50v3.8M636.18 150.50v3.8M637.42 150.50v3.8M638.04 150.50v3.8M639.28 150.50v3.8M641.14 150.50v3.8M641.76 150.50v3.8M642.38 150.50v3.8M643.00 150.50v3.8M643.62 150.50v3.8M648.16 150.50v3.8M650.02 150.50v3.8M652.50 150.50v3.8M653.12 150.50v3.8M654.36 150.50v3.8M655.60 150.50v3.8M656.22 150.50v3.8M656.84 150.50v3.8M657.46 150.50v3.8M659.11 150.50v3.8M659.73 150.50v3.8M660.35 150.50v3.8M678.40 150.50v3.8M679.02 150.50v3.8" stroke="#4aa0c8" stroke-width="0.45"/>
<rect x="608.1" y="34.3" width="75.7" height="121.3" fill="none" stroke="#b5b5b5" stroke-width="0.4"/>
<text x="607" y="91.25" font-size="2.5" text-anchor="end">0.0</text>
<text x="607" y="85.45" font-size="2.5" text-anchor="end">0.1</text>
<text x="607" y="79.65" font-size="2.5" text-anchor="end">0.2</text>
<text x="607" y="73.85" font-size="2.5" text-anchor="end">0.3</text>
<text x="607" y="68.05" font-size="2.5" text-anchor="end">0.4</text>
<text x="607" y="62.25" font-size="2.5" text-anchor="end">0.5</text>
<text x="607" y="56.45" font-size="2.5" text-anchor="end">0.6</text>
<text x="607" y="50.65" font-size="2.5" text-anchor="end">0.7</text>
<text x="607" y="44.85" font-size="2.5" text-anchor="end">0.8</text>
<text x="607" y="39.05" font-size="2.5" text-anchor="end">0.9</text>
<text x="608.1" y="157.6" font-size="1.7" text-anchor="middle" fill="#444">0</text>
<text x="615.67" y="157.6" font-size="1.7" text-anchor="middle" fill="#444">2,500</text>
<text x="623.24" y="157.6" font-size="1.7" text-anchor="middle" fill="#444">5,000</text>
<text x="630.81" y="157.6" font-size="1.7" text-anchor="middle" fill="#444">7,500</text>
<text x="638.38" y="157.6" font-size="1.7" text-anchor="middle" fill="#444">10,000</text>
<text x="645.95" y="157.6" font-size="1.7" text-anchor="middle" fill="#444">12,500</text>
<text x="653.52" y="157.6" font-size="1.7" text-anchor="middle" fill="#444">15,000</text>
<text x="661.09" y="157.6" font-size="1.7" text-anchor="middle" fill="#444">17,500</text>
<text x="668.66" y="157.6" font-size="1.7" text-anchor="middle" fill="#444">20,000</text>
<text x="676.23" y="157.6" font-size="1.7" text-anchor="middle" fill="#444">22,500</text>
<text x="683.8" y="157.6" font-size="1.7" text-anchor="middle" fill="#444">25,000</text>
<text x="646.6" y="161.1" font-size="2.1" text-anchor="middle" fill="#222" font-weight="bold" textLength="45" lengthAdjust="spacingAndGlyphs">Pre-ranked Position ---------------------- GENE Position</text>
<text x="598.3" y="64.3" font-size="3" text-anchor="middle" fill="#222" textLength="21.7" lengthAdjust="spacingAndGlyphs" transform="rotate(-90 598.3 64.3)">Enrichment Score</text>
<rect x="686.4" y="35.3" width="1.6" height="1.6" fill="#f5a623"/>
<text x="689.2" y="36.75" font-size="1.8" fill="#3a3a3a" textLength="15.5" lengthAdjust="spacingAndGlyphs">R-HSA-6523336</text>
<rect x="686.4" y="39.82" width="1.6" height="1.6" fill="#7fd6f2"/>
<text x="689.2" y="41.27" font-size="1.8" fill="#3a3a3a" textLength="15.5" lengthAdjust="spacingAndGlyphs">R-HSA-9877404</text>
<rect x="686.4" y="44.34" width="1.6" height="1.6" fill="#f04545"/>
<text x="689.2" y="45.79" font-size="1.8" fill="#3a3a3a" textLength="15.5" lengthAdjust="spacingAndGlyphs">R-HSA-3163383</text>
<rect x="686.4" y="48.86" width="1.6" height="1.6" fill="#2db56c"/>
<text x="689.2" y="50.31" font-size="1.8" fill="#3a3a3a" textLength="15.5" lengthAdjust="spacingAndGlyphs">R-HSA-3761932</text>
<rect x="686.4" y="53.38" width="1.6" height="1.6" fill="#f0dc30"/>
<text x="689.2" y="54.83" font-size="1.8" fill="#3a3a3a" textLength="15.5" lengthAdjust="spacingAndGlyphs">R-HSA-2907325</text>
<rect x="686.4" y="57.9" width="1.6" height="1.6" fill="#a23aa0"/>
<text x="689.2" y="59.35" font-size="1.8" fill="#3a3a3a" textLength="15.5" lengthAdjust="spacingAndGlyphs">R-HSA-3356381</text>
<rect x="686.4" y="62.42" width="1.6" height="1.6" fill="#3de0c0"/>
<text x="689.2" y="63.87" font-size="1.8" fill="#3a3a3a" textLength="15.5" lengthAdjust="spacingAndGlyphs">R-HSA-2941619</text>
<rect x="686.4" y="66.94" width="1.6" height="1.6" fill="#f7804a"/>
<text x="689.2" y="68.39" font-size="1.8" fill="#3a3a3a" textLength="15.5" lengthAdjust="spacingAndGlyphs">R-HSA-1639923</text>
<rect x="686.4" y="71.46" width="1.6" height="1.6" fill="#5a48d8"/>
<text x="689.2" y="72.91" font-size="1.8" fill="#3a3a3a" textLength="15.5" lengthAdjust="spacingAndGlyphs">R-HSA-2638397</text>
<rect x="686.4" y="75.98" width="1.6" height="1.6" fill="#c0bcf0"/>
<text x="689.2" y="77.43" font-size="1.8" fill="#3a3a3a" textLength="15.5" lengthAdjust="spacingAndGlyphs">R-HSA-4854185</text>
<rect x="686.4" y="80.5" width="1.6" height="1.6" fill="#c07ef2"/>
<text x="689.2" y="81.95" font-size="1.8" fill="#3a3a3a" textLength="15.5" lengthAdjust="spacingAndGlyphs">R-HSA-313266</text>
<rect x="686.4" y="85.02" width="1.6" height="1.6" fill="#f5b0b0"/>
<text x="689.2" y="86.47" font-size="1.8" fill="#3a3a3a" textLength="15.5" lengthAdjust="spacingAndGlyphs">R-HSA-7505089</text>
<rect x="686.4" y="89.54" width="1.6" height="1.6" fill="#eab888"/>
<text x="689.2" y="90.99" font-size="1.8" fill="#3a3a3a" textLength="15.5" lengthAdjust="spacingAndGlyphs">R-HSA-7947715</text>
<rect x="705.8" y="35.3" width="1.6" height="1.6" fill="#26268a"/>
<text x="708.6" y="36.75" font-size="1.8" fill="#3a3a3a" textLength="15" lengthAdjust="spacingAndGlyphs">R-HSA-2039341</text>
<rect x="705.8" y="39.82" width="1.6" height="1.6" fill="#4aa0c8"/>
<text x="708.6" y="41.27" font-size="1.8" fill="#3a3a3a" textLength="15" lengthAdjust="spacingAndGlyphs">R-HSA-572619</text>
<text x="7.9" y="4.9" font-size="3.6" fill="#111" font-weight="bold">A</text>
<text x="143" y="5.1" font-size="3.6" fill="#111" font-weight="bold">B</text>
<text x="5.6" y="143.2" font-size="2.6" fill="#111" font-weight="bold">C</text>
<text x="119.7" y="145.3" font-size="2.8" fill="#111" font-weight="bold">D</text>
<text x="248.6" y="7.8" font-size="4" fill="#111" font-weight="bold">E</text>
<text x="358.9" y="4.6" font-size="3.2" fill="#111" font-weight="bold">F</text>
<text x="246.8" y="220" font-size="3.2" fill="#111" font-weight="bold">G</text>
<text x="355.7" y="218.2" font-size="2.6" fill="#111" font-weight="bold">H</text>
<text x="492.6" y="4.8" font-size="3.2" fill="#111" font-weight="bold">I</text>
<text x="585.8" y="5" font-size="3.4" fill="#111" font-weight="bold">J</text>
</g>
</svg></body></html>
